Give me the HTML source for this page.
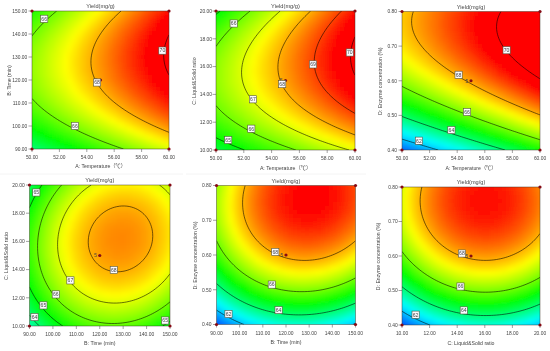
<!DOCTYPE html><html><head><meta charset="utf-8"><title>Yield contour plots</title><style>html,body{margin:0;padding:0;background:#fff}svg{display:block}text{font-family:"Liberation Sans","Noto Sans CJK SC",sans-serif;fill:#444}</style></head><body><svg width="550" height="351" viewBox="0 0 550 351"><defs><filter id="bl" filterUnits="userSpaceOnUse" x="0" y="0" width="550" height="351"><feGaussianBlur stdDeviation="2.0"/></filter><clipPath id="c1"><rect x="32" y="11" width="137" height="138"/></clipPath><clipPath id="c2"><rect x="216" y="11" width="139" height="139"/></clipPath><clipPath id="c3"><rect x="402" y="11.5" width="138" height="138.5"/></clipPath><clipPath id="c4"><rect x="29.5" y="185" width="140.5" height="141"/></clipPath><clipPath id="c5"><rect x="216.5" y="185.5" width="139" height="139"/></clipPath><clipPath id="c6"><rect x="402" y="187" width="138" height="138"/></clipPath></defs><rect width="550" height="351" fill="#fff"/><path d="M0 174h183M186 174h180" stroke="#f1f1f1" stroke-width="0.8" fill="none"/><g clip-path="url(#c1)"><g filter="url(#bl)" shape-rendering="crispEdges"><path fill="#00ff1b" d="M24 3h4v4h-4zM28 131h4v4h-4zM36 135h4v4h-4zM76 151h4v4h-4zM88 155h4v4h-4z"/><path fill="#00ff0c" d="M28 3h4v4h-4z"/><path fill="#03ff00" d="M32 3h4v4h-4zM32 127h4v4h-4zM40 131h4v4h-4zM48 135h4v4h-4z"/><path fill="#12ff00" d="M36 3h4v4h-4zM24 119h4v4h-4zM108 155h4v4h-4z"/><path fill="#21ff00" d="M40 3h4v4h-4zM36 123h4v4h-4z"/><path fill="#2dff00" d="M44 3h4v4h-4zM24 19h4v4h-4zM28 115h4v4h-4zM40 123h4v4h-4zM48 127h4v4h-4zM64 135h4v4h-4zM84 143h4v4h-4z"/><path fill="#3cff00" d="M48 3h4v4h-4zM28 111h4v4h-4zM100 147h4v4h-4zM112 151h4v4h-4z"/><path fill="#4bff00" d="M52 3h4v4h-4zM24 103h4v4h-4zM28 107h4v4h-4zM76 135h4v4h-4zM96 143h4v4h-4zM132 155h4v4h-4z"/><path fill="#57ff00" d="M56 3h4v4h-4zM36 19h4v4h-4zM32 23h4v4h-4zM24 99h4v4h-4zM28 103h4v4h-4zM32 107h4v4h-4zM56 123h4v4h-4zM72 131h4v4h-4zM80 135h4v4h-4zM100 143h4v4h-4zM112 147h4v4h-4zM124 151h4v4h-4z"/><path fill="#66ff00" d="M60 3h4v4h-4zM24 39h4v4h-4zM48 115h4v4h-4zM96 139h4v4h-4z"/><path fill="#75ff00" d="M64 3h4v4h-4zM28 39h4v4h-4zM24 47h4v4h-4zM28 91h4v4h-4zM48 111h4v4h-4zM60 119h4v4h-4zM92 135h4v4h-4zM112 143h4v4h-4zM124 147h4v4h-4zM136 151h4v4h-4z"/><path fill="#84ff00" d="M68 3h4v4h-4zM36 35h4v4h-4zM24 63h4v4h-4zM24 67h4v4h-4zM28 83h4v4h-4zM36 95h4v4h-4zM40 99h4v4h-4zM44 103h4v4h-4zM48 107h4v4h-4zM80 127h4v4h-4zM108 139h4v4h-4zM156 155h4v4h-4z"/><path fill="#90ff00" d="M72 3h4v4h-4zM32 47h4v4h-4zM28 63h4v4h-4zM28 67h4v4h-4zM32 83h4v4h-4zM40 95h4v4h-4zM44 99h4v4h-4zM48 103h4v4h-4zM64 115h4v4h-4zM124 143h4v4h-4zM148 151h4v4h-4z"/><path fill="#9fff00" d="M76 3h4v4h-4zM44 35h4v4h-4zM36 79h4v4h-4zM76 119h4v4h-4zM168 155h4v4h-4z"/><path fill="#aeff00" d="M80 3h4v4h-4zM48 35h4v4h-4zM40 51h4v4h-4zM136 143h4v4h-4zM148 147h4v4h-4z"/><path fill="#baff00" d="M84 3h4v4h-4zM52 35h4v4h-4zM44 51h4v4h-4zM68 107h4v4h-4zM120 135h4v4h-4z"/><path fill="#c9ff00" d="M88 3h4v4h-4zM56 35h4v4h-4zM52 43h4v4h-4zM48 51h4v4h-4zM48 75h4v4h-4zM60 95h4v4h-4zM64 99h4v4h-4zM68 103h4v4h-4zM92 119h4v4h-4zM116 131h4v4h-4zM136 139h4v4h-4zM172 151h4v4h-4z"/><path fill="#d8ff00" d="M92 3h4v4h-4zM64 31h4v4h-4zM56 43h4v4h-4zM52 55h4v4h-4zM52 71h4v4h-4zM56 83h4v4h-4zM84 111h4v4h-4zM132 135h4v4h-4z"/><path fill="#e4ff00" d="M96 3h4v4h-4zM60 43h4v4h-4zM56 55h4v4h-4zM56 71h4v4h-4zM60 83h4v4h-4zM88 111h4v4h-4zM136 135h4v4h-4z"/><path fill="#f3ff00" d="M100 3h4v4h-4zM72 31h4v4h-4zM60 59h4v4h-4zM60 63h4v4h-4zM60 67h4v4h-4zM64 79h4v4h-4zM68 87h4v4h-4zM88 107h4v4h-4zM100 115h4v4h-4zM124 127h4v4h-4zM132 131h4v4h-4z"/><path fill="#ffff00" d="M104 3h4v4h-4zM68 43h4v4h-4zM64 55h4v4h-4zM64 59h4v4h-4zM64 63h4v4h-4zM64 67h4v4h-4zM68 79h4v4h-4zM72 87h4v4h-4zM88 103h4v4h-4zM112 119h4v4h-4zM120 123h4v4h-4zM128 127h4v4h-4z"/><path fill="#fff000" d="M108 3h4v4h-4zM80 31h4v4h-4zM80 91h4v4h-4zM84 95h4v4h-4zM88 99h4v4h-4zM104 111h4v4h-4zM164 139h4v4h-4zM176 143h4v4h-4z"/><path fill="#ffe100" d="M112 3h4v4h-4zM84 31h4v4h-4zM76 47h4v4h-4zM76 75h4v4h-4zM80 83h4v4h-4zM116 115h4v4h-4zM140 127h4v4h-4z"/><path fill="#ffd200" d="M116 3h4v4h-4zM92 27h4v4h-4zM84 39h4v4h-4zM80 47h4v4h-4zM176 139h4v4h-4z"/><path fill="#ffc600" d="M120 3h4v4h-4zM92 31h4v4h-4zM88 39h4v4h-4zM84 47h4v4h-4zM108 103h4v4h-4zM160 131h4v4h-4z"/><path fill="#ffb700" d="M124 3h4v4h-4zM100 27h4v4h-4zM92 39h4v4h-4zM88 51h4v4h-4zM88 71h4v4h-4zM100 91h4v4h-4zM104 95h4v4h-4zM108 99h4v4h-4zM132 115h4v4h-4zM156 127h4v4h-4zM176 135h4v4h-4z"/><path fill="#ffa800" d="M128 3h4v4h-4zM124 7h4v4h-4zM104 27h4v4h-4zM92 51h4v4h-4zM92 55h4v4h-4zM92 67h4v4h-4zM96 79h4v4h-4zM124 107h4v4h-4zM172 131h4v4h-4z"/><path fill="#ff9c00" d="M132 3h4v4h-4zM108 27h4v4h-4zM100 39h4v4h-4zM96 51h4v4h-4zM96 67h4v4h-4zM100 79h4v4h-4zM128 107h4v4h-4zM176 131h4v4h-4z"/><path fill="#ff8d00" d="M136 3h4v4h-4zM112 27h4v4h-4zM100 55h4v4h-4zM100 59h4v4h-4zM100 63h4v4h-4zM108 83h4v4h-4zM128 103h4v4h-4zM140 111h4v4h-4zM172 127h4v4h-4z"/><path fill="#ff7e00" d="M140 3h4v4h-4zM136 7h4v4h-4zM120 23h4v4h-4zM112 35h4v4h-4zM108 43h4v4h-4zM108 75h4v4h-4zM116 87h4v4h-4zM120 91h4v4h-4zM124 95h4v4h-4zM128 99h4v4h-4z"/><path fill="#ff7200" d="M144 3h4v4h-4zM120 27h4v4h-4zM112 75h4v4h-4zM120 87h4v4h-4zM124 91h4v4h-4zM128 95h4v4h-4zM144 107h4v4h-4z"/><path fill="#ff6300" d="M148 3h4v4h-4zM128 23h4v4h-4zM120 35h4v4h-4zM116 43h4v4h-4zM116 71h4v4h-4zM120 79h4v4h-4zM156 111h4v4h-4z"/><path fill="#ff5700" d="M152 3h4v4h-4zM120 43h4v4h-4zM120 71h4v4h-4zM124 79h4v4h-4zM148 103h4v4h-4zM160 111h4v4h-4zM168 115h4v4h-4zM176 119h4v4h-4z"/><path fill="#ff4800" d="M156 3h4v4h-4zM136 23h4v4h-4zM128 35h4v4h-4zM148 99h4v4h-4z"/><path fill="#ff3900" d="M160 3h4v4h-4zM156 7h4v4h-4zM144 19h4v4h-4zM128 47h4v4h-4zM128 67h4v4h-4zM140 87h4v4h-4zM144 91h4v4h-4zM148 95h4v4h-4zM172 111h4v4h-4z"/><path fill="#ff2d00" d="M164 3h4v4h-4zM144 23h4v4h-4zM136 35h4v4h-4zM132 47h4v4h-4zM132 67h4v4h-4zM136 75h4v4h-4zM144 87h4v4h-4zM148 91h4v4h-4zM152 95h4v4h-4zM176 111h4v4h-4z"/><path fill="#ff1e00" d="M168 3h4v4h-4zM164 7h4v4h-4zM152 19h4v4h-4zM136 51h4v4h-4zM136 59h4v4h-4zM136 63h4v4h-4z"/><path fill="#ff1200" d="M172 3h4v4h-4zM152 23h4v4h-4zM140 47h4v4h-4zM140 51h4v4h-4zM140 59h4v4h-4zM140 63h4v4h-4z"/><path fill="#ff0300" d="M176 3h4v4h-4zM160 19h4v4h-4zM144 51h4v4h-4zM144 55h4v4h-4zM144 59h4v4h-4zM148 71h4v4h-4zM152 79h4v4h-4zM168 95h4v4h-4z"/><path fill="#00ff06" d="M24 7h4v4h-4zM28 127h4v4h-4zM36 131h4v4h-4zM44 135h4v4h-4z"/><path fill="#09ff00" d="M28 7h4v4h-4zM80 147h4v4h-4zM104 155h4v4h-4z"/><path fill="#15ff00" d="M32 7h4v4h-4zM64 139h4v4h-4zM84 147h4v4h-4zM96 151h4v4h-4z"/><path fill="#24ff00" d="M36 7h4v4h-4zM24 115h4v4h-4zM44 127h4v4h-4zM52 131h4v4h-4zM60 135h4v4h-4zM80 143h4v4h-4z"/><path fill="#33ff00" d="M40 7h4v4h-4zM24 111h4v4h-4zM36 119h4v4h-4zM76 139h4v4h-4z"/><path fill="#42ff00" d="M44 7h4v4h-4zM48 123h4v4h-4zM64 131h4v4h-4zM72 135h4v4h-4zM92 143h4v4h-4zM128 155h4v4h-4z"/><path fill="#4eff00" d="M48 7h4v4h-4zM40 115h4v4h-4zM52 123h4v4h-4zM60 127h4v4h-4zM68 131h4v4h-4zM108 147h4v4h-4zM120 151h4v4h-4z"/><path fill="#5dff00" d="M52 7h4v4h-4zM24 35h4v4h-4zM40 111h4v4h-4zM92 139h4v4h-4z"/><path fill="#6cff00" d="M56 7h4v4h-4zM28 35h4v4h-4zM28 95h4v4h-4zM40 107h4v4h-4zM64 123h4v4h-4zM80 131h4v4h-4zM88 135h4v4h-4zM120 147h4v4h-4zM132 151h4v4h-4z"/><path fill="#78ff00" d="M60 7h4v4h-4zM32 35h4v4h-4zM24 83h4v4h-4zM32 95h4v4h-4zM44 107h4v4h-4zM68 123h4v4h-4zM76 127h4v4h-4zM84 131h4v4h-4z"/><path fill="#87ff00" d="M64 7h4v4h-4zM28 51h4v4h-4zM28 79h4v4h-4zM60 115h4v4h-4zM120 143h4v4h-4zM132 147h4v4h-4zM144 151h4v4h-4z"/><path fill="#96ff00" d="M68 7h4v4h-4zM44 31h4v4h-4zM36 43h4v4h-4zM36 87h4v4h-4zM60 111h4v4h-4zM72 119h4v4h-4zM80 123h4v4h-4zM96 131h4v4h-4zM164 155h4v4h-4z"/><path fill="#a2ff00" d="M72 7h4v4h-4zM40 43h4v4h-4zM36 51h4v4h-4zM40 87h4v4h-4zM64 111h4v4h-4zM84 123h4v4h-4zM92 127h4v4h-4zM100 131h4v4h-4zM120 139h4v4h-4zM156 151h4v4h-4z"/><path fill="#b1ff00" d="M76 7h4v4h-4zM52 31h4v4h-4zM44 43h4v4h-4zM40 55h4v4h-4zM40 75h4v4h-4zM48 91h4v4h-4zM52 95h4v4h-4zM60 103h4v4h-4zM64 107h4v4h-4zM76 115h4v4h-4zM116 135h4v4h-4zM176 155h4v4h-4z"/><path fill="#bdff00" d="M80 7h4v4h-4zM56 31h4v4h-4zM48 43h4v4h-4zM44 55h4v4h-4zM44 75h4v4h-4zM52 91h4v4h-4zM56 95h4v4h-4zM60 99h4v4h-4zM64 103h4v4h-4zM80 115h4v4h-4z"/><path fill="#ccff00" d="M84 7h4v4h-4zM60 31h4v4h-4zM48 55h4v4h-4zM48 59h4v4h-4zM48 67h4v4h-4zM48 71h4v4h-4zM52 83h4v4h-4zM80 111h4v4h-4zM100 123h4v4h-4zM108 127h4v4h-4zM148 143h4v4h-4zM160 147h4v4h-4z"/><path fill="#dbff00" d="M88 7h4v4h-4zM68 27h4v4h-4zM52 59h4v4h-4zM52 63h4v4h-4zM52 67h4v4h-4zM56 79h4v4h-4zM60 87h4v4h-4zM80 107h4v4h-4z"/><path fill="#e7ff00" d="M92 7h4v4h-4zM68 31h4v4h-4zM56 59h4v4h-4zM56 63h4v4h-4zM56 67h4v4h-4zM60 79h4v4h-4zM64 87h4v4h-4zM84 107h4v4h-4zM96 115h4v4h-4zM128 131h4v4h-4zM148 139h4v4h-4zM160 143h4v4h-4zM172 147h4v4h-4z"/><path fill="#f6ff00" d="M96 7h4v4h-4zM76 27h4v4h-4zM68 39h4v4h-4zM64 47h4v4h-4zM72 91h4v4h-4zM76 95h4v4h-4zM80 99h4v4h-4zM84 103h4v4h-4zM108 119h4v4h-4zM116 123h4v4h-4zM144 135h4v4h-4z"/><path fill="#fff900" d="M100 7h4v4h-4zM96 11h4v4h-4zM84 23h4v4h-4zM80 27h4v4h-4zM72 39h4v4h-4zM68 75h4v4h-4zM72 83h4v4h-4zM140 131h4v4h-4zM160 139h4v4h-4zM172 143h4v4h-4z"/><path fill="#ffed00" d="M104 7h4v4h-4zM84 27h4v4h-4zM76 39h4v4h-4zM72 47h4v4h-4zM72 75h4v4h-4zM76 83h4v4h-4zM112 115h4v4h-4zM144 131h4v4h-4z"/><path fill="#ffde00" d="M108 7h4v4h-4zM92 23h4v4h-4zM88 27h4v4h-4zM80 39h4v4h-4zM76 51h4v4h-4zM104 107h4v4h-4zM124 119h4v4h-4zM132 123h4v4h-4zM160 135h4v4h-4zM172 139h4v4h-4z"/><path fill="#ffcf00" d="M112 7h4v4h-4zM108 11h4v4h-4zM100 19h4v4h-4zM96 23h4v4h-4zM80 51h4v4h-4zM80 71h4v4h-4zM88 87h4v4h-4zM92 91h4v4h-4zM100 99h4v4h-4zM104 103h4v4h-4zM116 111h4v4h-4zM156 131h4v4h-4z"/><path fill="#ffc300" d="M116 7h4v4h-4zM96 27h4v4h-4zM84 51h4v4h-4zM84 71h4v4h-4zM92 87h4v4h-4zM96 91h4v4h-4zM100 95h4v4h-4zM104 99h4v4h-4zM120 111h4v4h-4z"/><path fill="#ffb400" d="M120 7h4v4h-4zM116 11h4v4h-4zM104 23h4v4h-4zM88 55h4v4h-4zM88 59h4v4h-4zM88 63h4v4h-4zM88 67h4v4h-4zM92 79h4v4h-4zM120 107h4v4h-4zM140 119h4v4h-4zM148 123h4v4h-4z"/><path fill="#ff9900" d="M128 7h4v4h-4zM112 23h4v4h-4zM96 55h4v4h-4zM96 59h4v4h-4zM96 63h4v4h-4zM104 83h4v4h-4zM124 103h4v4h-4zM136 111h4v4h-4zM168 127h4v4h-4z"/><path fill="#ff8a00" d="M132 7h4v4h-4zM128 11h4v4h-4zM124 15h4v4h-4zM120 19h4v4h-4zM116 23h4v4h-4zM108 35h4v4h-4zM104 43h4v4h-4zM104 75h4v4h-4zM112 87h4v4h-4zM124 99h4v4h-4zM148 115h4v4h-4zM156 119h4v4h-4zM164 123h4v4h-4z"/><path fill="#ff6f00" d="M140 7h4v4h-4zM136 11h4v4h-4zM128 19h4v4h-4zM124 23h4v4h-4zM116 35h4v4h-4zM112 43h4v4h-4zM112 71h4v4h-4z"/><path fill="#ff6000" d="M144 7h4v4h-4zM140 11h4v4h-4zM136 15h4v4h-4zM132 19h4v4h-4zM116 47h4v4h-4zM144 103h4v4h-4zM164 115h4v4h-4zM172 119h4v4h-4z"/><path fill="#ff5400" d="M148 7h4v4h-4zM136 19h4v4h-4zM132 23h4v4h-4zM124 35h4v4h-4z"/><path fill="#ff4500" d="M152 7h4v4h-4zM148 11h4v4h-4zM144 15h4v4h-4zM140 19h4v4h-4zM124 47h4v4h-4zM124 67h4v4h-4zM132 83h4v4h-4zM136 87h4v4h-4zM140 91h4v4h-4zM144 95h4v4h-4zM160 107h4v4h-4z"/><path fill="#ff2a00" d="M160 7h4v4h-4zM156 11h4v4h-4zM152 15h4v4h-4zM148 19h4v4h-4zM132 51h4v4h-4zM132 55h4v4h-4zM132 59h4v4h-4zM132 63h4v4h-4zM164 103h4v4h-4z"/><path fill="#ff0f00" d="M168 7h4v4h-4zM164 11h4v4h-4zM160 15h4v4h-4zM156 19h4v4h-4zM148 31h4v4h-4zM144 39h4v4h-4zM140 55h4v4h-4zM144 71h4v4h-4zM148 79h4v4h-4zM168 99h4v4h-4z"/><path fill="#ff0000" d="M172 7h8v4h-8zM168 11h12v4h-12zM164 15h16v4h-16zM164 19h16v4h-16zM160 23h20v4h-20zM156 27h24v4h-24zM152 31h28v4h-28zM152 35h28v4h-28zM148 39h32v4h-32zM148 43h32v4h-32zM148 47h32v4h-32zM148 51h32v4h-32zM148 55h32v4h-32zM148 59h32v4h-32zM148 63h32v4h-32zM148 67h32v4h-32zM152 71h28v4h-28zM152 75h28v4h-28zM156 79h24v4h-24zM156 83h24v4h-24zM160 87h20v4h-20zM164 91h16v4h-16zM172 95h8v4h-8zM176 99h4v4h-4z"/><path fill="#0cff00" d="M24 11h4v4h-4zM28 123h4v4h-4zM60 139h4v4h-4zM92 151h4v4h-4z"/><path fill="#1bff00" d="M28 11h4v4h-4zM48 131h4v4h-4zM76 143h4v4h-4z"/><path fill="#27ff00" d="M32 11h4v4h-4zM32 119h4v4h-4zM92 147h4v4h-4zM104 151h4v4h-4zM116 155h4v4h-4z"/><path fill="#36ff00" d="M36 11h4v4h-4zM44 123h4v4h-4zM68 135h4v4h-4z"/><path fill="#45ff00" d="M40 11h4v4h-4zM36 15h4v4h-4zM36 115h4v4h-4zM56 127h4v4h-4zM104 147h4v4h-4zM116 151h4v4h-4z"/><path fill="#51ff00" d="M44 11h4v4h-4zM88 139h4v4h-4z"/><path fill="#60ff00" d="M48 11h4v4h-4zM28 31h4v4h-4zM24 95h4v4h-4zM36 107h4v4h-4zM52 119h4v4h-4zM84 135h4v4h-4zM104 143h4v4h-4zM128 151h4v4h-4zM140 155h4v4h-4z"/><path fill="#6fff00" d="M52 11h4v4h-4zM48 15h4v4h-4zM36 27h4v4h-4zM32 31h4v4h-4zM24 43h4v4h-4zM32 99h4v4h-4zM36 103h4v4h-4zM52 115h4v4h-4zM72 127h4v4h-4zM100 139h4v4h-4z"/><path fill="#7bff00" d="M56 11h4v4h-4zM36 31h4v4h-4zM28 43h4v4h-4zM24 51h4v4h-4zM24 79h4v4h-4zM36 99h4v4h-4zM40 103h4v4h-4zM56 115h4v4h-4zM104 139h4v4h-4zM152 155h4v4h-4z"/><path fill="#8aff00" d="M60 11h4v4h-4zM44 27h4v4h-4zM40 31h4v4h-4zM32 43h4v4h-4zM28 55h4v4h-4zM32 87h4v4h-4zM56 111h4v4h-4zM68 119h4v4h-4zM100 135h4v4h-4z"/><path fill="#99ff00" d="M64 11h4v4h-4zM60 15h4v4h-4zM56 19h4v4h-4zM52 23h4v4h-4zM48 27h4v4h-4zM32 55h4v4h-4zM32 59h4v4h-4zM32 75h4v4h-4zM40 91h4v4h-4zM56 107h4v4h-4zM88 127h4v4h-4zM116 139h4v4h-4zM152 151h4v4h-4z"/><path fill="#a5ff00" d="M68 11h4v4h-4zM52 27h4v4h-4zM48 31h4v4h-4zM36 55h4v4h-4zM36 75h4v4h-4zM44 91h4v4h-4zM60 107h4v4h-4zM132 143h4v4h-4zM144 147h4v4h-4z"/><path fill="#b4ff00" d="M72 11h4v4h-4zM68 15h4v4h-4zM60 23h4v4h-4zM56 27h4v4h-4zM40 59h4v4h-4zM40 63h4v4h-4zM40 67h4v4h-4zM40 71h4v4h-4zM44 83h4v4h-4zM56 99h4v4h-4zM84 119h4v4h-4zM108 131h4v4h-4z"/><path fill="#c0ff00" d="M76 11h4v4h-4zM60 27h4v4h-4zM44 59h4v4h-4zM44 63h4v4h-4zM44 67h4v4h-4zM44 71h4v4h-4zM48 83h4v4h-4zM88 119h4v4h-4zM96 123h4v4h-4zM104 127h4v4h-4zM112 131h4v4h-4zM132 139h4v4h-4zM144 143h4v4h-4zM156 147h4v4h-4zM168 151h4v4h-4z"/><path fill="#cfff00" d="M80 11h4v4h-4zM76 15h4v4h-4zM68 23h4v4h-4zM64 27h4v4h-4zM56 39h4v4h-4zM52 47h4v4h-4zM48 63h4v4h-4zM52 79h4v4h-4zM56 87h4v4h-4zM128 135h4v4h-4z"/><path fill="#deff00" d="M84 11h4v4h-4zM80 15h4v4h-4zM76 19h4v4h-4zM72 23h4v4h-4zM60 39h4v4h-4zM56 47h4v4h-4zM64 91h4v4h-4zM76 103h4v4h-4zM92 115h4v4h-4zM100 119h4v4h-4zM124 131h4v4h-4zM144 139h4v4h-4zM156 143h4v4h-4zM168 147h4v4h-4z"/><path fill="#eaff00" d="M88 11h4v4h-4zM76 23h4v4h-4zM72 27h4v4h-4zM64 39h4v4h-4zM60 47h4v4h-4zM68 91h4v4h-4zM80 103h4v4h-4zM104 119h4v4h-4zM112 123h4v4h-4zM120 127h4v4h-4z"/><path fill="#f9ff00" d="M92 11h4v4h-4zM88 15h4v4h-4zM84 19h4v4h-4zM80 23h4v4h-4zM64 75h4v4h-4zM68 83h4v4h-4zM96 111h4v4h-4zM156 139h4v4h-4z"/><path fill="#ffea00" d="M100 11h4v4h-4zM96 15h4v4h-4zM92 19h4v4h-4zM88 23h4v4h-4zM72 51h4v4h-4zM72 71h4v4h-4zM100 107h4v4h-4zM120 119h4v4h-4zM128 123h4v4h-4zM136 127h4v4h-4zM156 135h4v4h-4z"/><path fill="#ffdb00" d="M104 11h4v4h-4zM100 15h4v4h-4zM96 19h4v4h-4zM76 55h4v4h-4zM76 67h4v4h-4zM76 71h4v4h-4zM84 87h4v4h-4zM88 91h4v4h-4zM100 103h4v4h-4zM112 111h4v4h-4zM152 131h4v4h-4z"/><path fill="#ffc000" d="M112 11h4v4h-4zM108 15h4v4h-4zM104 19h4v4h-4zM100 23h4v4h-4zM92 35h4v4h-4zM84 55h4v4h-4zM84 59h4v4h-4zM84 63h4v4h-4zM84 67h4v4h-4zM88 79h4v4h-4zM128 115h4v4h-4zM136 119h4v4h-4zM144 123h4v4h-4zM152 127h4v4h-4zM172 135h4v4h-4z"/><path fill="#ffa500" d="M120 11h4v4h-4zM116 15h4v4h-4zM112 19h4v4h-4zM108 23h4v4h-4zM100 35h4v4h-4zM96 43h4v4h-4zM92 59h4v4h-4zM92 63h4v4h-4zM100 83h4v4h-4zM120 103h4v4h-4z"/><path fill="#ff9600" d="M124 11h4v4h-4zM120 15h4v4h-4zM116 19h4v4h-4zM104 35h4v4h-4zM100 43h4v4h-4zM100 75h4v4h-4zM108 87h4v4h-4zM120 99h4v4h-4zM144 115h4v4h-4zM152 119h4v4h-4zM160 123h4v4h-4z"/><path fill="#ff7b00" d="M132 11h4v4h-4zM128 15h4v4h-4zM124 19h4v4h-4zM108 71h4v4h-4zM140 107h4v4h-4z"/><path fill="#ff5100" d="M144 11h4v4h-4zM140 15h4v4h-4zM128 31h4v4h-4zM120 47h4v4h-4zM120 51h4v4h-4zM120 63h4v4h-4zM120 67h4v4h-4zM128 83h4v4h-4zM132 87h4v4h-4zM140 95h4v4h-4zM144 99h4v4h-4zM156 107h4v4h-4z"/><path fill="#ff3600" d="M152 11h4v4h-4zM148 15h4v4h-4zM136 31h4v4h-4zM132 39h4v4h-4zM128 51h4v4h-4zM128 55h4v4h-4zM128 59h4v4h-4zM128 63h4v4h-4zM132 75h4v4h-4zM160 103h4v4h-4z"/><path fill="#ff1b00" d="M160 11h4v4h-4zM156 15h4v4h-4zM144 31h4v4h-4zM140 39h4v4h-4zM136 55h4v4h-4zM140 71h4v4h-4zM144 79h4v4h-4zM164 99h4v4h-4zM176 107h4v4h-4z"/><path fill="#1eff00" d="M24 15h4v4h-4zM28 119h4v4h-4zM68 139h4v4h-4zM88 147h4v4h-4zM100 151h4v4h-4zM112 155h4v4h-4z"/><path fill="#2aff00" d="M28 15h4v4h-4zM72 139h4v4h-4z"/><path fill="#39ff00" d="M32 15h4v4h-4zM28 19h4v4h-4zM24 23h4v4h-4zM32 115h4v4h-4zM52 127h4v4h-4zM60 131h4v4h-4zM88 143h4v4h-4zM124 155h4v4h-4z"/><path fill="#54ff00" d="M40 15h4v4h-4zM28 27h4v4h-4zM24 31h4v4h-4zM36 111h4v4h-4zM48 119h4v4h-4zM136 155h4v4h-4z"/><path fill="#63ff00" d="M44 15h4v4h-4zM40 19h4v4h-4zM36 23h4v4h-4zM32 27h4v4h-4zM28 99h4v4h-4zM32 103h4v4h-4zM60 123h4v4h-4zM68 127h4v4h-4zM76 131h4v4h-4zM116 147h4v4h-4z"/><path fill="#7eff00" d="M52 15h4v4h-4zM48 19h4v4h-4zM44 23h4v4h-4zM40 27h4v4h-4zM24 55h4v4h-4zM24 75h4v4h-4zM28 87h4v4h-4zM64 119h4v4h-4zM96 135h4v4h-4zM116 143h4v4h-4zM128 147h4v4h-4zM140 151h4v4h-4z"/><path fill="#8dff00" d="M56 15h4v4h-4zM52 19h4v4h-4zM48 23h4v4h-4zM36 39h4v4h-4zM28 59h4v4h-4zM28 71h4v4h-4zM28 75h4v4h-4zM36 91h4v4h-4zM52 107h4v4h-4zM76 123h4v4h-4zM84 127h4v4h-4zM92 131h4v4h-4zM112 139h4v4h-4zM160 155h4v4h-4z"/><path fill="#a8ff00" d="M64 15h4v4h-4zM60 19h4v4h-4zM56 23h4v4h-4zM44 39h4v4h-4zM40 47h4v4h-4zM36 59h4v4h-4zM36 63h4v4h-4zM36 67h4v4h-4zM36 71h4v4h-4zM40 83h4v4h-4zM48 95h4v4h-4zM52 99h4v4h-4zM56 103h4v4h-4zM72 115h4v4h-4zM112 135h4v4h-4zM172 155h4v4h-4z"/><path fill="#c3ff00" d="M72 15h4v4h-4zM68 19h4v4h-4zM64 23h4v4h-4zM52 39h4v4h-4zM48 47h4v4h-4zM48 79h4v4h-4zM52 87h4v4h-4zM76 111h4v4h-4z"/><path fill="#edff00" d="M84 15h4v4h-4zM80 19h4v4h-4zM60 51h4v4h-4zM60 75h4v4h-4zM64 83h4v4h-4zM72 95h4v4h-4zM76 99h4v4h-4zM92 111h4v4h-4zM140 135h4v4h-4z"/><path fill="#fff600" d="M92 15h4v4h-4zM88 19h4v4h-4zM68 51h4v4h-4zM68 71h4v4h-4zM96 107h4v4h-4zM108 115h4v4h-4zM132 127h4v4h-4z"/><path fill="#ffcc00" d="M104 15h4v4h-4zM88 35h4v4h-4zM84 43h4v4h-4zM80 55h4v4h-4zM80 59h4v4h-4zM80 63h4v4h-4zM80 67h4v4h-4zM84 79h4v4h-4zM96 95h4v4h-4zM124 115h4v4h-4zM148 127h4v4h-4zM168 135h4v4h-4z"/><path fill="#ffb100" d="M112 15h4v4h-4zM108 19h4v4h-4zM96 35h4v4h-4zM92 43h4v4h-4zM92 75h4v4h-4zM96 83h4v4h-4zM168 131h4v4h-4z"/><path fill="#ff6c00" d="M132 15h4v4h-4zM112 47h4v4h-4zM112 67h4v4h-4zM116 79h4v4h-4zM140 103h4v4h-4zM152 111h4v4h-4zM160 115h4v4h-4zM168 119h4v4h-4zM176 123h4v4h-4z"/><path fill="#48ff00" d="M32 19h4v4h-4zM28 23h4v4h-4zM24 27h4v4h-4zM32 111h4v4h-4zM44 119h4v4h-4zM84 139h4v4h-4z"/><path fill="#72ff00" d="M44 19h4v4h-4zM40 23h4v4h-4zM24 87h4v4h-4zM148 155h4v4h-4z"/><path fill="#b7ff00" d="M64 19h4v4h-4zM48 39h4v4h-4zM44 47h4v4h-4zM44 79h4v4h-4zM48 87h4v4h-4zM72 111h4v4h-4zM92 123h4v4h-4zM100 127h4v4h-4zM128 139h4v4h-4zM140 143h4v4h-4zM152 147h4v4h-4zM164 151h4v4h-4z"/><path fill="#d2ff00" d="M72 19h4v4h-4zM60 91h4v4h-4zM76 107h4v4h-4zM88 115h4v4h-4zM120 131h4v4h-4zM140 139h4v4h-4zM176 151h4v4h-4z"/><path fill="#ff3c00" d="M140 23h4v4h-4zM132 35h4v4h-4zM128 43h4v4h-4zM136 83h4v4h-4zM152 99h4v4h-4zM164 107h4v4h-4z"/><path fill="#ff2100" d="M148 23h4v4h-4zM140 35h4v4h-4zM136 47h4v4h-4zM136 67h4v4h-4zM140 75h4v4h-4zM148 87h4v4h-4zM152 91h4v4h-4zM168 103h4v4h-4z"/><path fill="#ff0600" d="M156 23h4v4h-4zM148 35h4v4h-4zM144 47h4v4h-4zM144 63h4v4h-4zM172 99h4v4h-4z"/><path fill="#ff8100" d="M116 27h4v4h-4zM104 55h4v4h-4zM104 59h4v4h-4zM104 63h4v4h-4zM112 83h4v4h-4zM132 103h4v4h-4zM152 115h4v4h-4zM160 119h4v4h-4zM168 123h4v4h-4z"/><path fill="#ff6600" d="M124 27h4v4h-4zM112 59h4v4h-4zM116 75h4v4h-4zM124 87h4v4h-4zM128 91h4v4h-4zM132 95h4v4h-4zM148 107h4v4h-4z"/><path fill="#ff5a00" d="M128 27h4v4h-4zM116 55h4v4h-4zM116 59h4v4h-4zM120 75h4v4h-4zM128 87h4v4h-4zM132 91h4v4h-4zM136 95h4v4h-4z"/><path fill="#ff4b00" d="M132 27h4v4h-4zM124 43h4v4h-4zM124 71h4v4h-4zM128 79h4v4h-4zM152 103h4v4h-4zM172 115h4v4h-4z"/><path fill="#ff3f00" d="M136 27h4v4h-4zM128 71h4v4h-4zM132 79h4v4h-4zM156 103h4v4h-4z"/><path fill="#ff3000" d="M140 27h4v4h-4zM132 43h4v4h-4zM140 83h4v4h-4zM156 99h4v4h-4zM168 107h4v4h-4z"/><path fill="#ff2400" d="M144 27h4v4h-4zM136 43h4v4h-4zM144 83h4v4h-4zM156 95h4v4h-4z"/><path fill="#ff1500" d="M148 27h4v4h-4zM144 35h4v4h-4zM140 43h4v4h-4zM140 67h4v4h-4zM144 75h4v4h-4zM152 87h4v4h-4zM156 91h4v4h-4zM172 103h4v4h-4z"/><path fill="#ff0900" d="M152 27h4v4h-4zM144 43h4v4h-4zM144 67h4v4h-4zM148 75h4v4h-4zM176 103h4v4h-4z"/><path fill="#fffc00" d="M76 31h4v4h-4zM68 47h4v4h-4zM76 91h4v4h-4zM80 95h4v4h-4zM84 99h4v4h-4zM100 111h4v4h-4zM148 135h4v4h-4z"/><path fill="#ffd500" d="M88 31h4v4h-4zM80 75h4v4h-4zM84 83h4v4h-4zM108 107h4v4h-4zM120 115h4v4h-4zM128 119h4v4h-4zM136 123h4v4h-4zM144 127h4v4h-4zM164 135h4v4h-4z"/><path fill="#ffba00" d="M96 31h4v4h-4zM88 47h4v4h-4zM96 87h4v4h-4zM112 103h4v4h-4zM124 111h4v4h-4zM164 131h4v4h-4z"/><path fill="#ffae00" d="M100 31h4v4h-4zM92 47h4v4h-4zM100 87h4v4h-4zM116 103h4v4h-4zM128 111h4v4h-4zM160 127h4v4h-4z"/><path fill="#ff9f00" d="M104 31h4v4h-4zM96 47h4v4h-4zM96 71h4v4h-4zM108 91h4v4h-4zM112 95h4v4h-4zM140 115h4v4h-4zM148 119h4v4h-4zM156 123h4v4h-4z"/><path fill="#ff9300" d="M108 31h4v4h-4zM100 47h4v4h-4zM100 71h4v4h-4zM112 91h4v4h-4zM116 95h4v4h-4zM132 107h4v4h-4z"/><path fill="#ff8400" d="M112 31h4v4h-4zM108 39h4v4h-4zM104 51h4v4h-4zM104 67h4v4h-4zM108 79h4v4h-4zM144 111h4v4h-4zM176 127h4v4h-4z"/><path fill="#ff7800" d="M116 31h4v4h-4zM108 47h4v4h-4zM108 67h4v4h-4zM112 79h4v4h-4zM136 103h4v4h-4zM148 111h4v4h-4zM172 123h4v4h-4z"/><path fill="#ff6900" d="M120 31h4v4h-4zM116 39h4v4h-4zM112 51h4v4h-4zM112 55h4v4h-4zM112 63h4v4h-4zM120 83h4v4h-4zM136 99h4v4h-4z"/><path fill="#ff5d00" d="M124 31h4v4h-4zM120 39h4v4h-4zM116 51h4v4h-4zM116 63h4v4h-4zM116 67h4v4h-4zM124 83h4v4h-4zM140 99h4v4h-4zM152 107h4v4h-4z"/><path fill="#ff4200" d="M132 31h4v4h-4zM128 39h4v4h-4zM124 51h4v4h-4zM124 55h4v4h-4zM124 59h4v4h-4zM124 63h4v4h-4zM128 75h4v4h-4zM168 111h4v4h-4zM176 115h4v4h-4z"/><path fill="#ff2700" d="M140 31h4v4h-4zM136 39h4v4h-4zM136 71h4v4h-4zM140 79h4v4h-4zM160 99h4v4h-4zM172 107h4v4h-4z"/><path fill="#93ff00" d="M40 35h4v4h-4zM32 51h4v4h-4zM32 79h4v4h-4zM104 135h4v4h-4zM136 147h4v4h-4z"/><path fill="#d5ff00" d="M60 35h4v4h-4zM52 51h4v4h-4zM52 75h4v4h-4zM64 95h4v4h-4zM68 99h4v4h-4zM72 103h4v4h-4zM96 119h4v4h-4zM104 123h4v4h-4zM112 127h4v4h-4zM152 143h4v4h-4zM164 147h4v4h-4z"/><path fill="#e1ff00" d="M64 35h4v4h-4zM56 51h4v4h-4zM56 75h4v4h-4zM68 95h4v4h-4zM72 99h4v4h-4zM108 123h4v4h-4zM116 127h4v4h-4z"/><path fill="#f0ff00" d="M68 35h4v4h-4zM64 43h4v4h-4zM60 55h4v4h-4zM60 71h4v4h-4zM152 139h4v4h-4zM164 143h4v4h-4zM176 147h4v4h-4z"/><path fill="#fcff00" d="M72 35h4v4h-4zM64 51h4v4h-4zM64 71h4v4h-4zM92 107h4v4h-4zM104 115h4v4h-4zM136 131h4v4h-4zM168 143h4v4h-4z"/><path fill="#fff300" d="M76 35h4v4h-4zM72 43h4v4h-4zM68 55h4v4h-4zM68 59h4v4h-4zM68 63h4v4h-4zM68 67h4v4h-4zM72 79h4v4h-4zM76 87h4v4h-4zM92 103h4v4h-4zM116 119h4v4h-4zM124 123h4v4h-4zM152 135h4v4h-4z"/><path fill="#ffe700" d="M80 35h4v4h-4zM76 43h4v4h-4zM72 55h4v4h-4zM72 67h4v4h-4zM80 87h4v4h-4zM96 103h4v4h-4zM168 139h4v4h-4z"/><path fill="#ffd800" d="M84 35h4v4h-4zM80 43h4v4h-4zM76 59h4v4h-4zM76 63h4v4h-4zM80 79h4v4h-4zM92 95h4v4h-4zM96 99h4v4h-4z"/><path fill="#81ff00" d="M32 39h4v4h-4zM28 47h4v4h-4zM24 59h4v4h-4zM24 71h4v4h-4zM32 91h4v4h-4zM52 111h4v4h-4zM72 123h4v4h-4zM88 131h4v4h-4z"/><path fill="#9cff00" d="M40 39h4v4h-4zM36 47h4v4h-4zM32 63h4v4h-4zM32 67h4v4h-4zM32 71h4v4h-4zM36 83h4v4h-4zM44 95h4v4h-4zM48 99h4v4h-4zM52 103h4v4h-4zM68 115h4v4h-4zM108 135h4v4h-4zM128 143h4v4h-4zM140 147h4v4h-4z"/><path fill="#ffab00" d="M96 39h4v4h-4zM92 71h4v4h-4zM104 91h4v4h-4zM108 95h4v4h-4zM112 99h4v4h-4zM136 115h4v4h-4zM144 119h4v4h-4zM152 123h4v4h-4z"/><path fill="#ff9000" d="M104 39h4v4h-4zM100 51h4v4h-4zM100 67h4v4h-4zM104 79h4v4h-4z"/><path fill="#ff7500" d="M112 39h4v4h-4zM108 51h4v4h-4zM108 55h4v4h-4zM108 59h4v4h-4zM108 63h4v4h-4zM116 83h4v4h-4zM132 99h4v4h-4zM156 115h4v4h-4zM164 119h4v4h-4z"/><path fill="#ff4e00" d="M124 39h4v4h-4zM120 55h4v4h-4zM120 59h4v4h-4zM124 75h4v4h-4zM136 91h4v4h-4zM164 111h4v4h-4z"/><path fill="#ffbd00" d="M88 43h4v4h-4zM88 75h4v4h-4zM92 83h4v4h-4zM116 107h4v4h-4z"/><path fill="#ff8700" d="M104 47h4v4h-4zM104 71h4v4h-4zM116 91h4v4h-4zM120 95h4v4h-4zM136 107h4v4h-4z"/><path fill="#ffe400" d="M72 59h4v4h-4zM72 63h4v4h-4zM76 79h4v4h-4zM84 91h4v4h-4zM88 95h4v4h-4zM92 99h4v4h-4zM108 111h4v4h-4zM148 131h4v4h-4z"/><path fill="#ff3300" d="M132 71h4v4h-4zM136 79h4v4h-4z"/><path fill="#ffc900" d="M84 75h4v4h-4zM88 83h4v4h-4zM112 107h4v4h-4zM132 119h4v4h-4zM140 123h4v4h-4z"/><path fill="#ffa200" d="M96 75h4v4h-4zM104 87h4v4h-4zM116 99h4v4h-4zM132 111h4v4h-4zM164 127h4v4h-4z"/><path fill="#abff00" d="M40 79h4v4h-4zM44 87h4v4h-4zM68 111h4v4h-4zM80 119h4v4h-4zM88 123h4v4h-4zM96 127h4v4h-4zM104 131h4v4h-4zM124 139h4v4h-4zM160 151h4v4h-4z"/><path fill="#ff1800" d="M148 83h4v4h-4zM160 95h4v4h-4z"/><path fill="#ff0c00" d="M152 83h4v4h-4zM156 87h4v4h-4zM160 91h4v4h-4zM164 95h4v4h-4z"/><path fill="#69ff00" d="M24 91h4v4h-4zM44 111h4v4h-4zM56 119h4v4h-4zM108 143h4v4h-4zM144 155h4v4h-4z"/><path fill="#c6ff00" d="M56 91h4v4h-4zM72 107h4v4h-4zM84 115h4v4h-4zM124 135h4v4h-4z"/><path fill="#3fff00" d="M24 107h4v4h-4zM40 119h4v4h-4zM80 139h4v4h-4z"/><path fill="#5aff00" d="M44 115h4v4h-4zM64 127h4v4h-4z"/><path fill="#00ff00" d="M24 123h4v4h-4zM56 139h4v4h-4zM76 147h4v4h-4zM88 151h4v4h-4zM100 155h4v4h-4z"/><path fill="#18ff00" d="M32 123h4v4h-4zM40 127h4v4h-4zM56 135h4v4h-4z"/><path fill="#00ff12" d="M24 127h4v4h-4zM32 131h4v4h-4zM40 135h4v4h-4zM80 151h4v4h-4zM92 155h4v4h-4z"/><path fill="#0fff00" d="M36 127h4v4h-4zM44 131h4v4h-4zM52 135h4v4h-4zM72 143h4v4h-4z"/><path fill="#00ff27" d="M24 131h4v4h-4zM32 135h4v4h-4zM60 147h4v4h-4zM72 151h4v4h-4zM84 155h4v4h-4z"/><path fill="#30ff00" d="M56 131h4v4h-4zM96 147h4v4h-4zM108 151h4v4h-4zM120 155h4v4h-4z"/><path fill="#00ff3c" d="M24 135h4v4h-4zM32 139h4v4h-4zM52 147h4v4h-4z"/><path fill="#00ff30" d="M28 135h4v4h-4zM68 151h4v4h-4zM80 155h4v4h-4z"/><path fill="#00ff51" d="M24 139h4v4h-4zM44 147h4v4h-4z"/><path fill="#00ff48" d="M28 139h4v4h-4z"/><path fill="#00ff33" d="M36 139h4v4h-4zM56 147h4v4h-4z"/><path fill="#00ff2a" d="M40 139h4v4h-4z"/><path fill="#00ff1e" d="M44 139h4v4h-4zM64 147h4v4h-4z"/><path fill="#00ff15" d="M48 139h4v4h-4zM68 147h4v4h-4z"/><path fill="#00ff09" d="M52 139h4v4h-4zM72 147h4v4h-4zM84 151h4v4h-4zM96 155h4v4h-4z"/><path fill="#00ff69" d="M24 143h4v4h-4zM56 155h4v4h-4z"/><path fill="#00ff60" d="M28 143h4v4h-4zM48 151h4v4h-4zM60 155h4v4h-4z"/><path fill="#00ff54" d="M32 143h4v4h-4z"/><path fill="#00ff4b" d="M36 143h4v4h-4z"/><path fill="#00ff42" d="M40 143h4v4h-4zM72 155h4v4h-4z"/><path fill="#00ff36" d="M44 143h4v4h-4z"/><path fill="#00ff2d" d="M48 143h4v4h-4z"/><path fill="#00ff21" d="M52 143h4v4h-4z"/><path fill="#00ff18" d="M56 143h4v4h-4z"/><path fill="#00ff0f" d="M60 143h4v4h-4z"/><path fill="#00ff03" d="M64 143h4v4h-4z"/><path fill="#06ff00" d="M68 143h4v4h-4z"/><path fill="#00ff84" d="M24 147h4v4h-4z"/><path fill="#00ff78" d="M28 147h4v4h-4z"/><path fill="#00ff6f" d="M32 147h4v4h-4z"/><path fill="#00ff66" d="M36 147h4v4h-4z"/><path fill="#00ff5a" d="M40 147h4v4h-4z"/><path fill="#00ff45" d="M48 147h4v4h-4zM60 151h4v4h-4z"/><path fill="#00ff9f" d="M24 151h4v4h-4z"/><path fill="#00ff93" d="M28 151h4v4h-4zM40 155h4v4h-4z"/><path fill="#00ff8a" d="M32 151h4v4h-4z"/><path fill="#00ff7e" d="M36 151h4v4h-4zM48 155h4v4h-4z"/><path fill="#00ff75" d="M40 151h4v4h-4zM52 155h4v4h-4z"/><path fill="#00ff6c" d="M44 151h4v4h-4z"/><path fill="#00ff57" d="M52 151h4v4h-4zM64 155h4v4h-4z"/><path fill="#00ff4e" d="M56 151h4v4h-4zM68 155h4v4h-4z"/><path fill="#00ff39" d="M64 151h4v4h-4zM76 155h4v4h-4z"/><path fill="#00ffba" d="M24 155h4v4h-4z"/><path fill="#00ffae" d="M28 155h4v4h-4z"/><path fill="#00ffa5" d="M32 155h4v4h-4z"/><path fill="#00ff9c" d="M36 155h4v4h-4z"/><path fill="#00ff87" d="M44 155h4v4h-4z"/></g></g>
<path d="M32 98.48 33.35 100.01 34.62 101.39 35.96 102.77 37.36 104.15 38.83 105.53 40.22 106.79 41.59 107.98 42.96 109.13 44.47 110.36 46.24 111.74 47.75 112.89 49.12 113.89 50.95 115.19 52.55 116.29 53.99 117.26 55.98 118.56 57.35 119.43 59.4 120.7 60.77 121.53 62.82 122.74 64.19 123.53 66.25 124.68 67.81 125.54 69.68 126.55 71.7 127.61 73.1 128.33 75.16 129.37 77.17 130.37 78.59 131.06 80.63 132.04 82.69 133 84.48 133.82 86.12 134.56 88.17 135.47 90.22 136.37 92.28 137.25 93.97 137.96 95.71 138.68 97.76 139.52 99.81 140.35 101.87 141.16 103.92 141.96 105.98 142.75 107.92 143.48 109.77 144.17 111.65 144.86 113.55 145.55 115.57 146.27 117.62 147 119.68 147.71 121.73 148.42 123.45 149M56.7 11 55.29 12.16 53.92 13.3 52.55 14.47 50.98 15.83 49.43 17.21 47.91 18.59 46.43 19.97 45.02 21.32 43.65 22.67 42.28 24.04 40.91 25.46 39.58 26.87 38.32 28.25 37.1 29.63 35.92 31.01 34.74 32.44 33.37 34.16 32.09 35.84 32 35.96M121.07 11 119.68 12.25 118.31 13.5 116.94 14.79 115.57 16.1 114.2 17.45 112.83 18.84 111.46 20.26 110.09 21.73 108.72 23.25 107.37 24.8 106.22 26.18 105.1 27.56 103.92 29.06 102.56 30.9 101.5 32.39 100.5 33.86 99.23 35.84 98.4 37.22 97.22 39.29 96.39 40.88 95.48 42.74 94.57 44.81 93.75 46.88 93.04 48.95 92.43 51.02 91.91 53.09 91.51 55.16 91.13 57.92 90.94 60.68 90.95 63.44 91.16 66.2 91.57 68.96 92.01 71.03 92.57 73.1 93.25 75.17 94.05 77.24 94.98 79.31 95.71 80.77 96.8 82.76 97.76 84.35 98.98 86.21 99.96 87.59 101.19 89.21 102.56 90.91 103.85 92.42 105.1 93.8 106.42 95.18 107.79 96.56 109.24 97.94 110.74 99.32 112.14 100.55 113.52 101.71 114.88 102.83 116.55 104.15 118.31 105.49 119.68 106.5 121.22 107.6 123.11 108.9 124.48 109.83 126.34 111.05 127.9 112.04 129.64 113.12 131.32 114.14 133.1 115.19 134.75 116.14 136.75 117.26 138.18 118.04 140.23 119.15 141.89 120.02 143.66 120.93 145.71 121.97 147.36 122.78 149.13 123.64 151.19 124.62 153.17 125.54 154.67 126.23 156.67 127.13 158.73 128.04 160.78 128.93 162.55 129.68 164.2 130.38 166.26 131.22 168.31 132.06 169 132.33M169 34.86 168.19 36.53 167.27 38.6 166.45 40.67 165.74 42.74 165.13 44.81 164.62 46.88 164.2 49.07 163.86 51.71 163.69 54.47 163.72 57.23 163.95 59.99 164.27 62.06 164.87 64.82 165.46 66.89 166.17 68.96 166.94 70.89 167.64 72.41 168.69 74.48 169 75.05" fill="none" stroke="#000" stroke-opacity="0.62" stroke-width="0.9" stroke-linejoin="round" clip-path="url(#c1)"/>
<rect x="32" y="11" width="137" height="138" fill="none" stroke="#3a3020" stroke-opacity="0.75" stroke-width="0.6"/>
<text x="32" y="158.8" font-size="4.86" text-anchor="middle">50.00</text>
<text x="59.4" y="158.8" font-size="4.86" text-anchor="middle">52.00</text>
<text x="86.8" y="158.8" font-size="4.86" text-anchor="middle">54.00</text>
<text x="114.2" y="158.8" font-size="4.86" text-anchor="middle">56.00</text>
<text x="141.6" y="158.8" font-size="4.86" text-anchor="middle">58.00</text>
<text x="169" y="158.8" font-size="4.86" text-anchor="middle">60.00</text>
<text x="100.5" y="168.3" font-size="5.16" text-anchor="middle">A: Temperature（℃）</text>
<text x="27.2" y="150.75" font-size="4.86" text-anchor="end">90.00</text>
<text x="27.2" y="127.75" font-size="4.86" text-anchor="end">100.00</text>
<text x="27.2" y="104.75" font-size="4.86" text-anchor="end">110.00</text>
<text x="27.2" y="81.75" font-size="4.86" text-anchor="end">120.00</text>
<text x="27.2" y="58.75" font-size="4.86" text-anchor="end">130.00</text>
<text x="27.2" y="35.75" font-size="4.86" text-anchor="end">140.00</text>
<text x="27.2" y="12.75" font-size="4.86" text-anchor="end">150.00</text>
<path d="M32 149v3M59.4 149v3M86.8 149v3M114.2 149v3M141.6 149v3M169 149v3M32 149h-3.5M32 126h-3.5M32 103h-3.5M32 80h-3.5M32 57h-3.5M32 34h-3.5M32 11h-3.5" stroke="#444" stroke-width="0.5" fill="none"/>
<text transform="translate(11 80.5) rotate(-90)" font-size="5.16" text-anchor="middle">B: Time (min)</text>
<text x="100.5" y="8" font-size="5.59" text-anchor="middle">Yield(mg/g)</text>
<circle cx="32" cy="11" r="1.6" fill="#860a14"/>
<circle cx="169" cy="11" r="1.6" fill="#860a14"/>
<circle cx="32" cy="149" r="1.6" fill="#860a14"/>
<circle cx="169" cy="149" r="1.6" fill="#860a14"/>
<circle cx="100.5" cy="80" r="1.6" fill="#860a14"/>
<text x="97.7" y="81.8" font-size="5" text-anchor="end" fill="#4a2c2c">5</text>
<rect x="40.6" y="15.2" width="7.2" height="7.2" fill="#fbfbff" stroke="#55553c" stroke-width="0.6"/><text x="44.2" y="20.65" font-size="5.1" text-anchor="middle" fill="#3c3c6a">66</text>
<rect x="71.3" y="122.3" width="7.2" height="7.2" fill="#fbfbff" stroke="#55553c" stroke-width="0.6"/><text x="74.9" y="127.75" font-size="5.1" text-anchor="middle" fill="#3c3c6a">66</text>
<rect x="93.5" y="78.9" width="7.2" height="7.2" fill="#fbfbff" stroke="#55553c" stroke-width="0.6"/><text x="97.1" y="84.35" font-size="5.1" text-anchor="middle" fill="#3c3c6a">68</text>
<rect x="158.8" y="47" width="7.2" height="7.2" fill="#fbfbff" stroke="#55553c" stroke-width="0.6"/><text x="162.4" y="52.45" font-size="5.1" text-anchor="middle" fill="#3c3c6a">70</text>
<g clip-path="url(#c2)"><g filter="url(#bl)" shape-rendering="crispEdges"><path fill="#00ff45" d="M208 3h4v4h-4z"/><path fill="#00ff36" d="M212 3h4v4h-4zM216 147h4v4h-4z"/><path fill="#00ff27" d="M216 3h4v4h-4zM244 155h4v4h-4z"/><path fill="#00ff18" d="M220 3h4v4h-4zM240 151h4v4h-4zM252 155h4v4h-4z"/><path fill="#00ff09" d="M224 3h4v4h-4zM208 15h4v4h-4zM236 147h4v4h-4z"/><path fill="#06ff00" d="M228 3h4v4h-4zM212 15h4v4h-4zM208 19h4v4h-4zM208 131h4v4h-4zM232 143h4v4h-4z"/><path fill="#15ff00" d="M232 3h4v4h-4zM212 19h4v4h-4zM260 151h4v4h-4z"/><path fill="#24ff00" d="M236 3h4v4h-4zM216 19h4v4h-4zM220 131h4v4h-4zM228 135h4v4h-4zM236 139h4v4h-4zM256 147h4v4h-4zM268 151h4v4h-4zM280 155h4v4h-4z"/><path fill="#33ff00" d="M240 3h4v4h-4zM220 19h4v4h-4zM208 119h4v4h-4zM252 143h4v4h-4zM288 155h4v4h-4z"/><path fill="#42ff00" d="M244 3h4v4h-4zM224 19h4v4h-4zM220 23h4v4h-4zM216 27h4v4h-4zM212 31h4v4h-4zM208 35h4v4h-4zM208 115h4v4h-4zM232 131h4v4h-4zM240 135h4v4h-4z"/><path fill="#51ff00" d="M248 3h4v4h-4zM228 19h4v4h-4zM224 23h4v4h-4zM220 27h4v4h-4zM216 31h4v4h-4zM232 127h4v4h-4zM256 139h4v4h-4z"/><path fill="#60ff00" d="M252 3h4v4h-4zM232 19h4v4h-4zM228 23h4v4h-4zM224 27h4v4h-4zM220 31h4v4h-4zM208 47h4v4h-4zM208 103h4v4h-4zM212 107h4v4h-4zM220 115h4v4h-4zM284 147h4v4h-4zM296 151h4v4h-4z"/><path fill="#6fff00" d="M256 3h4v4h-4zM232 23h4v4h-4zM228 27h4v4h-4zM212 47h4v4h-4zM208 55h4v4h-4zM208 95h4v4h-4zM244 127h4v4h-4zM252 131h4v4h-4zM260 135h4v4h-4zM280 143h4v4h-4zM304 151h4v4h-4z"/><path fill="#7eff00" d="M260 3h4v4h-4zM208 71h4v4h-4zM208 75h4v4h-4zM208 79h4v4h-4zM212 91h4v4h-4zM216 99h4v4h-4zM232 115h4v4h-4zM276 139h4v4h-4zM324 155h4v4h-4z"/><path fill="#8dff00" d="M264 3h4v4h-4zM224 43h4v4h-4zM216 59h4v4h-4zM228 107h4v4h-4zM232 111h4v4h-4zM256 127h4v4h-4zM264 131h4v4h-4zM332 155h4v4h-4z"/><path fill="#9cff00" d="M268 3h4v4h-4zM228 43h4v4h-4zM224 51h4v4h-4zM220 59h4v4h-4zM220 87h4v4h-4zM224 95h4v4h-4zM256 123h4v4h-4zM280 135h4v4h-4zM300 143h4v4h-4zM312 147h4v4h-4zM340 155h4v4h-4z"/><path fill="#abff00" d="M272 3h4v4h-4zM228 51h4v4h-4zM224 63h4v4h-4zM224 83h4v4h-4zM232 99h4v4h-4zM236 103h4v4h-4zM240 107h4v4h-4zM244 111h4v4h-4zM296 139h4v4h-4zM332 151h4v4h-4zM348 155h4v4h-4z"/><path fill="#baff00" d="M276 3h4v4h-4zM240 39h4v4h-4zM228 67h4v4h-4zM228 71h4v4h-4zM228 75h4v4h-4zM228 79h4v4h-4zM268 123h4v4h-4zM284 131h4v4h-4zM340 151h4v4h-4z"/><path fill="#c9ff00" d="M280 3h4v4h-4zM244 39h4v4h-4zM236 55h4v4h-4zM236 87h4v4h-4zM240 95h4v4h-4zM256 111h4v4h-4zM348 151h4v4h-4z"/><path fill="#d8ff00" d="M284 3h4v4h-4zM252 35h4v4h-4zM244 47h4v4h-4zM240 83h4v4h-4zM252 103h4v4h-4zM280 123h4v4h-4zM288 127h4v4h-4zM296 131h4v4h-4zM316 139h4v4h-4zM328 143h4v4h-4z"/><path fill="#e7ff00" d="M288 3h4v4h-4zM256 35h4v4h-4zM244 59h4v4h-4zM244 79h4v4h-4zM324 139h4v4h-4zM348 147h4v4h-4z"/><path fill="#f6ff00" d="M292 3h4v4h-4zM248 63h4v4h-4zM248 67h4v4h-4zM248 71h4v4h-4zM248 75h4v4h-4zM252 87h4v4h-4zM260 99h4v4h-4zM264 103h4v4h-4zM268 107h4v4h-4zM292 123h4v4h-4zM300 127h4v4h-4zM320 135h4v4h-4zM356 147h4v4h-4z"/><path fill="#fff900" d="M296 3h4v4h-4zM268 31h4v4h-4zM260 43h4v4h-4zM256 51h4v4h-4zM252 67h4v4h-4zM252 71h4v4h-4zM292 119h4v4h-4zM316 131h4v4h-4z"/><path fill="#ffea00" d="M300 3h4v4h-4zM272 31h4v4h-4zM264 43h4v4h-4zM260 83h4v4h-4zM264 91h4v4h-4zM280 107h4v4h-4zM344 139h4v4h-4zM356 143h4v4h-4z"/><path fill="#ffdb00" d="M304 3h4v4h-4zM276 31h4v4h-4zM264 55h4v4h-4zM264 79h4v4h-4zM276 99h4v4h-4zM280 103h4v4h-4zM304 119h4v4h-4zM320 127h4v4h-4zM340 135h4v4h-4z"/><path fill="#ffcc00" d="M308 3h4v4h-4zM284 27h4v4h-4zM268 55h4v4h-4zM268 75h4v4h-4zM272 87h4v4h-4zM296 111h4v4h-4zM336 131h4v4h-4z"/><path fill="#ffbd00" d="M312 3h4v4h-4zM288 27h4v4h-4zM280 39h4v4h-4zM276 47h4v4h-4zM272 59h4v4h-4zM272 63h4v4h-4zM272 67h4v4h-4zM272 71h4v4h-4zM276 83h4v4h-4zM280 91h4v4h-4zM284 95h4v4h-4zM292 103h4v4h-4zM308 115h4v4h-4zM316 119h4v4h-4zM324 123h4v4h-4zM332 127h4v4h-4z"/><path fill="#ffae00" d="M316 3h4v4h-4zM292 27h4v4h-4zM284 39h4v4h-4zM280 47h4v4h-4zM308 111h4v4h-4zM360 135h4v4h-4z"/><path fill="#ff9f00" d="M320 3h4v4h-4zM300 23h4v4h-4zM284 79h4v4h-4zM288 87h4v4h-4zM308 107h4v4h-4zM320 115h4v4h-4zM328 119h4v4h-4zM336 123h4v4h-4z"/><path fill="#ff9000" d="M324 3h4v4h-4zM304 23h4v4h-4zM288 51h4v4h-4zM288 75h4v4h-4zM296 91h4v4h-4zM300 95h4v4h-4zM304 99h4v4h-4zM308 103h4v4h-4zM320 111h4v4h-4zM352 127h4v4h-4z"/><path fill="#ff8100" d="M328 3h4v4h-4zM312 19h4v4h-4zM308 23h4v4h-4zM300 35h4v4h-4zM292 55h4v4h-4zM292 71h4v4h-4zM296 83h4v4h-4zM320 107h4v4h-4zM340 119h4v4h-4z"/><path fill="#ff7200" d="M332 3h4v4h-4zM316 19h4v4h-4zM304 35h4v4h-4zM300 43h4v4h-4zM296 55h4v4h-4zM296 59h4v4h-4zM296 63h4v4h-4zM296 67h4v4h-4zM304 87h4v4h-4zM320 103h4v4h-4zM332 111h4v4h-4z"/><path fill="#ff6300" d="M336 3h4v4h-4zM324 15h4v4h-4zM320 19h4v4h-4zM304 79h4v4h-4zM312 91h4v4h-4zM316 95h4v4h-4z"/><path fill="#ff5400" d="M340 3h4v4h-4zM336 7h4v4h-4zM328 15h4v4h-4zM324 19h4v4h-4zM308 47h4v4h-4zM308 75h4v4h-4zM312 83h4v4h-4zM344 111h4v4h-4z"/><path fill="#ff4500" d="M344 3h4v4h-4zM340 7h4v4h-4zM336 11h4v4h-4zM332 15h4v4h-4zM320 31h4v4h-4zM312 47h4v4h-4zM312 71h4v4h-4zM320 87h4v4h-4zM332 99h4v4h-4z"/><path fill="#ff3600" d="M348 3h4v4h-4zM344 7h4v4h-4zM340 11h4v4h-4zM336 15h4v4h-4zM324 31h4v4h-4zM320 39h4v4h-4zM316 51h4v4h-4zM316 67h4v4h-4zM320 79h4v4h-4zM356 111h4v4h-4z"/><path fill="#ff2700" d="M352 3h4v4h-4zM348 7h4v4h-4zM344 11h4v4h-4zM340 15h4v4h-4zM328 31h4v4h-4zM324 39h4v4h-4zM320 51h4v4h-4zM320 55h4v4h-4zM320 59h4v4h-4zM320 63h4v4h-4zM328 83h4v4h-4z"/><path fill="#ff1800" d="M356 3h4v4h-4zM352 7h4v4h-4zM348 11h4v4h-4zM328 75h4v4h-4zM336 87h4v4h-4zM340 91h4v4h-4zM344 95h4v4h-4z"/><path fill="#ff0900" d="M360 3h4v4h-4zM356 7h4v4h-4zM352 11h4v4h-4zM340 27h4v4h-4zM332 43h4v4h-4zM332 71h4v4h-4zM336 79h4v4h-4zM360 103h4v4h-4z"/><path fill="#00ff30" d="M208 7h4v4h-4zM228 151h4v4h-4zM240 155h4v4h-4z"/><path fill="#00ff21" d="M212 7h4v4h-4zM236 151h4v4h-4z"/><path fill="#00ff12" d="M216 7h4v4h-4zM232 147h4v4h-4z"/><path fill="#00ff03" d="M220 7h4v4h-4zM220 139h4v4h-4zM228 143h4v4h-4z"/><path fill="#0cff00" d="M224 7h4v4h-4zM256 151h4v4h-4z"/><path fill="#1bff00" d="M228 7h4v4h-4zM216 131h4v4h-4zM224 135h4v4h-4zM232 139h4v4h-4zM252 147h4v4h-4zM264 151h4v4h-4zM276 155h4v4h-4z"/><path fill="#2aff00" d="M232 7h4v4h-4zM216 127h4v4h-4zM248 143h4v4h-4z"/><path fill="#39ff00" d="M236 7h4v4h-4zM216 123h4v4h-4z"/><path fill="#48ff00" d="M240 7h4v4h-4zM216 119h4v4h-4zM228 127h4v4h-4zM252 139h4v4h-4zM284 151h4v4h-4z"/><path fill="#57ff00" d="M244 7h4v4h-4zM208 43h4v4h-4zM208 107h4v4h-4zM212 111h4v4h-4zM216 115h4v4h-4zM228 123h4v4h-4zM268 143h4v4h-4zM280 147h4v4h-4zM292 151h4v4h-4z"/><path fill="#66ff00" d="M248 7h4v4h-4zM212 43h4v4h-4zM228 119h4v4h-4zM240 127h4v4h-4zM248 131h4v4h-4zM256 135h4v4h-4zM276 143h4v4h-4zM312 155h4v4h-4z"/><path fill="#75ff00" d="M252 7h4v4h-4zM220 39h4v4h-4zM212 51h4v4h-4zM208 59h4v4h-4zM208 91h4v4h-4zM216 103h4v4h-4zM228 115h4v4h-4zM240 123h4v4h-4zM272 139h4v4h-4zM320 155h4v4h-4z"/><path fill="#84ff00" d="M256 7h4v4h-4zM224 39h4v4h-4zM212 63h4v4h-4zM212 87h4v4h-4zM216 95h4v4h-4zM240 119h4v4h-4zM260 131h4v4h-4zM328 155h4v4h-4z"/><path fill="#93ff00" d="M260 7h4v4h-4zM232 35h4v4h-4zM216 63h4v4h-4zM216 67h4v4h-4zM216 83h4v4h-4zM224 99h4v4h-4zM240 115h4v4h-4zM252 123h4v4h-4zM276 135h4v4h-4zM296 143h4v4h-4zM308 147h4v4h-4z"/><path fill="#a2ff00" d="M264 7h4v4h-4zM236 35h4v4h-4zM228 47h4v4h-4zM224 55h4v4h-4zM220 67h4v4h-4zM220 71h4v4h-4zM220 75h4v4h-4zM220 79h4v4h-4zM224 91h4v4h-4zM232 103h4v4h-4zM236 107h4v4h-4zM252 119h4v4h-4zM292 139h4v4h-4zM328 151h4v4h-4z"/><path fill="#b1ff00" d="M268 7h4v4h-4zM264 11h4v4h-4zM240 35h4v4h-4zM232 47h4v4h-4zM228 55h4v4h-4zM228 87h4v4h-4zM232 95h4v4h-4zM252 115h4v4h-4zM264 123h4v4h-4zM272 127h4v4h-4zM280 131h4v4h-4zM336 151h4v4h-4z"/><path fill="#bdff00" d="M272 7h4v4h-4zM244 35h4v4h-4zM236 47h4v4h-4zM232 55h4v4h-4zM232 87h4v4h-4zM236 95h4v4h-4zM256 115h4v4h-4zM276 127h4v4h-4zM304 139h4v4h-4zM316 143h4v4h-4zM328 147h4v4h-4zM356 155h4v4h-4z"/><path fill="#ccff00" d="M276 7h4v4h-4zM248 35h4v4h-4zM240 47h4v4h-4zM236 83h4v4h-4zM244 99h4v4h-4zM248 103h4v4h-4zM252 107h4v4h-4zM268 119h4v4h-4zM300 135h4v4h-4z"/><path fill="#dbff00" d="M280 7h4v4h-4zM256 31h4v4h-4zM240 59h4v4h-4zM240 79h4v4h-4zM244 91h4v4h-4zM268 115h4v4h-4zM356 151h4v4h-4z"/><path fill="#eaff00" d="M284 7h4v4h-4zM260 31h4v4h-4zM252 43h4v4h-4zM248 51h4v4h-4zM244 63h4v4h-4zM244 67h4v4h-4zM244 71h4v4h-4zM244 75h4v4h-4zM248 87h4v4h-4zM252 95h4v4h-4zM256 99h4v4h-4zM264 107h4v4h-4zM268 111h4v4h-4zM280 119h4v4h-4zM288 123h4v4h-4zM296 127h4v4h-4zM304 131h4v4h-4zM336 143h4v4h-4z"/><path fill="#f9ff00" d="M288 7h4v4h-4zM268 27h4v4h-4zM264 31h4v4h-4zM256 43h4v4h-4zM252 51h4v4h-4zM280 115h4v4h-4zM332 139h4v4h-4zM344 143h4v4h-4z"/><path fill="#fff600" d="M292 7h4v4h-4zM272 27h4v4h-4zM256 83h4v4h-4zM260 91h4v4h-4zM280 111h4v4h-4zM300 123h4v4h-4zM308 127h4v4h-4zM328 135h4v4h-4z"/><path fill="#ffe700" d="M296 7h4v4h-4zM280 23h4v4h-4zM276 27h4v4h-4zM260 55h4v4h-4zM260 79h4v4h-4zM268 95h4v4h-4zM272 99h4v4h-4zM276 103h4v4h-4zM292 115h4v4h-4zM324 131h4v4h-4z"/><path fill="#ffd800" d="M300 7h4v4h-4zM284 23h4v4h-4zM280 27h4v4h-4zM272 39h4v4h-4zM268 47h4v4h-4zM264 59h4v4h-4zM264 75h4v4h-4zM268 87h4v4h-4zM292 111h4v4h-4zM312 123h4v4h-4zM352 139h4v4h-4z"/><path fill="#ffc900" d="M304 7h4v4h-4zM300 11h4v4h-4zM292 19h4v4h-4zM288 23h4v4h-4zM276 39h4v4h-4zM272 47h4v4h-4zM268 59h4v4h-4zM268 63h4v4h-4zM268 67h4v4h-4zM268 71h4v4h-4zM276 91h4v4h-4zM292 107h4v4h-4zM304 115h4v4h-4zM348 135h4v4h-4z"/><path fill="#ffba00" d="M308 7h4v4h-4zM304 11h4v4h-4zM300 15h4v4h-4zM296 19h4v4h-4zM292 23h4v4h-4zM288 99h4v4h-4zM344 131h4v4h-4z"/><path fill="#ffab00" d="M312 7h4v4h-4zM308 11h4v4h-4zM304 15h4v4h-4zM300 19h4v4h-4zM296 23h4v4h-4zM280 51h4v4h-4zM280 79h4v4h-4zM284 87h4v4h-4zM304 107h4v4h-4zM316 115h4v4h-4zM340 127h4v4h-4z"/><path fill="#ff9c00" d="M316 7h4v4h-4zM312 11h4v4h-4zM308 15h4v4h-4zM304 19h4v4h-4zM292 35h4v4h-4zM284 51h4v4h-4zM284 75h4v4h-4zM292 91h4v4h-4zM296 95h4v4h-4zM304 103h4v4h-4zM356 131h4v4h-4z"/><path fill="#ff8d00" d="M320 7h4v4h-4zM316 11h4v4h-4zM312 15h4v4h-4zM308 19h4v4h-4zM296 35h4v4h-4zM292 43h4v4h-4zM288 55h4v4h-4zM288 71h4v4h-4zM292 83h4v4h-4zM328 115h4v4h-4zM344 123h4v4h-4z"/><path fill="#ff7e00" d="M324 7h4v4h-4zM320 11h4v4h-4zM316 15h4v4h-4zM296 43h4v4h-4zM292 59h4v4h-4zM292 63h4v4h-4zM292 67h4v4h-4zM300 87h4v4h-4zM360 127h4v4h-4z"/><path fill="#ff6f00" d="M328 7h4v4h-4zM324 11h4v4h-4zM320 15h4v4h-4zM300 79h4v4h-4zM308 91h4v4h-4zM312 95h4v4h-4zM316 99h4v4h-4zM340 115h4v4h-4zM348 119h4v4h-4zM356 123h4v4h-4z"/><path fill="#ff6000" d="M332 7h4v4h-4zM328 11h4v4h-4zM312 31h4v4h-4zM304 47h4v4h-4zM304 75h4v4h-4zM308 83h4v4h-4zM332 107h4v4h-4z"/><path fill="#ff0000" d="M360 7h4v4h-4zM356 11h8v4h-8zM352 15h12v4h-12zM348 19h16v4h-16zM348 23h16v4h-16zM344 27h20v4h-20zM340 31h24v4h-24zM340 35h24v4h-24zM336 39h28v4h-28zM336 43h28v4h-28zM336 47h28v4h-28zM336 51h28v4h-28zM332 55h32v4h-32zM332 59h32v4h-32zM336 63h28v4h-28zM336 67h28v4h-28zM336 71h28v4h-28zM336 75h28v4h-28zM340 79h24v4h-24zM344 83h20v4h-20zM348 87h16v4h-16zM348 91h16v4h-16zM356 95h8v4h-8zM360 99h4v4h-4z"/><path fill="#00ff1e" d="M208 11h4v4h-4zM208 139h4v4h-4zM216 143h4v4h-4zM248 155h4v4h-4z"/><path fill="#00ff0f" d="M212 11h4v4h-4zM244 151h4v4h-4zM256 155h4v4h-4z"/><path fill="#00ff00" d="M216 11h4v4h-4zM212 135h4v4h-4zM240 147h4v4h-4z"/><path fill="#0fff00" d="M220 11h4v4h-4zM212 131h4v4h-4zM236 143h4v4h-4z"/><path fill="#1eff00" d="M224 11h4v4h-4z"/><path fill="#2dff00" d="M228 11h4v4h-4zM224 131h4v4h-4zM232 135h4v4h-4zM240 139h4v4h-4zM260 147h4v4h-4zM272 151h4v4h-4zM284 155h4v4h-4z"/><path fill="#3cff00" d="M232 11h4v4h-4zM256 143h4v4h-4zM292 155h4v4h-4z"/><path fill="#4bff00" d="M236 11h4v4h-4zM208 111h4v4h-4zM212 115h4v4h-4zM236 131h4v4h-4zM244 135h4v4h-4zM300 155h4v4h-4z"/><path fill="#5aff00" d="M240 11h4v4h-4zM212 39h4v4h-4zM260 139h4v4h-4z"/><path fill="#69ff00" d="M244 11h4v4h-4zM216 39h4v4h-4zM208 51h4v4h-4zM208 99h4v4h-4zM224 115h4v4h-4zM288 147h4v4h-4zM300 151h4v4h-4z"/><path fill="#78ff00" d="M248 11h4v4h-4zM224 35h4v4h-4zM208 63h4v4h-4zM208 87h4v4h-4zM220 107h4v4h-4zM224 111h4v4h-4zM248 127h4v4h-4zM264 135h4v4h-4zM284 143h4v4h-4zM308 151h4v4h-4z"/><path fill="#87ff00" d="M252 11h4v4h-4zM228 35h4v4h-4zM220 47h4v4h-4zM212 67h4v4h-4zM212 83h4v4h-4zM280 139h4v4h-4z"/><path fill="#96ff00" d="M256 11h4v4h-4zM252 15h4v4h-4zM236 31h4v4h-4zM224 47h4v4h-4zM220 55h4v4h-4zM216 71h4v4h-4zM216 75h4v4h-4zM216 79h4v4h-4zM220 91h4v4h-4zM228 103h4v4h-4zM232 107h4v4h-4zM236 111h4v4h-4zM260 127h4v4h-4zM268 131h4v4h-4zM336 155h4v4h-4z"/><path fill="#a5ff00" d="M260 11h4v4h-4zM256 15h4v4h-4zM244 27h4v4h-4zM240 31h4v4h-4zM284 135h4v4h-4zM304 143h4v4h-4zM316 147h4v4h-4zM344 155h4v4h-4z"/><path fill="#c0ff00" d="M268 11h4v4h-4zM248 31h4v4h-4zM232 59h4v4h-4zM240 99h4v4h-4zM244 103h4v4h-4zM248 107h4v4h-4zM252 111h4v4h-4zM264 119h4v4h-4zM296 135h4v4h-4z"/><path fill="#cfff00" d="M272 11h4v4h-4zM256 27h4v4h-4zM252 31h4v4h-4zM244 43h4v4h-4zM236 59h4v4h-4zM236 79h4v4h-4zM240 91h4v4h-4zM264 115h4v4h-4zM276 123h4v4h-4zM284 127h4v4h-4zM292 131h4v4h-4zM312 139h4v4h-4zM324 143h4v4h-4zM336 147h4v4h-4z"/><path fill="#deff00" d="M276 11h4v4h-4zM260 27h4v4h-4zM248 43h4v4h-4zM244 51h4v4h-4zM240 63h4v4h-4zM240 67h4v4h-4zM240 71h4v4h-4zM240 75h4v4h-4zM248 95h4v4h-4zM264 111h4v4h-4zM276 119h4v4h-4zM308 135h4v4h-4zM344 147h4v4h-4z"/><path fill="#edff00" d="M280 11h4v4h-4zM276 15h4v4h-4zM272 19h4v4h-4zM268 23h4v4h-4zM264 27h4v4h-4zM260 103h4v4h-4zM316 135h4v4h-4z"/><path fill="#fcff00" d="M284 11h4v4h-4zM280 15h4v4h-4zM276 19h4v4h-4zM272 23h4v4h-4zM252 55h4v4h-4zM252 83h4v4h-4zM256 91h4v4h-4zM276 111h4v4h-4zM288 119h4v4h-4zM312 131h4v4h-4z"/><path fill="#fff300" d="M288 11h4v4h-4zM284 15h4v4h-4zM280 19h4v4h-4zM276 23h4v4h-4zM264 39h4v4h-4zM256 55h4v4h-4zM256 79h4v4h-4zM264 95h4v4h-4zM268 99h4v4h-4zM272 103h4v4h-4zM276 107h4v4h-4zM340 139h4v4h-4zM352 143h4v4h-4z"/><path fill="#ffe400" d="M292 11h4v4h-4zM288 15h4v4h-4zM284 19h4v4h-4zM268 39h4v4h-4zM264 47h4v4h-4zM260 59h4v4h-4zM260 75h4v4h-4zM264 87h4v4h-4zM300 119h4v4h-4zM308 123h4v4h-4zM316 127h4v4h-4zM336 135h4v4h-4z"/><path fill="#ffd500" d="M296 11h4v4h-4zM292 15h4v4h-4zM288 19h4v4h-4zM264 63h4v4h-4zM264 67h4v4h-4zM264 71h4v4h-4zM272 91h4v4h-4zM288 107h4v4h-4zM332 131h4v4h-4z"/><path fill="#ff5100" d="M332 11h4v4h-4zM316 31h4v4h-4zM312 39h4v4h-4zM308 71h4v4h-4zM316 87h4v4h-4zM332 103h4v4h-4zM352 115h4v4h-4zM360 119h4v4h-4z"/><path fill="#12ff00" d="M216 15h4v4h-4zM220 135h4v4h-4zM228 139h4v4h-4zM248 147h4v4h-4zM272 155h4v4h-4z"/><path fill="#21ff00" d="M220 15h4v4h-4zM212 127h4v4h-4zM244 143h4v4h-4z"/><path fill="#30ff00" d="M224 15h4v4h-4zM212 123h4v4h-4z"/><path fill="#3fff00" d="M228 15h4v4h-4zM212 119h4v4h-4zM224 127h4v4h-4zM248 139h4v4h-4zM268 147h4v4h-4zM280 151h4v4h-4z"/><path fill="#4eff00" d="M232 15h4v4h-4zM212 35h4v4h-4zM208 39h4v4h-4zM224 123h4v4h-4zM264 143h4v4h-4zM276 147h4v4h-4zM288 151h4v4h-4z"/><path fill="#5dff00" d="M236 15h4v4h-4zM216 35h4v4h-4zM224 119h4v4h-4zM236 127h4v4h-4zM244 131h4v4h-4zM252 135h4v4h-4zM272 143h4v4h-4zM308 155h4v4h-4z"/><path fill="#6cff00" d="M240 15h4v4h-4zM236 19h4v4h-4zM224 31h4v4h-4zM220 35h4v4h-4zM212 103h4v4h-4zM216 107h4v4h-4zM220 111h4v4h-4zM236 123h4v4h-4zM268 139h4v4h-4zM316 155h4v4h-4z"/><path fill="#7bff00" d="M244 15h4v4h-4zM240 19h4v4h-4zM236 23h4v4h-4zM232 27h4v4h-4zM228 31h4v4h-4zM216 47h4v4h-4zM212 55h4v4h-4zM208 67h4v4h-4zM208 83h4v4h-4zM212 95h4v4h-4zM236 119h4v4h-4zM256 131h4v4h-4zM296 147h4v4h-4z"/><path fill="#8aff00" d="M248 15h4v4h-4zM244 19h4v4h-4zM240 23h4v4h-4zM236 27h4v4h-4zM232 31h4v4h-4zM216 55h4v4h-4zM212 71h4v4h-4zM212 75h4v4h-4zM212 79h4v4h-4zM216 91h4v4h-4zM220 99h4v4h-4zM224 103h4v4h-4zM236 115h4v4h-4zM248 123h4v4h-4zM272 135h4v4h-4zM292 143h4v4h-4zM304 147h4v4h-4zM316 151h4v4h-4z"/><path fill="#b4ff00" d="M260 15h4v4h-4zM256 19h4v4h-4zM252 23h4v4h-4zM248 27h4v4h-4zM244 31h4v4h-4zM228 59h4v4h-4zM236 99h4v4h-4zM248 111h4v4h-4zM300 139h4v4h-4zM324 147h4v4h-4zM352 155h4v4h-4z"/><path fill="#c3ff00" d="M264 15h4v4h-4zM260 19h4v4h-4zM256 23h4v4h-4zM252 27h4v4h-4zM240 43h4v4h-4zM236 51h4v4h-4zM232 63h4v4h-4zM232 83h4v4h-4zM236 91h4v4h-4zM272 123h4v4h-4zM288 131h4v4h-4zM344 151h4v4h-4zM360 155h4v4h-4z"/><path fill="#d2ff00" d="M268 15h4v4h-4zM264 19h4v4h-4zM260 23h4v4h-4zM240 51h4v4h-4zM236 63h4v4h-4zM236 67h4v4h-4zM236 71h4v4h-4zM236 75h4v4h-4zM244 95h4v4h-4zM352 151h4v4h-4z"/><path fill="#e1ff00" d="M272 15h4v4h-4zM268 19h4v4h-4zM264 23h4v4h-4zM244 87h4v4h-4zM252 99h4v4h-4zM256 103h4v4h-4zM260 107h4v4h-4zM284 123h4v4h-4zM292 127h4v4h-4zM300 131h4v4h-4zM320 139h4v4h-4zM332 143h4v4h-4zM360 151h4v4h-4z"/><path fill="#ffc600" d="M296 15h4v4h-4zM280 35h4v4h-4zM272 83h4v4h-4zM280 95h4v4h-4zM284 99h4v4h-4zM288 103h4v4h-4zM312 119h4v4h-4zM320 123h4v4h-4zM328 127h4v4h-4zM360 139h4v4h-4z"/><path fill="#ff1b00" d="M344 15h4v4h-4zM340 19h4v4h-4zM332 31h4v4h-4zM328 39h4v4h-4zM324 51h4v4h-4zM324 55h4v4h-4zM324 59h4v4h-4zM324 63h4v4h-4zM332 83h4v4h-4zM348 99h4v4h-4zM360 107h4v4h-4z"/><path fill="#ff0c00" d="M348 15h4v4h-4zM336 31h4v4h-4zM332 39h4v4h-4zM328 55h4v4h-4zM328 59h4v4h-4zM332 75h4v4h-4zM340 87h4v4h-4zM344 91h4v4h-4zM348 95h4v4h-4z"/><path fill="#99ff00" d="M248 19h4v4h-4zM244 23h4v4h-4zM240 27h4v4h-4zM248 119h4v4h-4zM288 139h4v4h-4zM324 151h4v4h-4z"/><path fill="#a8ff00" d="M252 19h4v4h-4zM248 23h4v4h-4zM232 43h4v4h-4zM224 59h4v4h-4zM224 87h4v4h-4zM228 95h4v4h-4zM248 115h4v4h-4zM260 123h4v4h-4zM268 127h4v4h-4zM276 131h4v4h-4z"/><path fill="#ff4800" d="M328 19h4v4h-4zM324 23h4v4h-4zM316 35h4v4h-4zM312 75h4v4h-4zM316 83h4v4h-4zM336 103h4v4h-4zM348 111h4v4h-4zM356 115h4v4h-4z"/><path fill="#ff3900" d="M332 19h4v4h-4zM316 47h4v4h-4zM316 71h4v4h-4zM324 87h4v4h-4zM328 91h4v4h-4zM332 95h4v4h-4zM336 99h4v4h-4zM348 107h4v4h-4z"/><path fill="#ff2a00" d="M336 19h4v4h-4zM320 47h4v4h-4zM320 67h4v4h-4zM324 79h4v4h-4zM348 103h4v4h-4zM360 111h4v4h-4z"/><path fill="#ff0f00" d="M344 19h4v4h-4zM328 51h4v4h-4zM328 63h4v4h-4zM328 67h4v4h-4zM336 83h4v4h-4zM352 99h4v4h-4z"/><path fill="#18ff00" d="M208 23h4v4h-4zM208 127h4v4h-4zM240 143h4v4h-4z"/><path fill="#27ff00" d="M212 23h4v4h-4zM208 27h4v4h-4zM208 123h4v4h-4z"/><path fill="#36ff00" d="M216 23h4v4h-4zM212 27h4v4h-4zM208 31h4v4h-4zM220 127h4v4h-4zM228 131h4v4h-4zM236 135h4v4h-4zM244 139h4v4h-4zM264 147h4v4h-4zM276 151h4v4h-4z"/><path fill="#ff7500" d="M312 23h4v4h-4zM296 51h4v4h-4zM296 71h4v4h-4zM300 83h4v4h-4zM324 107h4v4h-4z"/><path fill="#ff6600" d="M316 23h4v4h-4zM308 35h4v4h-4zM304 43h4v4h-4zM300 55h4v4h-4zM300 59h4v4h-4zM300 63h4v4h-4zM300 67h4v4h-4zM308 87h4v4h-4zM320 99h4v4h-4zM324 103h4v4h-4zM336 111h4v4h-4zM344 115h4v4h-4zM352 119h4v4h-4zM360 123h4v4h-4z"/><path fill="#ff5700" d="M320 23h4v4h-4zM312 35h4v4h-4zM308 43h4v4h-4zM304 59h4v4h-4zM304 63h4v4h-4zM336 107h4v4h-4z"/><path fill="#ff3c00" d="M328 23h4v4h-4zM320 35h4v4h-4zM316 43h4v4h-4zM316 75h4v4h-4zM320 83h4v4h-4zM340 103h4v4h-4z"/><path fill="#ff2d00" d="M332 23h4v4h-4zM324 35h4v4h-4zM320 71h4v4h-4zM328 87h4v4h-4zM332 91h4v4h-4zM336 95h4v4h-4zM352 107h4v4h-4z"/><path fill="#ff1e00" d="M336 23h4v4h-4zM324 47h4v4h-4zM324 67h4v4h-4zM328 79h4v4h-4zM352 103h4v4h-4z"/><path fill="#ff1200" d="M340 23h4v4h-4zM332 35h4v4h-4zM328 47h4v4h-4zM332 79h4v4h-4z"/><path fill="#ff0300" d="M344 23h4v4h-4zM332 47h4v4h-4zM332 51h4v4h-4zM332 63h4v4h-4zM332 67h4v4h-4zM340 83h4v4h-4zM344 87h4v4h-4zM352 95h4v4h-4z"/><path fill="#ffa200" d="M296 27h4v4h-4zM288 39h4v4h-4zM284 47h4v4h-4zM280 63h4v4h-4zM280 67h4v4h-4zM344 127h4v4h-4z"/><path fill="#ff9300" d="M300 27h4v4h-4zM292 39h4v4h-4zM288 47h4v4h-4zM288 79h4v4h-4zM292 87h4v4h-4zM360 131h4v4h-4z"/><path fill="#ff8400" d="M304 27h4v4h-4zM292 51h4v4h-4zM292 75h4v4h-4zM304 95h4v4h-4zM308 99h4v4h-4zM324 111h4v4h-4zM332 115h4v4h-4zM348 123h4v4h-4z"/><path fill="#ff7800" d="M308 27h4v4h-4zM300 39h4v4h-4zM296 75h4v4h-4zM336 115h4v4h-4zM344 119h4v4h-4zM352 123h4v4h-4z"/><path fill="#ff6900" d="M312 27h4v4h-4zM300 51h4v4h-4zM300 71h4v4h-4z"/><path fill="#ff5a00" d="M316 27h4v4h-4zM304 55h4v4h-4zM304 67h4v4h-4zM308 79h4v4h-4zM312 87h4v4h-4zM316 91h4v4h-4zM320 95h4v4h-4zM324 99h4v4h-4zM348 115h4v4h-4zM356 119h4v4h-4z"/><path fill="#ff4e00" d="M320 27h4v4h-4zM308 51h4v4h-4zM308 55h4v4h-4zM308 67h4v4h-4zM312 79h4v4h-4zM320 91h4v4h-4zM324 95h4v4h-4zM328 99h4v4h-4zM340 107h4v4h-4z"/><path fill="#ff3f00" d="M324 27h4v4h-4zM312 55h4v4h-4zM312 59h4v4h-4zM312 63h4v4h-4zM352 111h4v4h-4zM360 115h4v4h-4z"/><path fill="#ff3000" d="M328 27h4v4h-4zM320 43h4v4h-4zM320 75h4v4h-4zM324 83h4v4h-4zM340 99h4v4h-4z"/><path fill="#ff2400" d="M332 27h4v4h-4zM324 75h4v4h-4zM332 87h4v4h-4zM340 95h4v4h-4zM344 99h4v4h-4zM356 107h4v4h-4z"/><path fill="#ff1500" d="M336 27h4v4h-4zM328 43h4v4h-4zM328 71h4v4h-4zM356 103h4v4h-4z"/><path fill="#ffcf00" d="M280 31h4v4h-4zM272 43h4v4h-4zM268 79h4v4h-4zM308 119h4v4h-4zM316 123h4v4h-4zM356 139h4v4h-4z"/><path fill="#ffc000" d="M284 31h4v4h-4zM272 55h4v4h-4zM272 75h4v4h-4zM296 107h4v4h-4zM352 135h4v4h-4z"/><path fill="#ffb100" d="M288 31h4v4h-4zM276 59h4v4h-4zM276 63h4v4h-4zM276 67h4v4h-4zM276 71h4v4h-4zM280 83h4v4h-4zM288 95h4v4h-4zM292 99h4v4h-4zM296 103h4v4h-4zM320 119h4v4h-4zM328 123h4v4h-4zM348 131h4v4h-4z"/><path fill="#ffa500" d="M292 31h4v4h-4zM280 55h4v4h-4zM280 59h4v4h-4zM280 71h4v4h-4zM284 83h4v4h-4zM292 95h4v4h-4zM296 99h4v4h-4zM312 111h4v4h-4zM352 131h4v4h-4z"/><path fill="#ff9600" d="M296 31h4v4h-4zM284 59h4v4h-4zM284 63h4v4h-4zM284 67h4v4h-4zM312 107h4v4h-4zM324 115h4v4h-4zM332 119h4v4h-4zM340 123h4v4h-4z"/><path fill="#ff8a00" d="M300 31h4v4h-4zM288 59h4v4h-4zM288 63h4v4h-4zM288 67h4v4h-4zM296 87h4v4h-4zM316 107h4v4h-4zM336 119h4v4h-4z"/><path fill="#ff7b00" d="M304 31h4v4h-4zM296 47h4v4h-4zM296 79h4v4h-4zM304 91h4v4h-4zM308 95h4v4h-4zM312 99h4v4h-4zM316 103h4v4h-4zM328 111h4v4h-4z"/><path fill="#ff6c00" d="M308 31h4v4h-4zM304 39h4v4h-4zM300 47h4v4h-4zM300 75h4v4h-4zM304 83h4v4h-4zM328 107h4v4h-4z"/><path fill="#f3ff00" d="M260 35h4v4h-4zM252 47h4v4h-4zM248 59h4v4h-4zM248 79h4v4h-4zM256 95h4v4h-4zM272 111h4v4h-4zM284 119h4v4h-4zM308 131h4v4h-4z"/><path fill="#fffc00" d="M264 35h4v4h-4zM252 63h4v4h-4zM252 75h4v4h-4zM256 87h4v4h-4zM264 99h4v4h-4zM268 103h4v4h-4zM284 115h4v4h-4zM336 139h4v4h-4zM348 143h4v4h-4z"/><path fill="#ffed00" d="M268 35h4v4h-4zM260 51h4v4h-4zM256 67h4v4h-4zM256 71h4v4h-4zM284 111h4v4h-4zM296 119h4v4h-4zM304 123h4v4h-4zM312 127h4v4h-4zM332 135h4v4h-4z"/><path fill="#ffe100" d="M272 35h4v4h-4zM260 63h4v4h-4zM260 67h4v4h-4zM260 71h4v4h-4zM268 91h4v4h-4zM288 111h4v4h-4zM348 139h4v4h-4zM360 143h4v4h-4z"/><path fill="#ffd200" d="M276 35h4v4h-4zM268 51h4v4h-4zM268 83h4v4h-4zM276 95h4v4h-4zM280 99h4v4h-4zM284 103h4v4h-4zM300 115h4v4h-4zM324 127h4v4h-4zM344 135h4v4h-4z"/><path fill="#ffb700" d="M284 35h4v4h-4zM276 51h4v4h-4zM276 79h4v4h-4zM280 87h4v4h-4zM304 111h4v4h-4zM356 135h4v4h-4z"/><path fill="#ffa800" d="M288 35h4v4h-4zM284 43h4v4h-4zM280 75h4v4h-4zM288 91h4v4h-4zM300 103h4v4h-4zM324 119h4v4h-4zM332 123h4v4h-4z"/><path fill="#ff2100" d="M328 35h4v4h-4zM324 43h4v4h-4zM324 71h4v4h-4zM336 91h4v4h-4z"/><path fill="#ff0600" d="M336 35h4v4h-4zM356 99h4v4h-4z"/><path fill="#90ff00" d="M228 39h4v4h-4zM220 51h4v4h-4zM216 87h4v4h-4zM220 95h4v4h-4zM244 119h4v4h-4zM284 139h4v4h-4zM320 151h4v4h-4z"/><path fill="#9fff00" d="M232 39h4v4h-4zM220 63h4v4h-4zM220 83h4v4h-4zM228 99h4v4h-4zM240 111h4v4h-4zM244 115h4v4h-4zM264 127h4v4h-4zM272 131h4v4h-4z"/><path fill="#aeff00" d="M236 39h4v4h-4zM224 67h4v4h-4zM224 71h4v4h-4zM224 75h4v4h-4zM224 79h4v4h-4zM228 91h4v4h-4zM256 119h4v4h-4zM288 135h4v4h-4zM308 143h4v4h-4zM320 147h4v4h-4z"/><path fill="#d5ff00" d="M248 39h4v4h-4zM240 55h4v4h-4zM240 87h4v4h-4zM248 99h4v4h-4zM256 107h4v4h-4zM260 111h4v4h-4zM272 119h4v4h-4zM304 135h4v4h-4zM340 147h4v4h-4z"/><path fill="#e4ff00" d="M252 39h4v4h-4zM248 47h4v4h-4zM244 55h4v4h-4zM244 83h4v4h-4zM248 91h4v4h-4zM272 115h4v4h-4zM312 135h4v4h-4z"/><path fill="#f0ff00" d="M256 39h4v4h-4zM248 55h4v4h-4zM248 83h4v4h-4zM252 91h4v4h-4zM276 115h4v4h-4zM328 139h4v4h-4zM340 143h4v4h-4zM352 147h4v4h-4z"/><path fill="#ffff00" d="M260 39h4v4h-4zM256 47h4v4h-4zM252 59h4v4h-4zM252 79h4v4h-4zM260 95h4v4h-4zM272 107h4v4h-4zM296 123h4v4h-4zM304 127h4v4h-4zM324 135h4v4h-4zM360 147h4v4h-4z"/><path fill="#ff8700" d="M296 39h4v4h-4zM292 47h4v4h-4zM292 79h4v4h-4zM300 91h4v4h-4zM312 103h4v4h-4zM356 127h4v4h-4z"/><path fill="#ff5d00" d="M308 39h4v4h-4zM304 51h4v4h-4zM304 71h4v4h-4zM328 103h4v4h-4zM340 111h4v4h-4z"/><path fill="#ff4200" d="M316 39h4v4h-4zM312 51h4v4h-4zM312 67h4v4h-4zM316 79h4v4h-4zM324 91h4v4h-4zM328 95h4v4h-4zM344 107h4v4h-4z"/><path fill="#72ff00" d="M216 43h4v4h-4zM212 99h4v4h-4zM232 119h4v4h-4zM292 147h4v4h-4z"/><path fill="#81ff00" d="M220 43h4v4h-4zM216 51h4v4h-4zM212 59h4v4h-4zM220 103h4v4h-4zM224 107h4v4h-4zM228 111h4v4h-4zM244 123h4v4h-4zM252 127h4v4h-4zM268 135h4v4h-4zM288 143h4v4h-4zM300 147h4v4h-4zM312 151h4v4h-4z"/><path fill="#b7ff00" d="M236 43h4v4h-4zM232 51h4v4h-4zM228 63h4v4h-4zM228 83h4v4h-4zM232 91h4v4h-4zM240 103h4v4h-4zM244 107h4v4h-4zM260 119h4v4h-4zM292 135h4v4h-4zM312 143h4v4h-4z"/><path fill="#ffde00" d="M268 43h4v4h-4zM264 51h4v4h-4zM264 83h4v4h-4zM272 95h4v4h-4zM284 107h4v4h-4zM296 115h4v4h-4zM328 131h4v4h-4z"/><path fill="#ffc300" d="M276 43h4v4h-4zM272 51h4v4h-4zM272 79h4v4h-4zM276 87h4v4h-4zM300 111h4v4h-4zM340 131h4v4h-4z"/><path fill="#ffb400" d="M280 43h4v4h-4zM276 55h4v4h-4zM276 75h4v4h-4zM284 91h4v4h-4zM300 107h4v4h-4zM312 115h4v4h-4zM336 127h4v4h-4z"/><path fill="#ff9900" d="M288 43h4v4h-4zM284 55h4v4h-4zM284 71h4v4h-4zM288 83h4v4h-4zM300 99h4v4h-4zM316 111h4v4h-4zM348 127h4v4h-4z"/><path fill="#ff4b00" d="M312 43h4v4h-4zM308 59h4v4h-4zM308 63h4v4h-4z"/><path fill="#fff000" d="M260 47h4v4h-4zM256 59h4v4h-4zM256 63h4v4h-4zM256 75h4v4h-4zM260 87h4v4h-4zM288 115h4v4h-4zM320 131h4v4h-4z"/><path fill="#ff3300" d="M316 55h4v4h-4zM316 59h4v4h-4zM316 63h4v4h-4zM344 103h4v4h-4z"/><path fill="#c6ff00" d="M232 67h4v4h-4zM232 71h4v4h-4zM232 75h4v4h-4zM232 79h4v4h-4zM260 115h4v4h-4zM280 127h4v4h-4zM308 139h4v4h-4zM320 143h4v4h-4zM332 147h4v4h-4z"/><path fill="#63ff00" d="M216 111h4v4h-4zM232 123h4v4h-4zM264 139h4v4h-4z"/><path fill="#54ff00" d="M220 119h4v4h-4zM240 131h4v4h-4zM248 135h4v4h-4zM304 155h4v4h-4z"/><path fill="#45ff00" d="M220 123h4v4h-4zM260 143h4v4h-4zM272 147h4v4h-4zM296 155h4v4h-4z"/><path fill="#00ff0c" d="M208 135h4v4h-4zM216 139h4v4h-4zM224 143h4v4h-4z"/><path fill="#09ff00" d="M216 135h4v4h-4zM224 139h4v4h-4zM244 147h4v4h-4zM268 155h4v4h-4z"/><path fill="#00ff15" d="M212 139h4v4h-4zM220 143h4v4h-4z"/><path fill="#00ff33" d="M208 143h4v4h-4z"/><path fill="#00ff2a" d="M212 143h4v4h-4zM232 151h4v4h-4z"/><path fill="#00ff48" d="M208 147h4v4h-4z"/><path fill="#00ff3f" d="M212 147h4v4h-4z"/><path fill="#00ff2d" d="M220 147h4v4h-4z"/><path fill="#00ff24" d="M224 147h4v4h-4z"/><path fill="#00ff1b" d="M228 147h4v4h-4z"/><path fill="#00ff5d" d="M208 151h4v4h-4z"/><path fill="#00ff54" d="M212 151h4v4h-4zM224 155h4v4h-4z"/><path fill="#00ff4b" d="M216 151h4v4h-4zM228 155h4v4h-4z"/><path fill="#00ff42" d="M220 151h4v4h-4zM232 155h4v4h-4z"/><path fill="#00ff39" d="M224 151h4v4h-4zM236 155h4v4h-4z"/><path fill="#00ff06" d="M248 151h4v4h-4zM260 155h4v4h-4z"/><path fill="#03ff00" d="M252 151h4v4h-4zM264 155h4v4h-4z"/><path fill="#00ff75" d="M208 155h4v4h-4z"/><path fill="#00ff6c" d="M212 155h4v4h-4z"/><path fill="#00ff63" d="M216 155h4v4h-4z"/><path fill="#00ff5a" d="M220 155h4v4h-4z"/></g></g>
<path d="M216 137.71 218.09 138.76 219.76 139.58 221.56 140.44 223.65 141.41 225.72 142.36 227.27 143.05 229.2 143.89 231.29 144.79 233.38 145.66 235.46 146.51 237.22 147.22 238.98 147.91 241.02 148.7 243.1 149.5 244.45 150M220.3 11 218.78 12.18 217.39 13.26 216 14.36M216 105.6 217.39 107.23 218.78 108.77 220.17 110.21 221.56 111.58 222.95 112.89 224.34 114.14 225.73 115.34 227.3 116.64 229.06 118.03 230.59 119.19 231.99 120.21 233.81 121.5 235.46 122.63 236.91 123.59 238.94 124.88 240.33 125.75 242.41 127 243.8 127.81 245.88 129 247.42 129.84 249.36 130.89 251.35 131.93 252.84 132.69 254.92 133.73 256.94 134.71 258.4 135.41 260.48 136.37 262.56 137.32 264.51 138.19 266.11 138.88 268.12 139.74 270.21 140.61 272.3 141.46 274.38 142.29 276.31 143.05 278.12 143.75 279.95 144.44 282.02 145.21 284.11 145.97 286.19 146.72 288.28 147.45 290.37 148.17 292.45 148.88 294.54 149.58 295.82 150M250.06 11 248.66 12.14 247.28 13.3 245.87 14.48 244.25 15.87 242.65 17.25 241.08 18.64 239.63 19.95 238.24 21.22 236.85 22.52 235.46 23.84 234.07 25.18 232.68 26.56 231.29 27.96 229.9 29.4 228.51 30.87 227.12 32.38 225.73 33.93 224.52 35.32 223.34 36.71 222.19 38.1 220.87 39.77 219.47 41.58 218.44 42.97 217.39 44.44 216.02 46.45 216 46.48M280.17 11 278.58 12.39 277.16 13.65 275.77 14.91 274.38 16.19 272.99 17.49 271.6 18.81 270.21 20.17 268.82 21.55 267.43 22.96 266.04 24.4 264.65 25.88 263.26 27.4 261.87 28.96 260.57 30.46 259.41 31.85 258.27 33.24 257 34.84 255.62 36.66 254.56 38.1 253.53 39.56 252.16 41.58 251.27 42.97 250.06 44.95 249.19 46.45 248.05 48.53 247.28 50.05 246.34 52.01 245.44 54.09 244.62 56.17 243.89 58.26 243.26 60.34 242.73 62.43 242.29 64.52 241.86 67.3 241.65 69.38 241.54 72.16 241.63 74.94 241.82 77.02 242.25 79.8 242.71 81.89 243.29 83.97 244 86.06 244.83 88.14 245.79 90.23 246.58 91.77 247.68 93.7 248.66 95.28 249.96 97.18 250.99 98.57 252.14 100.04 253.53 101.7 254.92 103.25 256.31 104.71 257.7 106.1 259.09 107.42 260.48 108.68 261.87 109.89 263.3 111.08 265.03 112.47 266.74 113.77 268.12 114.8 269.73 115.95 271.6 117.23 272.99 118.16 274.95 119.42 276.46 120.37 278.34 121.5 279.94 122.44 281.94 123.59 283.41 124.41 285.5 125.54 287.08 126.37 288.98 127.35 291.06 128.39 292.61 129.15 294.54 130.07 296.62 131.05 298.56 131.93 300.11 132.62 302.18 133.53 304.26 134.42 306.35 135.3 308.31 136.1 310.04 136.8 311.91 137.54 314 138.34 316.08 139.14 318.16 139.91 320.25 140.68 322.34 141.43 324.42 142.16 326.5 142.89 328.59 143.6 330.68 144.3 332.76 144.98 334.85 145.66 336.93 146.32 339.01 146.98 341.1 147.62 343.19 148.26 345.27 148.88 347.36 149.5 349.07 150M310.64 11 309.16 12.39 307.74 13.75 306.35 15.11 304.96 16.49 303.57 17.91 302.2 19.34 300.9 20.73 299.63 22.12 298.39 23.51 297.18 24.9 295.93 26.39 294.54 28.09 293.21 29.77 292.16 31.16 291.06 32.64 289.67 34.61 288.72 36.02 287.59 37.78 286.53 39.49 285.5 41.27 284.57 42.97 283.5 45.05 282.72 46.71 281.92 48.53 281.09 50.62 280.36 52.7 279.71 54.78 279.16 56.87 278.58 59.65 278.26 61.73 277.99 64.52 277.9 67.3 278.01 70.07 278.32 72.85 278.69 74.94 279.25 77.32 279.94 79.63 280.63 81.56 281.35 83.28 282.33 85.36 283.41 87.4 284.26 88.84 285.5 90.77 286.58 92.31 287.62 93.7 288.98 95.4 290.37 97.02 291.75 98.54 293.13 99.96 294.54 101.34 295.93 102.64 297.31 103.88 298.7 105.08 300.1 106.23 301.84 107.61 303.57 108.92 304.96 109.93 306.58 111.08 308.44 112.34 309.82 113.26 311.85 114.55 313.3 115.45 315.27 116.64 316.77 117.52 318.86 118.7 320.25 119.47 322.34 120.59 324.08 121.5 325.81 122.39 327.89 123.43 329.66 124.28 331.37 125.1 333.45 126.07 335.54 127.01 337.22 127.76 339.01 128.54 341.1 129.43 343.19 130.3 345.27 131.15 347.22 131.93 348.99 132.62 350.83 133.34 352.91 134.13 355 134.9M341.49 11 340.13 12.39 338.79 13.78 337.48 15.17 336.21 16.56 334.85 18.08 333.45 19.68 332.06 21.33 330.86 22.81 329.76 24.2 328.59 25.73 327.2 27.62 326.18 29.07 325.12 30.64 323.88 32.55 323.02 33.94 321.81 36.02 320.94 37.6 319.97 39.49 318.98 41.58 318.16 43.45 317.47 45.2 316.77 47.14 316.08 49.34 315.38 51.99 314.94 54.09 314.61 56.17 314.32 58.95 314.21 61.73 314.3 64.52 314.58 67.3 314.93 69.38 315.39 71.46 316.08 73.88 316.77 75.89 317.51 77.72 318.47 79.8 319.56 81.88 320.36 83.28 321.64 85.3 322.64 86.75 323.73 88.22 325.12 89.98 326.5 91.61 327.77 93.01 329.09 94.4 330.49 95.79 331.96 97.18 333.45 98.53 334.85 99.73 336.24 100.88 337.69 102.05 339.51 103.44 341.1 104.61 342.49 105.6 344.4 106.91 345.97 107.95 347.59 109 349.44 110.15 350.97 111.08 352.91 112.22 354.57 113.16 355 113.41M355 36.87 354.18 38.8 353.39 40.88 352.68 42.97 352.07 45.05 351.52 47.29 351.02 49.92 350.74 52.01 350.52 54.78 350.48 57.56 350.65 60.34 350.9 62.43 351.41 65.21 351.93 67.3 352.57 69.38 353.34 71.46 354.24 73.55 355 75.13" fill="none" stroke="#000" stroke-opacity="0.62" stroke-width="0.9" stroke-linejoin="round" clip-path="url(#c2)"/>
<rect x="216" y="11" width="139" height="139" fill="none" stroke="#3a3020" stroke-opacity="0.75" stroke-width="0.6"/>
<text x="216" y="160" font-size="4.94" text-anchor="middle">50.00</text>
<text x="243.8" y="160" font-size="4.94" text-anchor="middle">52.00</text>
<text x="271.6" y="160" font-size="4.94" text-anchor="middle">54.00</text>
<text x="299.4" y="160" font-size="4.94" text-anchor="middle">56.00</text>
<text x="327.2" y="160" font-size="4.94" text-anchor="middle">58.00</text>
<text x="355" y="160" font-size="4.94" text-anchor="middle">60.00</text>
<text x="285.5" y="169.5" font-size="5.23" text-anchor="middle">A: Temperature（℃）</text>
<text x="212" y="151.78" font-size="4.94" text-anchor="end">10.00</text>
<text x="212" y="123.98" font-size="4.94" text-anchor="end">12.00</text>
<text x="212" y="96.18" font-size="4.94" text-anchor="end">14.00</text>
<text x="212" y="68.38" font-size="4.94" text-anchor="end">16.00</text>
<text x="212" y="40.58" font-size="4.94" text-anchor="end">18.00</text>
<text x="212" y="12.78" font-size="4.94" text-anchor="end">20.00</text>
<path d="M216 150v3M243.8 150v3M271.6 150v3M299.4 150v3M327.2 150v3M355 150v3M216 150h-3.5M216 122.2h-3.5M216 94.4h-3.5M216 66.6h-3.5M216 38.8h-3.5M216 11h-3.5" stroke="#444" stroke-width="0.5" fill="none"/>
<text transform="translate(195.8 81) rotate(-90)" font-size="5.23" text-anchor="middle">C: Liquid&amp;Solid ratio</text>
<text x="285.5" y="8.3" font-size="5.68" text-anchor="middle">Yield(mg/g)</text>
<circle cx="216" cy="11" r="1.6" fill="#860a14"/>
<circle cx="355" cy="11" r="1.6" fill="#860a14"/>
<circle cx="216" cy="150" r="1.6" fill="#860a14"/>
<circle cx="355" cy="150" r="1.6" fill="#860a14"/>
<circle cx="285.5" cy="80.5" r="1.6" fill="#860a14"/>
<text x="282.7" y="82.3" font-size="5" text-anchor="end" fill="#4a2c2c">5</text>
<rect x="230.1" y="19.9" width="7.2" height="7.2" fill="#fbfbff" stroke="#55553c" stroke-width="0.6"/><text x="233.7" y="25.35" font-size="5.1" text-anchor="middle" fill="#3c3c6a">66</text>
<rect x="249.3" y="95.7" width="7.2" height="7.2" fill="#fbfbff" stroke="#55553c" stroke-width="0.6"/><text x="252.9" y="101.15" font-size="5.1" text-anchor="middle" fill="#3c3c6a">67</text>
<rect x="278.6" y="80.5" width="7.2" height="7.2" fill="#fbfbff" stroke="#55553c" stroke-width="0.6"/><text x="282.2" y="85.95" font-size="5.1" text-anchor="middle" fill="#3c3c6a">68</text>
<rect x="309.4" y="60.8" width="7.2" height="7.2" fill="#fbfbff" stroke="#55553c" stroke-width="0.6"/><text x="313" y="66.25" font-size="5.1" text-anchor="middle" fill="#3c3c6a">69</text>
<rect x="346.2" y="48.9" width="7.2" height="7.2" fill="#fbfbff" stroke="#55553c" stroke-width="0.6"/><text x="349.8" y="54.35" font-size="5.1" text-anchor="middle" fill="#3c3c6a">70</text>
<rect x="247.7" y="125.1" width="7.2" height="7.2" fill="#fbfbff" stroke="#55553c" stroke-width="0.6"/><text x="251.3" y="130.55" font-size="5.1" text-anchor="middle" fill="#3c3c6a">66</text>
<rect x="224.6" y="136.4" width="7.2" height="7.2" fill="#fbfbff" stroke="#55553c" stroke-width="0.6"/><text x="228.2" y="141.85" font-size="5.1" text-anchor="middle" fill="#3c3c6a">65</text>
<g clip-path="url(#c3)"><g filter="url(#bl)" shape-rendering="crispEdges"><path fill="#ffe400" d="M394 3.5h4v4h-4zM398 39.5h4v4h-4zM422 63.5h4v4h-4zM434 71.5h4v4h-4zM498 103.5h4v4h-4z"/><path fill="#ffdb00" d="M398 3.5h4v4h-4zM394 11.5h4v4h-4zM394 15.5h4v4h-4zM394 19.5h4v4h-4zM394 23.5h4v4h-4zM398 35.5h4v4h-4zM458 83.5h4v4h-4zM466 87.5h4v4h-4zM474 91.5h4v4h-4zM482 95.5h4v4h-4zM510 107.5h4v4h-4zM542 119.5h4v4h-4z"/><path fill="#ffcf00" d="M402 3.5h4v4h-4zM398 15.5h4v4h-4zM398 19.5h4v4h-4zM398 23.5h4v4h-4zM430 63.5h4v4h-4zM462 83.5h4v4h-4zM470 87.5h4v4h-4zM478 91.5h4v4h-4zM486 95.5h4v4h-4zM514 107.5h4v4h-4z"/><path fill="#ffc600" d="M406 3.5h4v4h-4zM402 11.5h4v4h-4zM402 15.5h4v4h-4zM402 23.5h4v4h-4zM406 35.5h4v4h-4zM418 51.5h4v4h-4zM438 67.5h4v4h-4zM458 79.5h4v4h-4zM498 99.5h4v4h-4zM538 115.5h4v4h-4z"/><path fill="#ffba00" d="M410 3.5h4v4h-4zM406 15.5h4v4h-4zM406 19.5h4v4h-4zM406 23.5h4v4h-4zM410 35.5h4v4h-4zM442 67.5h4v4h-4zM462 79.5h4v4h-4zM502 99.5h4v4h-4z"/><path fill="#ffb100" d="M414 3.5h4v4h-4zM410 11.5h4v4h-4zM410 27.5h4v4h-4zM422 47.5h4v4h-4zM426 51.5h4v4h-4zM430 55.5h4v4h-4zM458 75.5h4v4h-4zM514 103.5h4v4h-4zM534 111.5h4v4h-4z"/><path fill="#ffa500" d="M418 3.5h4v4h-4zM414 15.5h4v4h-4zM414 19.5h4v4h-4zM414 23.5h4v4h-4zM414 27.5h4v4h-4zM418 35.5h4v4h-4zM426 47.5h4v4h-4zM430 51.5h4v4h-4zM434 55.5h4v4h-4zM462 75.5h4v4h-4zM518 103.5h4v4h-4zM538 111.5h4v4h-4z"/><path fill="#ff9c00" d="M422 3.5h4v4h-4zM418 11.5h4v4h-4zM418 27.5h4v4h-4zM426 43.5h4v4h-4zM442 59.5h4v4h-4zM458 71.5h4v4h-4z"/><path fill="#ff9000" d="M426 3.5h4v4h-4zM422 15.5h4v4h-4zM422 23.5h4v4h-4zM422 27.5h4v4h-4zM430 43.5h4v4h-4zM446 59.5h4v4h-4z"/><path fill="#ff8700" d="M430 3.5h4v4h-4zM426 11.5h4v4h-4zM454 63.5h4v4h-4zM466 71.5h4v4h-4zM486 83.5h4v4h-4zM494 87.5h4v4h-4zM502 91.5h4v4h-4zM510 95.5h4v4h-4zM538 107.5h4v4h-4z"/><path fill="#ff7b00" d="M434 3.5h4v4h-4zM430 11.5h4v4h-4zM430 15.5h4v4h-4zM430 27.5h4v4h-4zM438 43.5h4v4h-4zM458 63.5h4v4h-4zM470 71.5h4v4h-4zM490 83.5h4v4h-4zM498 87.5h4v4h-4zM506 91.5h4v4h-4zM514 95.5h4v4h-4zM542 107.5h4v4h-4z"/><path fill="#ff7200" d="M438 3.5h4v4h-4zM434 11.5h4v4h-4zM434 31.5h4v4h-4zM438 39.5h4v4h-4zM486 79.5h4v4h-4zM526 99.5h4v4h-4z"/><path fill="#ff6600" d="M442 3.5h4v4h-4zM438 11.5h4v4h-4zM438 15.5h4v4h-4zM438 27.5h4v4h-4zM442 39.5h4v4h-4zM466 63.5h4v4h-4zM490 79.5h4v4h-4zM530 99.5h4v4h-4z"/><path fill="#ff5d00" d="M446 3.5h4v4h-4zM442 11.5h4v4h-4zM442 31.5h4v4h-4zM446 39.5h4v4h-4zM474 67.5h4v4h-4zM486 75.5h4v4h-4zM542 103.5h4v4h-4z"/><path fill="#ff5400" d="M450 3.5h4v4h-4zM458 51.5h4v4h-4zM462 55.5h4v4h-4z"/><path fill="#ff4800" d="M454 3.5h4v4h-4zM450 11.5h4v4h-4zM450 31.5h4v4h-4zM462 51.5h4v4h-4zM466 55.5h4v4h-4z"/><path fill="#ff3f00" d="M458 3.5h4v4h-4zM454 11.5h4v4h-4zM454 35.5h4v4h-4zM462 47.5h4v4h-4zM466 51.5h4v4h-4zM470 55.5h4v4h-4zM474 59.5h4v4h-4zM490 71.5h4v4h-4zM510 83.5h4v4h-4zM518 87.5h4v4h-4zM526 91.5h4v4h-4zM534 95.5h4v4h-4z"/><path fill="#ff3300" d="M462 3.5h4v4h-4zM458 11.5h4v4h-4zM466 47.5h4v4h-4zM470 51.5h4v4h-4zM474 55.5h4v4h-4zM478 59.5h4v4h-4zM494 71.5h4v4h-4zM514 83.5h4v4h-4zM522 87.5h4v4h-4zM530 91.5h4v4h-4zM538 95.5h4v4h-4z"/><path fill="#ff2a00" d="M466 3.5h4v4h-4zM462 11.5h4v4h-4zM462 35.5h4v4h-4zM470 47.5h4v4h-4zM486 63.5h4v4h-4zM510 79.5h4v4h-4z"/><path fill="#ff2100" d="M470 3.5h4v4h-4zM470 43.5h4v4h-4zM490 63.5h4v4h-4z"/><path fill="#ff1500" d="M474 3.5h4v4h-4zM470 11.5h4v4h-4zM470 35.5h4v4h-4zM474 43.5h4v4h-4zM494 63.5h4v4h-4zM518 79.5h4v4h-4z"/><path fill="#ff0c00" d="M478 3.5h4v4h-4zM502 67.5h4v4h-4zM514 75.5h4v4h-4z"/><path fill="#ff0300" d="M482 3.5h4v4h-4zM474 19.5h4v4h-4zM474 23.5h4v4h-4zM474 27.5h4v4h-4zM478 39.5h4v4h-4zM538 87.5h4v4h-4zM546 91.5h4v4h-4z"/><path fill="#ff0000" d="M486 3.5h64v4h-64zM482 7.5h68v4h-68zM478 11.5h72v4h-72zM478 15.5h72v4h-72zM478 19.5h72v4h-72zM478 23.5h72v4h-72zM478 27.5h72v4h-72zM478 31.5h72v4h-72zM478 35.5h72v4h-72zM482 39.5h68v4h-68zM482 43.5h68v4h-68zM486 47.5h64v4h-64zM490 51.5h60v4h-60zM494 55.5h56v4h-56zM498 59.5h52v4h-52zM502 63.5h48v4h-48zM506 67.5h44v4h-44zM514 71.5h36v4h-36zM518 75.5h32v4h-32zM526 79.5h24v4h-24zM534 83.5h16v4h-16zM542 87.5h8v4h-8z"/><path fill="#ffe100" d="M394 7.5h4v4h-4zM394 31.5h4v4h-4zM402 43.5h4v4h-4zM418 59.5h4v4h-4zM442 75.5h4v4h-4zM518 111.5h4v4h-4z"/><path fill="#ffd500" d="M398 7.5h4v4h-4zM406 43.5h4v4h-4zM418 55.5h4v4h-4zM422 59.5h4v4h-4zM446 75.5h4v4h-4zM522 111.5h4v4h-4z"/><path fill="#ffcc00" d="M402 7.5h4v4h-4zM402 31.5h4v4h-4zM406 39.5h4v4h-4zM442 71.5h4v4h-4zM546 119.5h4v4h-4z"/><path fill="#ffc000" d="M406 7.5h4v4h-4zM406 31.5h4v4h-4zM410 39.5h4v4h-4zM446 71.5h4v4h-4z"/><path fill="#ffb400" d="M410 7.5h4v4h-4zM410 31.5h4v4h-4zM418 43.5h4v4h-4zM434 59.5h4v4h-4zM450 71.5h4v4h-4z"/><path fill="#ffab00" d="M414 7.5h4v4h-4zM414 31.5h4v4h-4zM418 39.5h4v4h-4zM442 63.5h4v4h-4zM474 83.5h4v4h-4zM482 87.5h4v4h-4zM490 91.5h4v4h-4zM498 95.5h4v4h-4zM526 107.5h4v4h-4zM546 115.5h4v4h-4z"/><path fill="#ff9f00" d="M418 7.5h4v4h-4zM418 31.5h4v4h-4zM422 39.5h4v4h-4zM446 63.5h4v4h-4zM478 83.5h4v4h-4zM486 87.5h4v4h-4zM494 91.5h4v4h-4zM502 95.5h4v4h-4zM530 107.5h4v4h-4z"/><path fill="#ff9600" d="M422 7.5h4v4h-4zM474 79.5h4v4h-4zM514 99.5h4v4h-4z"/><path fill="#ff8a00" d="M426 7.5h4v4h-4zM426 31.5h4v4h-4zM430 39.5h4v4h-4zM478 79.5h4v4h-4zM518 99.5h4v4h-4z"/><path fill="#ff8100" d="M430 7.5h4v4h-4zM442 51.5h4v4h-4zM462 67.5h4v4h-4zM474 75.5h4v4h-4zM530 103.5h4v4h-4z"/><path fill="#ff7500" d="M434 7.5h4v4h-4zM466 67.5h4v4h-4zM478 75.5h4v4h-4zM534 103.5h4v4h-4z"/><path fill="#ff6c00" d="M438 7.5h4v4h-4zM438 35.5h4v4h-4zM446 47.5h4v4h-4zM450 51.5h4v4h-4zM454 55.5h4v4h-4zM458 59.5h4v4h-4z"/><path fill="#ff6000" d="M442 7.5h4v4h-4zM442 35.5h4v4h-4zM450 47.5h4v4h-4zM454 51.5h4v4h-4zM458 55.5h4v4h-4z"/><path fill="#ff5700" d="M446 7.5h4v4h-4zM442 19.5h4v4h-4zM442 23.5h4v4h-4zM446 35.5h4v4h-4zM450 43.5h4v4h-4zM454 47.5h4v4h-4zM466 59.5h4v4h-4zM482 71.5h4v4h-4zM502 83.5h4v4h-4zM510 87.5h4v4h-4zM518 91.5h4v4h-4zM526 95.5h4v4h-4z"/><path fill="#ff4e00" d="M450 7.5h4v4h-4zM446 15.5h4v4h-4zM446 19.5h4v4h-4zM446 23.5h4v4h-4zM446 27.5h4v4h-4zM454 43.5h4v4h-4zM474 63.5h4v4h-4zM498 79.5h4v4h-4zM538 99.5h4v4h-4z"/><path fill="#ff4200" d="M454 7.5h4v4h-4zM450 19.5h4v4h-4zM450 23.5h4v4h-4zM458 43.5h4v4h-4zM478 63.5h4v4h-4zM502 79.5h4v4h-4zM542 99.5h4v4h-4z"/><path fill="#ff3900" d="M458 7.5h4v4h-4zM454 15.5h4v4h-4zM454 19.5h4v4h-4zM454 23.5h4v4h-4zM454 27.5h4v4h-4zM486 67.5h4v4h-4zM498 75.5h4v4h-4z"/><path fill="#ff2d00" d="M462 7.5h4v4h-4zM458 19.5h4v4h-4zM458 23.5h4v4h-4zM466 43.5h4v4h-4z"/><path fill="#ff2400" d="M466 7.5h4v4h-4zM462 15.5h4v4h-4zM462 19.5h4v4h-4zM462 23.5h4v4h-4zM462 27.5h4v4h-4zM466 39.5h4v4h-4zM494 67.5h4v4h-4zM506 75.5h4v4h-4z"/><path fill="#ff1800" d="M470 7.5h4v4h-4zM466 19.5h4v4h-4zM466 23.5h4v4h-4zM466 27.5h4v4h-4zM498 67.5h4v4h-4zM510 75.5h4v4h-4z"/><path fill="#ff0f00" d="M474 7.5h4v4h-4zM470 19.5h4v4h-4zM470 23.5h4v4h-4zM470 27.5h4v4h-4zM474 39.5h4v4h-4zM534 87.5h4v4h-4zM542 91.5h4v4h-4z"/><path fill="#ff0600" d="M478 7.5h4v4h-4zM474 15.5h4v4h-4zM474 31.5h4v4h-4zM482 47.5h4v4h-4zM486 51.5h4v4h-4zM490 55.5h4v4h-4zM494 59.5h4v4h-4zM510 71.5h4v4h-4zM530 83.5h4v4h-4z"/><path fill="#ffd200" d="M398 11.5h4v4h-4zM398 27.5h4v4h-4zM402 35.5h4v4h-4zM410 47.5h4v4h-4zM414 51.5h4v4h-4zM434 67.5h4v4h-4zM454 79.5h4v4h-4zM494 99.5h4v4h-4zM534 115.5h4v4h-4z"/><path fill="#ffbd00" d="M406 11.5h4v4h-4zM406 27.5h4v4h-4zM414 43.5h4v4h-4zM418 47.5h4v4h-4zM422 51.5h4v4h-4zM426 55.5h4v4h-4zM430 59.5h4v4h-4zM454 75.5h4v4h-4zM510 103.5h4v4h-4zM530 111.5h4v4h-4z"/><path fill="#ffa800" d="M414 11.5h4v4h-4zM422 43.5h4v4h-4zM438 59.5h4v4h-4zM454 71.5h4v4h-4z"/><path fill="#ff9300" d="M422 11.5h4v4h-4zM422 31.5h4v4h-4zM426 39.5h4v4h-4zM450 63.5h4v4h-4zM462 71.5h4v4h-4zM482 83.5h4v4h-4zM490 87.5h4v4h-4zM498 91.5h4v4h-4zM506 95.5h4v4h-4zM534 107.5h4v4h-4z"/><path fill="#ff5100" d="M446 11.5h4v4h-4zM446 31.5h4v4h-4zM450 39.5h4v4h-4zM478 67.5h4v4h-4zM490 75.5h4v4h-4zM546 103.5h4v4h-4z"/><path fill="#ff1e00" d="M466 11.5h4v4h-4zM466 35.5h4v4h-4zM474 47.5h4v4h-4zM486 59.5h4v4h-4zM502 71.5h4v4h-4zM514 79.5h4v4h-4z"/><path fill="#ff0900" d="M474 11.5h4v4h-4zM474 35.5h4v4h-4zM478 43.5h4v4h-4zM498 63.5h4v4h-4zM522 79.5h4v4h-4z"/><path fill="#ffae00" d="M410 15.5h4v4h-4zM410 19.5h4v4h-4zM410 23.5h4v4h-4zM414 35.5h4v4h-4zM446 67.5h4v4h-4zM466 79.5h4v4h-4zM506 99.5h4v4h-4z"/><path fill="#ff9900" d="M418 15.5h4v4h-4zM418 19.5h4v4h-4zM418 23.5h4v4h-4zM422 35.5h4v4h-4zM430 47.5h4v4h-4zM434 51.5h4v4h-4zM438 55.5h4v4h-4zM454 67.5h4v4h-4zM466 75.5h4v4h-4zM522 103.5h4v4h-4zM542 111.5h4v4h-4z"/><path fill="#ff8400" d="M426 15.5h4v4h-4zM426 19.5h4v4h-4zM426 23.5h4v4h-4zM426 27.5h4v4h-4zM430 35.5h4v4h-4zM434 43.5h4v4h-4zM438 47.5h4v4h-4zM446 55.5h4v4h-4zM450 59.5h4v4h-4z"/><path fill="#ff6f00" d="M434 15.5h4v4h-4zM434 19.5h4v4h-4zM434 23.5h4v4h-4zM434 27.5h4v4h-4zM442 43.5h4v4h-4zM462 63.5h4v4h-4zM474 71.5h4v4h-4zM494 83.5h4v4h-4zM502 87.5h4v4h-4zM510 91.5h4v4h-4zM518 95.5h4v4h-4zM546 107.5h4v4h-4z"/><path fill="#ff5a00" d="M442 15.5h4v4h-4zM442 27.5h4v4h-4zM470 63.5h4v4h-4zM494 79.5h4v4h-4zM534 99.5h4v4h-4z"/><path fill="#ff4500" d="M450 15.5h4v4h-4zM450 27.5h4v4h-4zM454 39.5h4v4h-4zM482 67.5h4v4h-4zM494 75.5h4v4h-4z"/><path fill="#ff3000" d="M458 15.5h4v4h-4zM458 27.5h4v4h-4zM458 31.5h4v4h-4zM462 39.5h4v4h-4zM490 67.5h4v4h-4zM502 75.5h4v4h-4z"/><path fill="#ff1b00" d="M466 15.5h4v4h-4zM466 31.5h4v4h-4zM470 39.5h4v4h-4zM478 51.5h4v4h-4zM482 55.5h4v4h-4zM522 83.5h4v4h-4zM530 87.5h4v4h-4zM538 91.5h4v4h-4zM546 95.5h4v4h-4z"/><path fill="#ff1200" d="M470 15.5h4v4h-4zM470 31.5h4v4h-4zM478 47.5h4v4h-4zM482 51.5h4v4h-4zM486 55.5h4v4h-4zM490 59.5h4v4h-4zM506 71.5h4v4h-4zM526 83.5h4v4h-4z"/><path fill="#ffc300" d="M402 19.5h4v4h-4zM434 63.5h4v4h-4zM466 83.5h4v4h-4zM474 87.5h4v4h-4zM482 91.5h4v4h-4zM490 95.5h4v4h-4zM518 107.5h4v4h-4z"/><path fill="#ff8d00" d="M422 19.5h4v4h-4zM426 35.5h4v4h-4zM434 47.5h4v4h-4zM438 51.5h4v4h-4zM442 55.5h4v4h-4zM458 67.5h4v4h-4zM470 75.5h4v4h-4zM526 103.5h4v4h-4zM546 111.5h4v4h-4z"/><path fill="#ff7800" d="M430 19.5h4v4h-4zM430 23.5h4v4h-4zM434 35.5h4v4h-4zM442 47.5h4v4h-4zM446 51.5h4v4h-4zM450 55.5h4v4h-4zM454 59.5h4v4h-4z"/><path fill="#ff6300" d="M438 19.5h4v4h-4zM438 23.5h4v4h-4zM446 43.5h4v4h-4zM462 59.5h4v4h-4zM478 71.5h4v4h-4zM498 83.5h4v4h-4zM506 87.5h4v4h-4zM514 91.5h4v4h-4zM522 95.5h4v4h-4z"/><path fill="#ffde00" d="M394 27.5h4v4h-4zM406 47.5h4v4h-4zM410 51.5h4v4h-4zM414 55.5h4v4h-4zM430 67.5h4v4h-4zM450 79.5h4v4h-4zM490 99.5h4v4h-4zM530 115.5h4v4h-4z"/><path fill="#ffc900" d="M402 27.5h4v4h-4zM410 43.5h4v4h-4zM414 47.5h4v4h-4zM422 55.5h4v4h-4zM426 59.5h4v4h-4zM450 75.5h4v4h-4zM506 103.5h4v4h-4zM526 111.5h4v4h-4z"/><path fill="#ffd800" d="M398 31.5h4v4h-4zM402 39.5h4v4h-4zM426 63.5h4v4h-4zM438 71.5h4v4h-4zM502 103.5h4v4h-4z"/><path fill="#ff7e00" d="M430 31.5h4v4h-4zM434 39.5h4v4h-4zM482 79.5h4v4h-4zM522 99.5h4v4h-4z"/><path fill="#ff6900" d="M438 31.5h4v4h-4zM470 67.5h4v4h-4zM482 75.5h4v4h-4zM538 103.5h4v4h-4z"/><path fill="#ff3c00" d="M454 31.5h4v4h-4zM458 39.5h4v4h-4z"/><path fill="#ff2700" d="M462 31.5h4v4h-4zM474 51.5h4v4h-4zM478 55.5h4v4h-4zM482 59.5h4v4h-4zM498 71.5h4v4h-4zM518 83.5h4v4h-4zM526 87.5h4v4h-4zM534 91.5h4v4h-4zM542 95.5h4v4h-4z"/><path fill="#ffe700" d="M394 35.5h4v4h-4zM454 83.5h4v4h-4zM462 87.5h4v4h-4zM470 91.5h4v4h-4zM478 95.5h4v4h-4zM506 107.5h4v4h-4zM538 119.5h4v4h-4z"/><path fill="#ff4b00" d="M450 35.5h4v4h-4zM458 47.5h4v4h-4zM470 59.5h4v4h-4zM486 71.5h4v4h-4zM506 83.5h4v4h-4zM514 87.5h4v4h-4zM522 91.5h4v4h-4zM530 95.5h4v4h-4z"/><path fill="#ff3600" d="M458 35.5h4v4h-4zM462 43.5h4v4h-4zM482 63.5h4v4h-4zM506 79.5h4v4h-4zM546 99.5h4v4h-4z"/><path fill="#fff000" d="M394 39.5h4v4h-4zM418 63.5h4v4h-4zM430 71.5h4v4h-4zM494 103.5h4v4h-4zM514 111.5h4v4h-4zM546 123.5h4v4h-4z"/><path fill="#ffb700" d="M414 39.5h4v4h-4zM438 63.5h4v4h-4zM470 83.5h4v4h-4zM478 87.5h4v4h-4zM486 91.5h4v4h-4zM494 95.5h4v4h-4zM522 107.5h4v4h-4zM542 115.5h4v4h-4z"/><path fill="#fff600" d="M394 43.5h4v4h-4zM398 47.5h4v4h-4zM402 51.5h4v4h-4zM406 55.5h4v4h-4zM422 67.5h4v4h-4zM442 79.5h4v4h-4zM474 95.5h4v4h-4zM502 107.5h4v4h-4zM522 115.5h4v4h-4z"/><path fill="#ffed00" d="M398 43.5h4v4h-4zM414 59.5h4v4h-4zM438 75.5h4v4h-4z"/><path fill="#fcff00" d="M394 47.5h4v4h-4zM398 51.5h4v4h-4zM402 55.5h4v4h-4zM418 67.5h4v4h-4zM438 79.5h4v4h-4zM470 95.5h4v4h-4zM498 107.5h4v4h-4zM518 115.5h4v4h-4z"/><path fill="#ffea00" d="M402 47.5h4v4h-4zM406 51.5h4v4h-4zM410 55.5h4v4h-4zM426 67.5h4v4h-4zM446 79.5h4v4h-4zM486 99.5h4v4h-4zM526 115.5h4v4h-4z"/><path fill="#f0ff00" d="M394 51.5h4v4h-4zM398 55.5h4v4h-4zM414 67.5h4v4h-4zM434 79.5h4v4h-4zM466 95.5h4v4h-4zM494 107.5h4v4h-4zM514 115.5h4v4h-4z"/><path fill="#e4ff00" d="M394 55.5h4v4h-4zM410 67.5h4v4h-4zM430 79.5h4v4h-4zM462 95.5h4v4h-4zM490 107.5h4v4h-4zM510 115.5h4v4h-4z"/><path fill="#d5ff00" d="M394 59.5h4v4h-4zM418 75.5h4v4h-4zM466 99.5h4v4h-4zM506 115.5h4v4h-4z"/><path fill="#e1ff00" d="M398 59.5h4v4h-4zM422 75.5h4v4h-4zM470 99.5h4v4h-4z"/><path fill="#edff00" d="M402 59.5h4v4h-4zM426 75.5h4v4h-4zM474 99.5h4v4h-4z"/><path fill="#f9ff00" d="M406 59.5h4v4h-4zM430 75.5h4v4h-4zM478 99.5h4v4h-4z"/><path fill="#fff900" d="M410 59.5h4v4h-4zM434 75.5h4v4h-4zM482 99.5h4v4h-4z"/><path fill="#c6ff00" d="M394 63.5h4v4h-4zM406 71.5h4v4h-4zM470 103.5h4v4h-4zM490 111.5h4v4h-4zM534 127.5h4v4h-4zM546 131.5h4v4h-4z"/><path fill="#d2ff00" d="M398 63.5h4v4h-4zM410 71.5h4v4h-4zM474 103.5h4v4h-4zM494 111.5h4v4h-4zM538 127.5h4v4h-4z"/><path fill="#deff00" d="M402 63.5h4v4h-4zM414 71.5h4v4h-4zM478 103.5h4v4h-4zM498 111.5h4v4h-4zM542 127.5h4v4h-4z"/><path fill="#eaff00" d="M406 63.5h4v4h-4zM418 71.5h4v4h-4zM482 103.5h4v4h-4zM502 111.5h4v4h-4zM534 123.5h4v4h-4zM546 127.5h4v4h-4z"/><path fill="#f6ff00" d="M410 63.5h4v4h-4zM422 71.5h4v4h-4zM486 103.5h4v4h-4zM506 111.5h4v4h-4zM538 123.5h4v4h-4z"/><path fill="#fffc00" d="M414 63.5h4v4h-4zM426 71.5h4v4h-4zM490 103.5h4v4h-4zM510 111.5h4v4h-4zM542 123.5h4v4h-4z"/><path fill="#b4ff00" d="M394 67.5h4v4h-4zM414 79.5h4v4h-4zM446 95.5h4v4h-4zM474 107.5h4v4h-4zM506 119.5h4v4h-4z"/><path fill="#c0ff00" d="M398 67.5h4v4h-4zM418 79.5h4v4h-4zM450 95.5h4v4h-4zM478 107.5h4v4h-4zM510 119.5h4v4h-4z"/><path fill="#ccff00" d="M402 67.5h4v4h-4zM422 79.5h4v4h-4zM454 95.5h4v4h-4zM482 107.5h4v4h-4z"/><path fill="#d8ff00" d="M406 67.5h4v4h-4zM426 79.5h4v4h-4zM458 95.5h4v4h-4zM486 107.5h4v4h-4z"/><path fill="#ffa200" d="M450 67.5h4v4h-4zM470 79.5h4v4h-4zM510 99.5h4v4h-4z"/><path fill="#a2ff00" d="M394 71.5h4v4h-4zM458 103.5h4v4h-4zM478 111.5h4v4h-4z"/><path fill="#aeff00" d="M398 71.5h4v4h-4zM462 103.5h4v4h-4zM482 111.5h4v4h-4z"/><path fill="#baff00" d="M402 71.5h4v4h-4zM466 103.5h4v4h-4zM486 111.5h4v4h-4z"/><path fill="#8dff00" d="M394 75.5h4v4h-4zM442 99.5h4v4h-4zM482 115.5h4v4h-4z"/><path fill="#9cff00" d="M398 75.5h4v4h-4zM406 79.5h4v4h-4zM438 95.5h4v4h-4zM466 107.5h4v4h-4zM498 119.5h4v4h-4z"/><path fill="#a5ff00" d="M402 75.5h4v4h-4zM450 99.5h4v4h-4zM490 115.5h4v4h-4z"/><path fill="#b1ff00" d="M406 75.5h4v4h-4zM454 99.5h4v4h-4zM494 115.5h4v4h-4z"/><path fill="#bdff00" d="M410 75.5h4v4h-4zM458 99.5h4v4h-4zM498 115.5h4v4h-4z"/><path fill="#c9ff00" d="M414 75.5h4v4h-4zM462 99.5h4v4h-4zM502 115.5h4v4h-4z"/><path fill="#78ff00" d="M394 79.5h4v4h-4zM418 91.5h4v4h-4zM426 95.5h4v4h-4zM486 119.5h4v4h-4zM498 123.5h4v4h-4zM534 135.5h4v4h-4z"/><path fill="#84ff00" d="M398 79.5h4v4h-4zM430 95.5h4v4h-4zM490 119.5h4v4h-4zM502 123.5h4v4h-4zM538 135.5h4v4h-4z"/><path fill="#90ff00" d="M402 79.5h4v4h-4zM434 95.5h4v4h-4zM462 107.5h4v4h-4zM494 119.5h4v4h-4z"/><path fill="#a8ff00" d="M410 79.5h4v4h-4zM442 95.5h4v4h-4zM470 107.5h4v4h-4zM502 119.5h4v4h-4z"/><path fill="#63ff00" d="M394 83.5h4v4h-4zM402 87.5h4v4h-4zM438 103.5h4v4h-4zM458 111.5h4v4h-4z"/><path fill="#6fff00" d="M398 83.5h4v4h-4zM406 87.5h4v4h-4zM442 103.5h4v4h-4zM462 111.5h4v4h-4z"/><path fill="#7bff00" d="M402 83.5h4v4h-4zM410 87.5h4v4h-4zM446 103.5h4v4h-4zM466 111.5h4v4h-4zM510 127.5h4v4h-4zM522 131.5h4v4h-4z"/><path fill="#87ff00" d="M406 83.5h4v4h-4zM414 87.5h4v4h-4zM422 91.5h4v4h-4zM450 103.5h4v4h-4zM470 111.5h4v4h-4zM514 127.5h4v4h-4zM526 131.5h4v4h-4z"/><path fill="#93ff00" d="M410 83.5h4v4h-4zM418 87.5h4v4h-4zM426 91.5h4v4h-4zM454 103.5h4v4h-4zM474 111.5h4v4h-4zM506 123.5h4v4h-4zM518 127.5h4v4h-4zM530 131.5h4v4h-4zM542 135.5h4v4h-4z"/><path fill="#9fff00" d="M414 83.5h4v4h-4zM422 87.5h4v4h-4zM430 91.5h4v4h-4zM510 123.5h4v4h-4zM522 127.5h4v4h-4zM534 131.5h4v4h-4zM546 135.5h4v4h-4z"/><path fill="#abff00" d="M418 83.5h4v4h-4zM426 87.5h4v4h-4zM434 91.5h4v4h-4zM514 123.5h4v4h-4zM526 127.5h4v4h-4zM538 131.5h4v4h-4z"/><path fill="#b7ff00" d="M422 83.5h4v4h-4zM430 87.5h4v4h-4zM438 91.5h4v4h-4zM518 123.5h4v4h-4zM530 127.5h4v4h-4zM542 131.5h4v4h-4z"/><path fill="#c3ff00" d="M426 83.5h4v4h-4zM434 87.5h4v4h-4zM442 91.5h4v4h-4zM522 123.5h4v4h-4z"/><path fill="#cfff00" d="M430 83.5h4v4h-4zM438 87.5h4v4h-4zM446 91.5h4v4h-4zM514 119.5h4v4h-4zM526 123.5h4v4h-4z"/><path fill="#dbff00" d="M434 83.5h4v4h-4zM442 87.5h4v4h-4zM450 91.5h4v4h-4zM518 119.5h4v4h-4zM530 123.5h4v4h-4z"/><path fill="#e7ff00" d="M438 83.5h4v4h-4zM446 87.5h4v4h-4zM454 91.5h4v4h-4zM522 119.5h4v4h-4z"/><path fill="#f3ff00" d="M442 83.5h4v4h-4zM450 87.5h4v4h-4zM458 91.5h4v4h-4zM526 119.5h4v4h-4z"/><path fill="#ffff00" d="M446 83.5h4v4h-4zM454 87.5h4v4h-4zM462 91.5h4v4h-4zM530 119.5h4v4h-4z"/><path fill="#fff300" d="M450 83.5h4v4h-4zM458 87.5h4v4h-4zM466 91.5h4v4h-4zM534 119.5h4v4h-4z"/><path fill="#48ff00" d="M394 87.5h4v4h-4zM402 91.5h4v4h-4zM450 111.5h4v4h-4zM494 127.5h4v4h-4zM506 131.5h4v4h-4z"/><path fill="#57ff00" d="M398 87.5h4v4h-4zM434 103.5h4v4h-4zM454 111.5h4v4h-4z"/><path fill="#30ff00" d="M394 91.5h4v4h-4zM422 103.5h4v4h-4zM442 111.5h4v4h-4z"/><path fill="#3cff00" d="M398 91.5h4v4h-4zM426 103.5h4v4h-4zM446 111.5h4v4h-4zM490 127.5h4v4h-4z"/><path fill="#54ff00" d="M406 91.5h4v4h-4zM486 123.5h4v4h-4zM498 127.5h4v4h-4zM510 131.5h4v4h-4zM522 135.5h4v4h-4z"/><path fill="#60ff00" d="M410 91.5h4v4h-4zM490 123.5h4v4h-4zM502 127.5h4v4h-4zM514 131.5h4v4h-4zM526 135.5h4v4h-4z"/><path fill="#6cff00" d="M414 91.5h4v4h-4zM422 95.5h4v4h-4zM494 123.5h4v4h-4zM506 127.5h4v4h-4zM518 131.5h4v4h-4zM530 135.5h4v4h-4z"/><path fill="#15ff00" d="M394 95.5h4v4h-4zM466 123.5h4v4h-4zM478 127.5h4v4h-4zM490 131.5h4v4h-4zM542 147.5h4v4h-4z"/><path fill="#21ff00" d="M398 95.5h4v4h-4zM470 123.5h4v4h-4zM482 127.5h4v4h-4zM494 131.5h4v4h-4zM506 135.5h4v4h-4zM546 147.5h4v4h-4z"/><path fill="#2dff00" d="M402 95.5h4v4h-4zM474 123.5h4v4h-4zM486 127.5h4v4h-4zM498 131.5h4v4h-4zM510 135.5h4v4h-4z"/><path fill="#39ff00" d="M406 95.5h4v4h-4zM466 119.5h4v4h-4zM478 123.5h4v4h-4zM502 131.5h4v4h-4zM514 135.5h4v4h-4z"/><path fill="#45ff00" d="M410 95.5h4v4h-4zM438 107.5h4v4h-4zM470 119.5h4v4h-4zM482 123.5h4v4h-4zM518 135.5h4v4h-4zM530 139.5h4v4h-4z"/><path fill="#51ff00" d="M414 95.5h4v4h-4zM442 107.5h4v4h-4zM474 119.5h4v4h-4zM534 139.5h4v4h-4z"/><path fill="#5dff00" d="M418 95.5h4v4h-4zM446 107.5h4v4h-4zM478 119.5h4v4h-4zM538 139.5h4v4h-4z"/><path fill="#00ff09" d="M394 99.5h4v4h-4zM414 107.5h4v4h-4zM446 119.5h4v4h-4zM506 139.5h4v4h-4z"/><path fill="#03ff00" d="M398 99.5h4v4h-4zM438 115.5h4v4h-4zM510 139.5h4v4h-4z"/><path fill="#0fff00" d="M402 99.5h4v4h-4zM442 115.5h4v4h-4zM514 139.5h4v4h-4z"/><path fill="#1eff00" d="M406 99.5h4v4h-4zM426 107.5h4v4h-4zM458 119.5h4v4h-4zM518 139.5h4v4h-4z"/><path fill="#2aff00" d="M410 99.5h4v4h-4zM430 107.5h4v4h-4zM462 119.5h4v4h-4zM522 139.5h4v4h-4z"/><path fill="#36ff00" d="M414 99.5h4v4h-4zM434 107.5h4v4h-4zM454 115.5h4v4h-4zM526 139.5h4v4h-4z"/><path fill="#42ff00" d="M418 99.5h4v4h-4zM458 115.5h4v4h-4z"/><path fill="#4eff00" d="M422 99.5h4v4h-4zM462 115.5h4v4h-4zM546 143.5h4v4h-4z"/><path fill="#5aff00" d="M426 99.5h4v4h-4zM466 115.5h4v4h-4z"/><path fill="#66ff00" d="M430 99.5h4v4h-4zM470 115.5h4v4h-4z"/><path fill="#75ff00" d="M434 99.5h4v4h-4zM454 107.5h4v4h-4zM546 139.5h4v4h-4z"/><path fill="#81ff00" d="M438 99.5h4v4h-4zM458 107.5h4v4h-4zM478 115.5h4v4h-4z"/><path fill="#99ff00" d="M446 99.5h4v4h-4zM486 115.5h4v4h-4z"/><path fill="#00ff27" d="M394 103.5h4v4h-4zM414 111.5h4v4h-4zM510 143.5h4v4h-4z"/><path fill="#00ff1b" d="M398 103.5h4v4h-4zM418 111.5h4v4h-4zM514 143.5h4v4h-4z"/><path fill="#00ff0f" d="M402 103.5h4v4h-4zM422 111.5h4v4h-4z"/><path fill="#00ff00" d="M406 103.5h4v4h-4zM522 143.5h4v4h-4z"/><path fill="#0cff00" d="M410 103.5h4v4h-4zM526 143.5h4v4h-4z"/><path fill="#18ff00" d="M414 103.5h4v4h-4zM434 111.5h4v4h-4z"/><path fill="#24ff00" d="M418 103.5h4v4h-4zM438 111.5h4v4h-4z"/><path fill="#4bff00" d="M430 103.5h4v4h-4z"/><path fill="#00ff48" d="M394 107.5h4v4h-4zM426 119.5h4v4h-4zM474 135.5h4v4h-4z"/><path fill="#00ff39" d="M398 107.5h4v4h-4zM442 123.5h4v4h-4zM454 127.5h4v4h-4zM466 131.5h4v4h-4zM478 135.5h4v4h-4zM518 147.5h4v4h-4zM546 155.5h4v4h-4z"/><path fill="#00ff2d" d="M402 107.5h4v4h-4zM434 119.5h4v4h-4zM446 123.5h4v4h-4zM470 131.5h4v4h-4zM482 135.5h4v4h-4z"/><path fill="#00ff21" d="M406 107.5h4v4h-4zM438 119.5h4v4h-4zM486 135.5h4v4h-4z"/><path fill="#00ff15" d="M410 107.5h4v4h-4zM442 119.5h4v4h-4zM490 135.5h4v4h-4zM502 139.5h4v4h-4z"/><path fill="#06ff00" d="M418 107.5h4v4h-4zM450 119.5h4v4h-4zM462 123.5h4v4h-4zM498 135.5h4v4h-4z"/><path fill="#12ff00" d="M422 107.5h4v4h-4zM454 119.5h4v4h-4zM502 135.5h4v4h-4z"/><path fill="#69ff00" d="M450 107.5h4v4h-4zM482 119.5h4v4h-4zM542 139.5h4v4h-4z"/><path fill="#00ff69" d="M394 111.5h4v4h-4zM490 143.5h4v4h-4z"/><path fill="#00ff5d" d="M398 111.5h4v4h-4z"/><path fill="#00ff4e" d="M402 111.5h4v4h-4zM498 143.5h4v4h-4z"/><path fill="#00ff42" d="M406 111.5h4v4h-4zM502 143.5h4v4h-4z"/><path fill="#00ff36" d="M410 111.5h4v4h-4z"/><path fill="#00ff03" d="M426 111.5h4v4h-4z"/><path fill="#09ff00" d="M430 111.5h4v4h-4zM474 127.5h4v4h-4zM486 131.5h4v4h-4zM538 147.5h4v4h-4z"/><path fill="#00ff8a" d="M394 115.5h4v4h-4zM466 139.5h4v4h-4z"/><path fill="#00ff7e" d="M398 115.5h4v4h-4zM470 139.5h4v4h-4z"/><path fill="#00ff72" d="M402 115.5h4v4h-4zM474 139.5h4v4h-4zM514 151.5h4v4h-4z"/><path fill="#00ff63" d="M406 115.5h4v4h-4zM418 119.5h4v4h-4zM478 139.5h4v4h-4z"/><path fill="#00ff57" d="M410 115.5h4v4h-4zM482 139.5h4v4h-4zM522 151.5h4v4h-4z"/><path fill="#00ff4b" d="M414 115.5h4v4h-4zM486 139.5h4v4h-4zM526 151.5h4v4h-4z"/><path fill="#00ff3f" d="M418 115.5h4v4h-4zM530 151.5h4v4h-4z"/><path fill="#00ff30" d="M422 115.5h4v4h-4zM494 139.5h4v4h-4zM534 151.5h4v4h-4z"/><path fill="#00ff24" d="M426 115.5h4v4h-4zM498 139.5h4v4h-4zM538 151.5h4v4h-4z"/><path fill="#00ff18" d="M430 115.5h4v4h-4zM542 151.5h4v4h-4z"/><path fill="#00ff0c" d="M434 115.5h4v4h-4zM518 143.5h4v4h-4zM546 151.5h4v4h-4z"/><path fill="#1bff00" d="M446 115.5h4v4h-4zM530 143.5h4v4h-4z"/><path fill="#27ff00" d="M450 115.5h4v4h-4zM534 143.5h4v4h-4z"/><path fill="#72ff00" d="M474 115.5h4v4h-4z"/><path fill="#00ffae" d="M394 119.5h4v4h-4zM406 123.5h4v4h-4zM418 127.5h4v4h-4zM430 131.5h4v4h-4zM482 147.5h4v4h-4zM510 155.5h4v4h-4z"/><path fill="#00ffa2" d="M398 119.5h4v4h-4zM410 123.5h4v4h-4zM434 131.5h4v4h-4zM446 135.5h4v4h-4zM486 147.5h4v4h-4zM514 155.5h4v4h-4z"/><path fill="#00ff96" d="M402 119.5h4v4h-4zM450 135.5h4v4h-4z"/><path fill="#00ff87" d="M406 119.5h4v4h-4zM418 123.5h4v4h-4zM430 127.5h4v4h-4zM442 131.5h4v4h-4zM454 135.5h4v4h-4zM494 147.5h4v4h-4zM522 155.5h4v4h-4z"/><path fill="#00ff7b" d="M410 119.5h4v4h-4zM422 123.5h4v4h-4zM446 131.5h4v4h-4zM458 135.5h4v4h-4zM498 147.5h4v4h-4zM526 155.5h4v4h-4z"/><path fill="#00ff6f" d="M414 119.5h4v4h-4zM462 135.5h4v4h-4z"/><path fill="#00ff54" d="M422 119.5h4v4h-4zM434 123.5h4v4h-4zM458 131.5h4v4h-4zM470 135.5h4v4h-4z"/><path fill="#00ff3c" d="M430 119.5h4v4h-4zM490 139.5h4v4h-4z"/><path fill="#00ffd5" d="M394 123.5h4v4h-4zM406 127.5h4v4h-4zM418 131.5h4v4h-4zM470 147.5h4v4h-4zM498 155.5h4v4h-4z"/><path fill="#00ffc9" d="M398 123.5h4v4h-4zM410 127.5h4v4h-4zM422 131.5h4v4h-4zM434 135.5h4v4h-4zM474 147.5h4v4h-4zM502 155.5h4v4h-4z"/><path fill="#00ffba" d="M402 123.5h4v4h-4zM414 127.5h4v4h-4zM426 131.5h4v4h-4zM478 147.5h4v4h-4z"/><path fill="#00ff93" d="M414 123.5h4v4h-4zM426 127.5h4v4h-4zM438 131.5h4v4h-4zM490 147.5h4v4h-4zM518 155.5h4v4h-4z"/><path fill="#00ff6c" d="M426 123.5h4v4h-4zM438 127.5h4v4h-4zM450 131.5h4v4h-4zM502 147.5h4v4h-4zM530 155.5h4v4h-4z"/><path fill="#00ff60" d="M430 123.5h4v4h-4zM442 127.5h4v4h-4zM454 131.5h4v4h-4zM466 135.5h4v4h-4zM506 147.5h4v4h-4zM534 155.5h4v4h-4z"/><path fill="#00ff45" d="M438 123.5h4v4h-4zM450 127.5h4v4h-4zM462 131.5h4v4h-4zM514 147.5h4v4h-4zM542 155.5h4v4h-4z"/><path fill="#00ff1e" d="M450 123.5h4v4h-4zM462 127.5h4v4h-4zM474 131.5h4v4h-4zM526 147.5h4v4h-4z"/><path fill="#00ff12" d="M454 123.5h4v4h-4zM466 127.5h4v4h-4zM478 131.5h4v4h-4zM530 147.5h4v4h-4z"/><path fill="#00ff06" d="M458 123.5h4v4h-4zM470 127.5h4v4h-4zM482 131.5h4v4h-4zM494 135.5h4v4h-4zM534 147.5h4v4h-4z"/><path fill="#00fffc" d="M394 127.5h4v4h-4zM406 131.5h4v4h-4z"/><path fill="#00fff0" d="M398 127.5h4v4h-4zM410 131.5h4v4h-4zM462 147.5h4v4h-4zM490 155.5h4v4h-4z"/><path fill="#00ffe1" d="M402 127.5h4v4h-4z"/><path fill="#00ff9f" d="M422 127.5h4v4h-4z"/><path fill="#00ff78" d="M434 127.5h4v4h-4z"/><path fill="#00ff51" d="M446 127.5h4v4h-4zM510 147.5h4v4h-4zM538 155.5h4v4h-4z"/><path fill="#00ff2a" d="M458 127.5h4v4h-4zM522 147.5h4v4h-4z"/><path fill="#00e1ff" d="M394 131.5h4v4h-4zM446 147.5h4v4h-4zM474 155.5h4v4h-4z"/><path fill="#00eaff" d="M398 131.5h4v4h-4zM410 135.5h4v4h-4zM450 147.5h4v4h-4zM478 155.5h4v4h-4z"/><path fill="#00f6ff" d="M402 131.5h4v4h-4zM414 135.5h4v4h-4zM454 147.5h4v4h-4zM482 155.5h4v4h-4z"/><path fill="#00ffe4" d="M414 131.5h4v4h-4zM426 135.5h4v4h-4zM466 147.5h4v4h-4zM494 155.5h4v4h-4z"/><path fill="#00c0ff" d="M394 135.5h4v4h-4zM434 147.5h4v4h-4zM462 155.5h4v4h-4z"/><path fill="#00c9ff" d="M398 135.5h4v4h-4zM410 139.5h4v4h-4z"/><path fill="#00d5ff" d="M402 135.5h4v4h-4zM442 147.5h4v4h-4zM470 155.5h4v4h-4z"/><path fill="#00deff" d="M406 135.5h4v4h-4zM418 139.5h4v4h-4z"/><path fill="#00ffff" d="M418 135.5h4v4h-4zM458 147.5h4v4h-4zM486 155.5h4v4h-4z"/><path fill="#00fff3" d="M422 135.5h4v4h-4z"/><path fill="#00ffd8" d="M430 135.5h4v4h-4z"/><path fill="#00ffbd" d="M438 135.5h4v4h-4zM506 155.5h4v4h-4z"/><path fill="#00ffb1" d="M442 135.5h4v4h-4zM454 139.5h4v4h-4z"/><path fill="#009cff" d="M394 139.5h4v4h-4zM434 151.5h4v4h-4z"/><path fill="#00a8ff" d="M398 139.5h4v4h-4z"/><path fill="#00b1ff" d="M402 139.5h4v4h-4zM442 151.5h4v4h-4z"/><path fill="#00bdff" d="M406 139.5h4v4h-4z"/><path fill="#00d2ff" d="M414 139.5h4v4h-4zM454 151.5h4v4h-4z"/><path fill="#00e7ff" d="M422 139.5h4v4h-4zM462 151.5h4v4h-4z"/><path fill="#00f3ff" d="M426 139.5h4v4h-4z"/><path fill="#00fcff" d="M430 139.5h4v4h-4zM470 151.5h4v4h-4z"/><path fill="#00fff6" d="M434 139.5h4v4h-4zM474 151.5h4v4h-4z"/><path fill="#00ffe7" d="M438 139.5h4v4h-4z"/><path fill="#00ffdb" d="M442 139.5h4v4h-4zM482 151.5h4v4h-4z"/><path fill="#00ffcc" d="M446 139.5h4v4h-4z"/><path fill="#00ffc0" d="M450 139.5h4v4h-4z"/><path fill="#00ffa5" d="M458 139.5h4v4h-4z"/><path fill="#00ff99" d="M462 139.5h4v4h-4zM502 151.5h4v4h-4z"/><path fill="#0078ff" d="M394 143.5h4v4h-4z"/><path fill="#0084ff" d="M398 143.5h4v4h-4zM426 151.5h4v4h-4z"/><path fill="#0090ff" d="M402 143.5h4v4h-4zM430 151.5h4v4h-4z"/><path fill="#0099ff" d="M406 143.5h4v4h-4z"/><path fill="#00a5ff" d="M410 143.5h4v4h-4zM438 151.5h4v4h-4z"/><path fill="#00aeff" d="M414 143.5h4v4h-4z"/><path fill="#00baff" d="M418 143.5h4v4h-4zM446 151.5h4v4h-4z"/><path fill="#00c3ff" d="M422 143.5h4v4h-4z"/><path fill="#00cfff" d="M426 143.5h4v4h-4z"/><path fill="#00dbff" d="M430 143.5h4v4h-4zM458 151.5h4v4h-4z"/><path fill="#00e4ff" d="M434 143.5h4v4h-4z"/><path fill="#00f0ff" d="M438 143.5h4v4h-4zM466 151.5h4v4h-4z"/><path fill="#00f9ff" d="M442 143.5h4v4h-4z"/><path fill="#00fff9" d="M446 143.5h4v4h-4z"/><path fill="#00ffea" d="M450 143.5h4v4h-4zM478 151.5h4v4h-4z"/><path fill="#00ffde" d="M454 143.5h4v4h-4z"/><path fill="#00ffd2" d="M458 143.5h4v4h-4z"/><path fill="#00ffc3" d="M462 143.5h4v4h-4zM490 151.5h4v4h-4z"/><path fill="#00ffb7" d="M466 143.5h4v4h-4z"/><path fill="#00ffa8" d="M470 143.5h4v4h-4zM498 151.5h4v4h-4z"/><path fill="#00ff9c" d="M474 143.5h4v4h-4z"/><path fill="#00ff90" d="M478 143.5h4v4h-4z"/><path fill="#00ff81" d="M482 143.5h4v4h-4zM510 151.5h4v4h-4z"/><path fill="#00ff75" d="M486 143.5h4v4h-4z"/><path fill="#00ff5a" d="M494 143.5h4v4h-4z"/><path fill="#00ff33" d="M506 143.5h4v4h-4z"/><path fill="#33ff00" d="M538 143.5h4v4h-4z"/><path fill="#3fff00" d="M542 143.5h4v4h-4z"/><path fill="#0054ff" d="M394 147.5h4v4h-4zM422 155.5h4v4h-4z"/><path fill="#0060ff" d="M398 147.5h4v4h-4zM426 155.5h4v4h-4z"/><path fill="#0069ff" d="M402 147.5h4v4h-4zM430 155.5h4v4h-4z"/><path fill="#0075ff" d="M406 147.5h4v4h-4zM434 155.5h4v4h-4z"/><path fill="#0081ff" d="M410 147.5h4v4h-4z"/><path fill="#008aff" d="M414 147.5h4v4h-4zM442 155.5h4v4h-4z"/><path fill="#0096ff" d="M418 147.5h4v4h-4zM446 155.5h4v4h-4z"/><path fill="#009fff" d="M422 147.5h4v4h-4zM450 155.5h4v4h-4z"/><path fill="#00abff" d="M426 147.5h4v4h-4zM454 155.5h4v4h-4z"/><path fill="#00b7ff" d="M430 147.5h4v4h-4z"/><path fill="#00ccff" d="M438 147.5h4v4h-4zM466 155.5h4v4h-4z"/><path fill="#002dff" d="M394 151.5h4v4h-4z"/><path fill="#0039ff" d="M398 151.5h4v4h-4z"/><path fill="#0045ff" d="M402 151.5h4v4h-4z"/><path fill="#004eff" d="M406 151.5h4v4h-4z"/><path fill="#005aff" d="M410 151.5h4v4h-4z"/><path fill="#0066ff" d="M414 151.5h4v4h-4z"/><path fill="#006fff" d="M418 151.5h4v4h-4z"/><path fill="#007bff" d="M422 151.5h4v4h-4z"/><path fill="#00c6ff" d="M450 151.5h4v4h-4z"/><path fill="#00ffcf" d="M486 151.5h4v4h-4z"/><path fill="#00ffb4" d="M494 151.5h4v4h-4z"/><path fill="#00ff8d" d="M506 151.5h4v4h-4z"/><path fill="#00ff66" d="M518 151.5h4v4h-4z"/><path fill="#0006ff" d="M394 155.5h4v4h-4z"/><path fill="#0012ff" d="M398 155.5h4v4h-4z"/><path fill="#001eff" d="M402 155.5h4v4h-4z"/><path fill="#0027ff" d="M406 155.5h4v4h-4z"/><path fill="#0033ff" d="M410 155.5h4v4h-4z"/><path fill="#003fff" d="M414 155.5h4v4h-4z"/><path fill="#0048ff" d="M418 155.5h4v4h-4z"/><path fill="#007eff" d="M438 155.5h4v4h-4z"/><path fill="#00b4ff" d="M458 155.5h4v4h-4z"/></g></g>
<path d="M402 139.15 404.07 139.79 406.14 140.43 408.21 141.06 410.28 141.7 412.53 142.38 414.82 143.07 417.11 143.77 419.25 144.41 421.32 145.03 423.39 145.65 425.46 146.27 427.53 146.88 429.6 147.49 431.67 148.1 433.74 148.71 435.81 149.31 438.18 150M402 116.48 404.07 117.24 406.14 118 408.21 118.75 410.28 119.5 412.3 120.22 414.24 120.92 416.19 121.61 418.15 122.3 420.12 122.99 422.1 123.69 424.09 124.38 426.15 125.09 428.22 125.8 430.29 126.51 432.36 127.21 434.43 127.92 436.5 128.61 438.57 129.31 440.64 130 442.71 130.69 444.78 131.37 446.85 132.05 448.92 132.73 450.99 133.4 453.06 134.07 455.2 134.76 457.36 135.46 459.53 136.15 461.7 136.84 463.89 137.54 466.09 138.23 468.24 138.9 470.31 139.55 472.38 140.19 474.45 140.83 476.52 141.47 478.59 142.11 480.66 142.74 482.73 143.37 484.8 144 486.87 144.63 488.94 145.25 491.01 145.87 493.25 146.54 495.58 147.23 497.91 147.92 499.98 148.53 502.05 149.14 504.12 149.74 504.99 150M402 86.39 404.07 87.43 405.94 88.37 407.52 89.15 409.59 90.16 411.61 91.14 413.05 91.83 415.11 92.8 417.18 93.78 418.95 94.6 420.63 95.37 422.7 96.32 424.77 97.25 426.58 98.06 428.22 98.79 430.29 99.7 432.36 100.6 434.43 101.5 436.11 102.22 437.88 102.97 439.95 103.84 442.02 104.71 444.09 105.57 446.04 106.37 447.73 107.06 449.61 107.83 451.68 108.66 453.75 109.49 455.82 110.31 457.89 111.12 459.9 111.91 461.69 112.61 463.48 113.3 465.48 114.06 467.55 114.85 469.62 115.64 471.69 116.42 473.76 117.19 475.83 117.96 477.9 118.72 479.97 119.48 482.01 120.22 483.93 120.92 485.85 121.61 487.78 122.3 489.73 122.99 491.7 123.69 493.77 124.42 495.84 125.14 497.91 125.86 499.98 126.58 502.05 127.29 504.12 128 506.19 128.71 508.26 129.41 510.33 130.1 512.4 130.8 514.47 131.49 516.54 132.17 518.61 132.86 520.68 133.54 522.75 134.21 524.82 134.89 526.89 135.56 528.96 136.23 531.03 136.89 533.1 137.55 535.23 138.23 537.42 138.92 539.62 139.61 540 139.73M413.35 11.5 412.68 13.58 412.18 15.66 411.75 18.42 411.6 20.5 411.64 23.27 411.84 25.35 412.33 28.12 412.86 30.2 413.54 32.28 414.35 34.35 415.11 36.03 416.01 37.81 417.18 39.88 418.05 41.28 419.25 43.07 420.45 44.74 421.51 46.12 422.7 47.59 424.08 49.21 425.46 50.74 426.84 52.2 428.22 53.6 429.6 54.94 430.98 56.24 432.36 57.49 433.74 58.71 435.22 59.97 436.89 61.36 438.57 62.71 439.95 63.78 441.33 64.84 443.16 66.21 444.78 67.38 446.16 68.36 448.04 69.67 449.61 70.74 451.12 71.75 453.06 73.02 454.44 73.91 456.5 75.21 457.89 76.07 459.89 77.29 461.34 78.16 463.38 79.36 464.79 80.18 466.86 81.37 468.24 82.15 470.31 83.3 471.98 84.21 473.76 85.18 475.83 86.28 477.21 87.01 479.28 88.09 481.17 89.06 482.73 89.85 484.8 90.89 486.69 91.83 488.25 92.59 490.32 93.6 492.39 94.59 493.86 95.29 495.84 96.22 497.91 97.18 499.82 98.06 501.36 98.77 503.43 99.7 505.5 100.63 507.52 101.52 509.09 102.22 511.02 103.06 513.09 103.95 515.16 104.84 517.15 105.68 518.79 106.37 520.68 107.16 522.75 108.02 524.82 108.87 526.89 109.71 528.91 110.53 530.63 111.22 532.41 111.93 534.48 112.75 536.55 113.56 538.62 114.37 540 114.9M500.94 11.5 499.98 13.26 499.16 14.96 498.32 17.04 497.64 19.12 497.13 21.19 496.69 23.96 496.53 26.73 496.65 29.5 497.04 32.28 497.5 34.35 498.11 36.43 498.87 38.51 499.77 40.58 500.67 42.4 501.58 44.05 502.74 45.95 503.77 47.51 504.81 48.96 506.19 50.77 507.48 52.36 508.67 53.74 509.92 55.13 511.23 56.51 512.6 57.9 514.02 59.28 515.5 60.67 517.04 62.05 518.61 63.42 519.99 64.58 521.37 65.71 522.86 66.9 524.65 68.28 526.2 69.45 527.58 70.47 529.35 71.75 531.03 72.92 532.41 73.87 534.4 75.21 535.86 76.17 537.58 77.29 539.31 78.38 540 78.81" fill="none" stroke="#000" stroke-opacity="0.62" stroke-width="0.9" stroke-linejoin="round" clip-path="url(#c3)"/>
<rect x="402" y="11.5" width="138" height="138.5" fill="none" stroke="#3a3020" stroke-opacity="0.75" stroke-width="0.6"/>
<text x="402" y="160" font-size="4.9" text-anchor="middle">50.00</text>
<text x="429.6" y="160" font-size="4.9" text-anchor="middle">52.00</text>
<text x="457.2" y="160" font-size="4.9" text-anchor="middle">54.00</text>
<text x="484.8" y="160" font-size="4.9" text-anchor="middle">56.00</text>
<text x="512.4" y="160" font-size="4.9" text-anchor="middle">58.00</text>
<text x="540" y="160" font-size="4.9" text-anchor="middle">60.00</text>
<text x="471" y="169.5" font-size="5.19" text-anchor="middle">A: Temperature（℃）</text>
<text x="397" y="151.76" font-size="4.9" text-anchor="end">0.40</text>
<text x="397" y="117.14" font-size="4.9" text-anchor="end">0.50</text>
<text x="397" y="82.51" font-size="4.9" text-anchor="end">0.60</text>
<text x="397" y="47.89" font-size="4.9" text-anchor="end">0.70</text>
<text x="397" y="13.26" font-size="4.9" text-anchor="end">0.80</text>
<path d="M402 150v3M429.6 150v3M457.2 150v3M484.8 150v3M512.4 150v3M540 150v3M402 150h-3.5M402 115.38h-3.5M402 80.75h-3.5M402 46.12h-3.5M402 11.5h-3.5" stroke="#444" stroke-width="0.5" fill="none"/>
<text transform="translate(381.5 81.25) rotate(-90)" font-size="5.19" text-anchor="middle">D: Enzyme concentration (%)</text>
<text x="471" y="8.7" font-size="5.63" text-anchor="middle">Yield(mg/g)</text>
<circle cx="402" cy="11.5" r="1.6" fill="#860a14"/>
<circle cx="540" cy="11.5" r="1.6" fill="#860a14"/>
<circle cx="402" cy="150" r="1.6" fill="#860a14"/>
<circle cx="540" cy="150" r="1.6" fill="#860a14"/>
<circle cx="471" cy="80.75" r="1.6" fill="#860a14"/>
<text x="468.2" y="82.55" font-size="5" text-anchor="end" fill="#4a2c2c">5</text>
<rect x="455" y="71.2" width="7.2" height="7.2" fill="#fbfbff" stroke="#55553c" stroke-width="0.6"/><text x="458.6" y="76.65" font-size="5.1" text-anchor="middle" fill="#3c3c6a">68</text>
<rect x="503" y="46.6" width="7.2" height="7.2" fill="#fbfbff" stroke="#55553c" stroke-width="0.6"/><text x="506.6" y="52.05" font-size="5.1" text-anchor="middle" fill="#3c3c6a">70</text>
<rect x="463.5" y="108.4" width="7.2" height="7.2" fill="#fbfbff" stroke="#55553c" stroke-width="0.6"/><text x="467.1" y="113.85" font-size="5.1" text-anchor="middle" fill="#3c3c6a">66</text>
<rect x="447.8" y="126.4" width="7.2" height="7.2" fill="#fbfbff" stroke="#55553c" stroke-width="0.6"/><text x="451.4" y="131.85" font-size="5.1" text-anchor="middle" fill="#3c3c6a">64</text>
<rect x="415.3" y="137.1" width="7.2" height="7.2" fill="#fbfbff" stroke="#55553c" stroke-width="0.6"/><text x="418.9" y="142.55" font-size="5.1" text-anchor="middle" fill="#3c3c6a">62</text>
<g clip-path="url(#c4)"><g filter="url(#bl)" shape-rendering="crispEdges"><path fill="#00ff9f" d="M21.5 177h4v4h-4z"/><path fill="#00ff81" d="M25.5 177h4v4h-4z"/><path fill="#00ff63" d="M29.5 177h4v4h-4zM29.5 313h4v4h-4zM45.5 329h4v4h-4z"/><path fill="#00ff48" d="M33.5 177h4v4h-4zM21.5 197h4v4h-4zM33.5 313h4v4h-4zM37.5 317h4v4h-4zM41.5 321h4v4h-4zM45.5 325h4v4h-4zM169.5 329h4v4h-4z"/><path fill="#00ff2d" d="M37.5 177h4v4h-4zM29.5 189h4v4h-4zM169.5 325h4v4h-4zM57.5 329h4v4h-4z"/><path fill="#00ff12" d="M41.5 177h4v4h-4zM33.5 189h4v4h-4zM25.5 205h4v4h-4zM33.5 301h4v4h-4zM169.5 321h4v4h-4zM57.5 325h4v4h-4z"/><path fill="#06ff00" d="M45.5 177h4v4h-4zM25.5 213h4v4h-4zM21.5 261h4v4h-4zM25.5 277h4v4h-4zM37.5 301h4v4h-4zM57.5 321h4v4h-4zM157.5 325h4v4h-4zM137.5 333h4v4h-4z"/><path fill="#1eff00" d="M49.5 177h4v4h-4zM25.5 265h4v4h-4zM45.5 305h4v4h-4zM53.5 313h4v4h-4zM157.5 321h4v4h-4zM149.5 325h4v4h-4zM81.5 329h4v4h-4zM97.5 333h4v4h-4zM121.5 333h4v4h-4z"/><path fill="#33ff00" d="M53.5 177h4v4h-4zM41.5 193h4v4h-4zM33.5 209h4v4h-4zM29.5 221h4v4h-4zM29.5 269h4v4h-4zM33.5 281h4v4h-4zM37.5 289h4v4h-4zM49.5 305h4v4h-4zM53.5 309h4v4h-4zM165.5 313h4v4h-4zM141.5 325h4v4h-4zM93.5 329h4v4h-4z"/><path fill="#48ff00" d="M57.5 177h4v4h-4zM53.5 181h4v4h-4zM29.5 241h4v4h-4zM29.5 245h4v4h-4zM29.5 249h4v4h-4zM41.5 289h4v4h-4zM165.5 309h4v4h-4zM69.5 317h4v4h-4zM77.5 321h4v4h-4zM89.5 325h4v4h-4z"/><path fill="#5dff00" d="M61.5 177h4v4h-4zM33.5 233h4v4h-4zM33.5 257h4v4h-4zM37.5 273h4v4h-4zM45.5 289h4v4h-4zM69.5 313h4v4h-4zM153.5 313h4v4h-4zM77.5 317h4v4h-4zM145.5 317h4v4h-4z"/><path fill="#6fff00" d="M65.5 177h4v4h-4zM61.5 181h4v4h-4zM49.5 197h4v4h-4zM41.5 213h4v4h-4zM161.5 305h4v4h-4zM85.5 317h4v4h-4zM137.5 317h4v4h-4zM101.5 321h4v4h-4zM117.5 321h8v4h-8z"/><path fill="#81ff00" d="M69.5 177h4v4h-4zM65.5 181h4v4h-4zM61.5 185h4v4h-4zM45.5 277h4v4h-4zM149.5 309h4v4h-4zM125.5 317h4v4h-4z"/><path fill="#90ff00" d="M73.5 177h4v4h-4zM61.5 189h4v4h-4zM45.5 217h4v4h-4zM41.5 237h4v4h-4zM41.5 253h4v4h-4zM157.5 301h4v4h-4zM73.5 305h4v4h-4zM133.5 313h4v4h-4z"/><path fill="#9fff00" d="M77.5 177h4v4h-4zM61.5 193h4v4h-4zM53.5 205h4v4h-4zM49.5 213h4v4h-4zM45.5 261h4v4h-4zM49.5 273h4v4h-4zM53.5 281h4v4h-4zM153.5 301h4v4h-4zM137.5 309h4v4h-4zM105.5 313h4v4h-4zM117.5 313h4v4h-4z"/><path fill="#aeff00" d="M81.5 177h4v4h-4zM165.5 177h4v4h-4zM177.5 189h4v4h-4zM61.5 197h4v4h-4zM49.5 221h4v4h-4zM49.5 265h4v4h-4zM77.5 301h4v4h-4zM85.5 305h4v4h-4zM97.5 309h4v4h-4zM125.5 309h4v4h-4z"/><path fill="#baff00" d="M85.5 177h4v4h-4zM161.5 177h4v4h-4zM177.5 193h4v4h-4zM61.5 201h4v4h-4zM53.5 217h4v4h-4zM49.5 233h4v4h-4zM53.5 269h4v4h-4zM57.5 277h4v4h-4zM169.5 281h4v4h-4zM165.5 285h4v4h-4zM161.5 289h4v4h-4zM81.5 301h4v4h-4zM133.5 305h4v4h-4z"/><path fill="#c3ff00" d="M89.5 177h4v4h-4zM77.5 185h4v4h-4zM73.5 189h4v4h-4zM69.5 193h4v4h-4zM177.5 197h4v4h-4zM53.5 221h4v4h-4zM53.5 265h4v4h-4zM173.5 273h4v4h-4zM73.5 293h4v4h-4zM153.5 293h4v4h-4zM85.5 301h4v4h-4zM97.5 305h4v4h-4zM125.5 305h4v4h-4z"/><path fill="#cfff00" d="M93.5 177h4v4h-4zM153.5 177h4v4h-4zM81.5 185h4v4h-4zM69.5 197h4v4h-4zM177.5 201h4v4h-4zM61.5 209h4v4h-4zM57.5 217h4v4h-4zM53.5 233h4v4h-4zM53.5 253h4v4h-4zM177.5 261h4v4h-4zM173.5 269h4v4h-4zM77.5 293h4v4h-4zM149.5 293h4v4h-4zM93.5 301h4v4h-4zM133.5 301h4v4h-4z"/><path fill="#d8ff00" d="M97.5 177h4v4h-4zM149.5 177h4v4h-4zM169.5 193h4v4h-4zM65.5 205h4v4h-4zM61.5 213h4v4h-4zM177.5 257h4v4h-4zM173.5 265h4v4h-4zM165.5 277h4v4h-4zM161.5 281h4v4h-4zM157.5 285h4v4h-4zM101.5 301h4v4h-4zM125.5 301h4v4h-4z"/><path fill="#deff00" d="M101.5 177h4v4h-4zM145.5 177h4v4h-4zM81.5 189h4v4h-4zM69.5 201h4v4h-4zM173.5 201h4v4h-4zM177.5 209h4v4h-4zM177.5 253h4v4h-4zM57.5 257h4v4h-4zM61.5 269h4v4h-4zM169.5 269h4v4h-4zM69.5 281h4v4h-4zM77.5 289h4v4h-4zM109.5 301h12v4h-12z"/><path fill="#e4ff00" d="M105.5 177h4v4h-4zM141.5 177h4v4h-4zM157.5 185h4v4h-4zM169.5 197h4v4h-4zM177.5 213h4v4h-4zM57.5 233h4v4h-4zM57.5 249h4v4h-4zM177.5 249h4v4h-4zM57.5 253h4v4h-4zM165.5 273h4v4h-4zM153.5 285h4v4h-4zM85.5 293h4v4h-4zM141.5 293h4v4h-4z"/><path fill="#eaff00" d="M109.5 177h4v4h-4zM137.5 177h4v4h-4zM85.5 189h4v4h-4zM65.5 213h4v4h-4zM177.5 245h4v4h-4zM173.5 257h4v4h-4zM169.5 265h4v4h-4zM69.5 277h4v4h-4zM81.5 289h4v4h-4zM145.5 289h4v4h-4zM89.5 293h4v4h-4zM137.5 293h4v4h-4zM101.5 297h4v4h-4zM125.5 297h4v4h-4z"/><path fill="#edff00" d="M113.5 177h4v4h-4zM133.5 177h4v4h-4zM81.5 193h4v4h-4zM77.5 197h4v4h-4zM73.5 201h4v4h-4zM169.5 201h4v4h-4zM173.5 209h4v4h-4zM177.5 221h4v4h-4zM61.5 225h4v4h-4zM177.5 225h4v4h-4zM177.5 241h4v4h-4zM61.5 261h4v4h-4zM65.5 269h4v4h-4zM73.5 281h4v4h-4zM77.5 285h4v4h-4zM105.5 297h4v4h-4zM121.5 297h4v4h-4z"/><path fill="#f0ff00" d="M117.5 177h16v4h-16zM101.5 181h4v4h-4zM145.5 181h4v4h-4zM93.5 185h4v4h-4zM153.5 185h4v4h-4zM177.5 229h4v4h-4zM177.5 233h4v4h-4zM177.5 237h4v4h-4zM173.5 253h4v4h-4zM61.5 257h4v4h-4zM165.5 269h4v4h-4zM149.5 285h4v4h-4zM109.5 297h12v4h-12z"/><path fill="#c6ff00" d="M157.5 177h4v4h-4zM61.5 205h4v4h-4zM57.5 213h4v4h-4zM177.5 265h4v4h-4zM57.5 273h4v4h-4zM169.5 277h4v4h-4zM65.5 285h4v4h-4zM69.5 289h4v4h-4zM137.5 301h4v4h-4zM101.5 305h4v4h-4z"/><path fill="#a2ff00" d="M169.5 177h4v4h-4zM73.5 181h4v4h-4zM173.5 181h4v4h-4zM177.5 185h4v4h-4zM65.5 189h4v4h-4zM45.5 229h4v4h-4zM45.5 257h4v4h-4zM177.5 277h4v4h-4zM73.5 301h4v4h-4zM145.5 305h4v4h-4zM89.5 309h4v4h-4zM109.5 313h8v4h-8z"/><path fill="#93ff00" d="M173.5 177h4v4h-4zM69.5 181h4v4h-4zM177.5 181h4v4h-4zM65.5 185h4v4h-4zM53.5 201h4v4h-4zM49.5 209h4v4h-4zM41.5 241h4v4h-4zM41.5 245h4v4h-4zM41.5 249h4v4h-4zM45.5 269h4v4h-4zM53.5 285h4v4h-4zM81.5 309h4v4h-4zM93.5 313h4v4h-4z"/><path fill="#84ff00" d="M177.5 177h4v4h-4zM41.5 265h4v4h-4zM161.5 301h4v4h-4zM69.5 305h4v4h-4zM97.5 317h4v4h-4z"/><path fill="#00ff8d" d="M21.5 181h4v4h-4zM29.5 321h4v4h-4zM37.5 329h4v4h-4zM177.5 333h4v4h-4z"/><path fill="#00ff6f" d="M25.5 181h4v4h-4zM177.5 329h4v4h-4z"/><path fill="#00ff51" d="M29.5 181h4v4h-4zM21.5 297h4v4h-4z"/><path fill="#00ff33" d="M33.5 181h4v4h-4zM37.5 313h4v4h-4zM45.5 321h4v4h-4zM157.5 333h4v4h-4z"/><path fill="#00ff18" d="M37.5 181h4v4h-4zM21.5 213h4v4h-4zM157.5 329h4v4h-4zM149.5 333h4v4h-4z"/><path fill="#00ff00" d="M41.5 181h4v4h-4zM33.5 193h4v4h-4zM29.5 201h4v4h-4zM21.5 225h4v4h-4zM21.5 265h4v4h-4zM29.5 289h4v4h-4zM165.5 321h4v4h-4zM69.5 329h4v4h-4z"/><path fill="#18ff00" d="M45.5 181h4v4h-4zM29.5 209h4v4h-4zM25.5 269h4v4h-4zM29.5 281h4v4h-4zM69.5 325h4v4h-4zM141.5 329h4v4h-4zM93.5 333h4v4h-4z"/><path fill="#30ff00" d="M49.5 181h4v4h-4zM45.5 301h4v4h-4zM57.5 313h4v4h-4zM69.5 321h4v4h-4zM77.5 325h4v4h-4zM129.5 329h4v4h-4z"/><path fill="#5aff00" d="M57.5 181h4v4h-4zM45.5 197h4v4h-4zM41.5 205h4v4h-4zM33.5 229h4v4h-4zM161.5 309h4v4h-4zM85.5 321h4v4h-4zM109.5 325h8v4h-8z"/><path fill="#b1ff00" d="M77.5 181h4v4h-4zM169.5 181h4v4h-4zM173.5 185h4v4h-4zM65.5 193h4v4h-4zM53.5 273h4v4h-4zM177.5 273h4v4h-4zM57.5 281h4v4h-4zM153.5 297h4v4h-4zM101.5 309h4v4h-4z"/><path fill="#c0ff00" d="M81.5 181h4v4h-4zM165.5 181h4v4h-4zM169.5 185h4v4h-4zM65.5 197h4v4h-4zM49.5 241h4v4h-4zM49.5 245h4v4h-4zM61.5 281h4v4h-4zM77.5 297h4v4h-4zM141.5 301h4v4h-4zM129.5 305h4v4h-4z"/><path fill="#ccff00" d="M85.5 181h4v4h-4zM161.5 181h4v4h-4zM165.5 185h4v4h-4zM169.5 189h4v4h-4zM65.5 201h4v4h-4zM53.5 229h4v4h-4zM53.5 257h4v4h-4zM57.5 269h4v4h-4zM61.5 277h4v4h-4zM109.5 305h8v4h-8z"/><path fill="#d5ff00" d="M89.5 181h4v4h-4zM157.5 181h4v4h-4zM173.5 197h4v4h-4zM177.5 205h4v4h-4zM57.5 221h4v4h-4zM53.5 241h4v4h-4zM53.5 245h4v4h-4zM57.5 265h4v4h-4zM61.5 273h4v4h-4zM169.5 273h4v4h-4zM153.5 289h4v4h-4zM97.5 301h4v4h-4z"/><path fill="#e1ff00" d="M93.5 181h4v4h-4zM153.5 181h4v4h-4zM77.5 193h4v4h-4zM73.5 197h4v4h-4zM65.5 209h4v4h-4zM61.5 217h4v4h-4zM57.5 229h4v4h-4zM173.5 261h4v4h-4zM73.5 285h4v4h-4zM149.5 289h4v4h-4zM93.5 297h4v4h-4zM133.5 297h4v4h-4z"/><path fill="#e7ff00" d="M97.5 181h4v4h-4zM149.5 181h4v4h-4zM89.5 185h4v4h-4zM161.5 189h4v4h-4zM165.5 193h4v4h-4zM69.5 205h4v4h-4zM173.5 205h4v4h-4zM177.5 217h4v4h-4zM61.5 221h4v4h-4zM57.5 237h4v4h-4zM57.5 241h4v4h-4zM57.5 245h4v4h-4zM61.5 265h4v4h-4zM65.5 273h4v4h-4zM161.5 277h4v4h-4zM157.5 281h4v4h-4zM97.5 297h4v4h-4zM129.5 297h4v4h-4z"/><path fill="#f6ff00" d="M105.5 181h4v4h-4zM141.5 181h4v4h-4zM149.5 185h4v4h-4zM89.5 189h4v4h-4zM73.5 205h4v4h-4zM169.5 205h4v4h-4zM61.5 233h4v4h-4zM61.5 249h4v4h-4zM173.5 249h4v4h-4zM65.5 265h4v4h-4zM81.5 285h4v4h-4zM97.5 293h4v4h-4zM129.5 293h4v4h-4z"/><path fill="#fcff00" d="M109.5 181h4v4h-4zM137.5 181h4v4h-4zM153.5 189h4v4h-4zM81.5 197h4v4h-4zM165.5 201h4v4h-4zM69.5 213h4v4h-4zM173.5 221h4v4h-4zM173.5 245h4v4h-4zM169.5 257h4v4h-4zM65.5 261h4v4h-4zM69.5 269h4v4h-4zM137.5 289h4v4h-4zM101.5 293h4v4h-4zM125.5 293h4v4h-4z"/><path fill="#ffff00" d="M113.5 181h4v4h-4zM133.5 181h4v4h-4zM101.5 185h4v4h-4zM145.5 185h4v4h-4zM93.5 189h4v4h-4zM157.5 193h4v4h-4zM161.5 197h4v4h-4zM169.5 209h4v4h-4zM65.5 225h4v4h-4zM173.5 225h4v4h-4zM173.5 237h4v4h-4zM173.5 241h4v4h-4zM161.5 269h4v4h-4zM157.5 273h4v4h-4zM153.5 277h4v4h-4zM149.5 281h4v4h-4zM85.5 285h4v4h-4zM105.5 293h4v4h-4zM121.5 293h4v4h-4z"/><path fill="#fffc00" d="M117.5 181h16v4h-16zM73.5 209h4v4h-4zM69.5 217h4v4h-4zM173.5 229h4v4h-4zM173.5 233h4v4h-4zM169.5 253h4v4h-4zM65.5 257h4v4h-4zM165.5 261h4v4h-4zM73.5 273h4v4h-4zM81.5 281h4v4h-4zM141.5 285h4v4h-4zM93.5 289h4v4h-4zM133.5 289h4v4h-4zM109.5 293h12v4h-12z"/><path fill="#00ff7b" d="M21.5 185h4v4h-4zM25.5 313h4v4h-4zM45.5 333h4v4h-4z"/><path fill="#00ff5a" d="M25.5 185h4v4h-4zM173.5 329h4v4h-4z"/><path fill="#00ff3f" d="M29.5 185h4v4h-4zM173.5 325h4v4h-4z"/><path fill="#00ff21" d="M33.5 185h4v4h-4z"/><path fill="#00ff06" d="M37.5 185h4v4h-4zM25.5 209h4v4h-4zM21.5 269h4v4h-4zM45.5 313h4v4h-4zM177.5 313h4v4h-4zM77.5 333h4v4h-4z"/><path fill="#12ff00" d="M41.5 185h4v4h-4zM177.5 309h4v4h-4zM153.5 325h4v4h-4zM89.5 333h4v4h-4z"/><path fill="#2aff00" d="M45.5 185h4v4h-4zM29.5 217h4v4h-4zM25.5 237h4v4h-4zM25.5 241h4v4h-4zM25.5 249h4v4h-4zM25.5 253h4v4h-4zM29.5 273h4v4h-4zM177.5 305h4v4h-4zM61.5 317h4v4h-4zM161.5 317h4v4h-4zM145.5 325h4v4h-4zM133.5 329h4v4h-4z"/><path fill="#42ff00" d="M49.5 185h4v4h-4zM41.5 197h4v4h-4zM37.5 205h4v4h-4zM29.5 233h4v4h-4zM29.5 257h4v4h-4zM45.5 297h4v4h-4zM161.5 313h4v4h-4zM85.5 325h4v4h-4z"/><path fill="#57ff00" d="M53.5 185h4v4h-4zM37.5 213h4v4h-4zM33.5 261h4v4h-4zM53.5 301h4v4h-4zM57.5 305h4v4h-4zM137.5 321h4v4h-4zM101.5 325h8v4h-8zM117.5 325h4v4h-4z"/><path fill="#6cff00" d="M57.5 185h4v4h-4zM37.5 225h4v4h-4zM37.5 265h4v4h-4zM41.5 277h4v4h-4zM45.5 285h4v4h-4zM97.5 321h4v4h-4z"/><path fill="#a5ff00" d="M69.5 185h4v4h-4zM49.5 217h4v4h-4zM45.5 233h4v4h-4zM57.5 285h4v4h-4zM157.5 297h4v4h-4zM81.5 305h4v4h-4zM133.5 309h4v4h-4z"/><path fill="#b4ff00" d="M73.5 185h4v4h-4zM69.5 189h4v4h-4zM57.5 205h4v4h-4zM53.5 213h4v4h-4zM49.5 225h4v4h-4zM49.5 261h4v4h-4zM61.5 285h4v4h-4zM73.5 297h4v4h-4zM145.5 301h4v4h-4zM137.5 305h4v4h-4zM105.5 309h4v4h-4zM117.5 309h8v4h-8z"/><path fill="#dbff00" d="M85.5 185h4v4h-4zM161.5 185h4v4h-4zM165.5 189h4v4h-4zM57.5 225h4v4h-4zM57.5 261h4v4h-4zM65.5 277h4v4h-4zM81.5 293h4v4h-4zM145.5 293h4v4h-4zM89.5 297h4v4h-4zM137.5 297h4v4h-4zM105.5 301h4v4h-4zM121.5 301h4v4h-4z"/><path fill="#f9ff00" d="M97.5 185h4v4h-4zM85.5 193h4v4h-4zM77.5 201h4v4h-4zM173.5 217h4v4h-4zM65.5 221h4v4h-4zM61.5 237h4v4h-4zM61.5 241h4v4h-4zM61.5 245h4v4h-4zM165.5 265h4v4h-4zM73.5 277h4v4h-4zM77.5 281h4v4h-4zM145.5 285h4v4h-4zM89.5 289h4v4h-4z"/><path fill="#fff900" d="M105.5 185h4v4h-4zM141.5 185h4v4h-4zM149.5 189h4v4h-4zM89.5 193h4v4h-4zM77.5 205h4v4h-4zM165.5 205h4v4h-4zM169.5 213h4v4h-4zM65.5 229h4v4h-4zM65.5 253h4v4h-4zM69.5 265h4v4h-4zM77.5 277h4v4h-4z"/><path fill="#fff300" d="M109.5 185h4v4h-4zM137.5 185h4v4h-4zM157.5 197h4v4h-4zM165.5 209h4v4h-4zM73.5 213h4v4h-4zM69.5 221h4v4h-4zM65.5 241h4v4h-4zM169.5 245h4v4h-4zM165.5 257h4v4h-4zM69.5 261h4v4h-4zM73.5 269h4v4h-4zM157.5 269h4v4h-4zM149.5 277h4v4h-4zM137.5 285h4v4h-4zM101.5 289h4v4h-4zM125.5 289h4v4h-4z"/><path fill="#fff000" d="M113.5 185h4v4h-4zM133.5 185h4v4h-4zM145.5 189h4v4h-4zM93.5 193h4v4h-4zM169.5 221h4v4h-4zM69.5 225h4v4h-4zM169.5 241h4v4h-4zM77.5 273h4v4h-4zM153.5 273h4v4h-4zM81.5 277h4v4h-4zM85.5 281h4v4h-4zM105.5 289h4v4h-4zM121.5 289h4v4h-4z"/><path fill="#ffed00" d="M117.5 185h16v4h-16zM101.5 189h4v4h-4zM149.5 193h4v4h-4zM89.5 197h4v4h-4zM161.5 205h4v4h-4zM77.5 209h4v4h-4zM73.5 217h4v4h-4zM169.5 225h4v4h-4zM169.5 229h4v4h-4zM169.5 233h4v4h-4zM169.5 237h4v4h-4zM165.5 253h4v4h-4zM69.5 257h4v4h-4zM161.5 261h4v4h-4zM141.5 281h4v4h-4zM93.5 285h4v4h-4zM133.5 285h4v4h-4zM109.5 289h12v4h-12z"/><path fill="#00ff69" d="M21.5 189h4v4h-4zM25.5 309h4v4h-4zM49.5 333h4v4h-4z"/><path fill="#00ff4b" d="M25.5 189h4v4h-4z"/><path fill="#09ff00" d="M37.5 189h4v4h-4zM21.5 233h4v4h-4zM21.5 257h4v4h-4zM41.5 305h4v4h-4zM53.5 317h4v4h-4zM169.5 317h4v4h-4z"/><path fill="#24ff00" d="M41.5 189h4v4h-4zM25.5 261h4v4h-4zM37.5 293h4v4h-4zM65.5 321h4v4h-4zM73.5 325h4v4h-4zM109.5 333h8v4h-8z"/><path fill="#3cff00" d="M45.5 189h4v4h-4zM33.5 213h4v4h-4zM33.5 277h4v4h-4zM41.5 293h4v4h-4zM173.5 305h4v4h-4zM73.5 321h4v4h-4zM137.5 325h4v4h-4zM101.5 329h4v4h-4zM117.5 329h4v4h-4z"/><path fill="#54ff00" d="M49.5 189h4v4h-4zM33.5 225h4v4h-4zM33.5 265h4v4h-4zM37.5 277h4v4h-4zM41.5 285h4v4h-4zM49.5 297h4v4h-4zM61.5 309h4v4h-4zM73.5 317h4v4h-4zM121.5 325h4v4h-4z"/><path fill="#69ff00" d="M53.5 189h4v4h-4zM53.5 297h4v4h-4zM57.5 301h4v4h-4zM61.5 305h4v4h-4zM73.5 313h4v4h-4zM149.5 313h4v4h-4zM81.5 317h4v4h-4zM125.5 321h4v4h-4z"/><path fill="#7eff00" d="M57.5 189h4v4h-4zM49.5 201h4v4h-4zM45.5 209h4v4h-4zM41.5 221h4v4h-4zM49.5 285h4v4h-4zM157.5 305h4v4h-4zM73.5 309h4v4h-4zM81.5 313h4v4h-4zM141.5 313h4v4h-4zM93.5 317h4v4h-4zM129.5 317h4v4h-4z"/><path fill="#d2ff00" d="M77.5 189h4v4h-4zM73.5 193h4v4h-4zM53.5 237h4v4h-4zM53.5 249h4v4h-4zM65.5 281h4v4h-4zM69.5 285h4v4h-4zM73.5 289h4v4h-4zM85.5 297h4v4h-4zM141.5 297h4v4h-4zM129.5 301h4v4h-4z"/><path fill="#fff600" d="M97.5 189h4v4h-4zM153.5 193h4v4h-4zM85.5 197h4v4h-4zM81.5 201h4v4h-4zM161.5 201h4v4h-4zM169.5 217h4v4h-4zM65.5 233h4v4h-4zM65.5 237h4v4h-4zM65.5 245h4v4h-4zM65.5 249h4v4h-4zM169.5 249h4v4h-4zM161.5 265h4v4h-4zM145.5 281h4v4h-4zM89.5 285h4v4h-4zM97.5 289h4v4h-4zM129.5 289h4v4h-4z"/><path fill="#ffe700" d="M105.5 189h4v4h-4zM97.5 193h4v4h-4zM165.5 217h4v4h-4zM69.5 233h4v4h-4zM69.5 249h4v4h-4zM165.5 249h4v4h-4zM157.5 265h4v4h-4zM77.5 269h4v4h-4zM153.5 269h4v4h-4zM149.5 273h4v4h-4zM145.5 277h4v4h-4zM89.5 281h4v4h-4zM97.5 285h4v4h-4zM129.5 285h4v4h-4z"/><path fill="#ffe400" d="M109.5 189h4v4h-4zM137.5 189h4v4h-4zM145.5 193h4v4h-4zM161.5 209h4v4h-4zM77.5 213h4v4h-4zM73.5 221h4v4h-4zM69.5 237h4v4h-4zM69.5 241h4v4h-4zM69.5 245h4v4h-4zM165.5 245h4v4h-4zM161.5 257h4v4h-4zM73.5 261h4v4h-4zM81.5 273h4v4h-4zM85.5 277h4v4h-4zM137.5 281h4v4h-4zM101.5 285h4v4h-4zM125.5 285h4v4h-4z"/><path fill="#ffe100" d="M113.5 189h4v4h-4zM133.5 189h4v4h-4zM101.5 193h4v4h-4zM93.5 197h4v4h-4zM149.5 197h4v4h-4zM89.5 201h4v4h-4zM157.5 205h4v4h-4zM81.5 209h4v4h-4zM165.5 221h4v4h-4zM73.5 225h4v4h-4zM165.5 241h4v4h-4zM93.5 281h4v4h-4zM105.5 285h4v4h-4zM121.5 285h4v4h-4z"/><path fill="#ffde00" d="M117.5 189h16v4h-16zM141.5 193h4v4h-4zM153.5 201h4v4h-4zM85.5 205h4v4h-4zM161.5 213h4v4h-4zM77.5 217h4v4h-4zM165.5 225h4v4h-4zM165.5 229h4v4h-4zM165.5 233h4v4h-4zM165.5 237h4v4h-4zM161.5 253h4v4h-4zM73.5 257h4v4h-4zM157.5 261h4v4h-4zM77.5 265h4v4h-4zM89.5 277h4v4h-4zM141.5 277h4v4h-4zM133.5 281h4v4h-4zM109.5 285h12v4h-12z"/><path fill="#ffea00" d="M141.5 189h4v4h-4zM153.5 197h4v4h-4zM85.5 201h4v4h-4zM157.5 201h4v4h-4zM81.5 205h4v4h-4zM165.5 213h4v4h-4zM69.5 229h4v4h-4zM69.5 253h4v4h-4zM73.5 265h4v4h-4z"/><path fill="#f3ff00" d="M157.5 189h4v4h-4zM161.5 193h4v4h-4zM165.5 197h4v4h-4zM69.5 209h4v4h-4zM173.5 213h4v4h-4zM65.5 217h4v4h-4zM61.5 229h4v4h-4zM61.5 253h4v4h-4zM169.5 261h4v4h-4zM69.5 273h4v4h-4zM161.5 273h4v4h-4zM157.5 277h4v4h-4zM153.5 281h4v4h-4zM85.5 289h4v4h-4zM141.5 289h4v4h-4zM93.5 293h4v4h-4zM133.5 293h4v4h-4z"/><path fill="#bdff00" d="M173.5 189h4v4h-4zM57.5 209h4v4h-4zM49.5 237h4v4h-4zM49.5 249h4v4h-4zM49.5 253h4v4h-4zM177.5 269h4v4h-4zM149.5 297h4v4h-4zM93.5 305h4v4h-4z"/><path fill="#00ff57" d="M21.5 193h4v4h-4zM25.5 305h4v4h-4zM53.5 333h4v4h-4z"/><path fill="#00ff39" d="M25.5 193h4v4h-4zM177.5 321h4v4h-4z"/><path fill="#00ff1e" d="M29.5 193h4v4h-4zM25.5 201h4v4h-4zM21.5 281h4v4h-4zM37.5 309h4v4h-4zM177.5 317h4v4h-4zM49.5 321h4v4h-4z"/><path fill="#1bff00" d="M37.5 193h4v4h-4zM33.5 201h4v4h-4zM25.5 225h4v4h-4zM33.5 289h4v4h-4zM41.5 301h4v4h-4zM57.5 317h4v4h-4zM165.5 317h4v4h-4zM125.5 333h4v4h-4z"/><path fill="#4bff00" d="M45.5 193h4v4h-4zM33.5 269h4v4h-4zM37.5 281h4v4h-4zM129.5 325h4v4h-4z"/><path fill="#63ff00" d="M49.5 193h4v4h-4zM33.5 245h4v4h-4zM49.5 293h4v4h-4zM177.5 293h4v4h-4zM169.5 301h4v4h-4zM65.5 309h4v4h-4z"/><path fill="#78ff00" d="M53.5 193h4v4h-4zM41.5 217h4v4h-4zM37.5 237h4v4h-4zM37.5 253h4v4h-4zM45.5 281h4v4h-4zM53.5 293h4v4h-4zM173.5 293h4v4h-4zM65.5 305h4v4h-4zM89.5 317h4v4h-4zM133.5 317h4v4h-4z"/><path fill="#8dff00" d="M57.5 193h4v4h-4zM41.5 233h4v4h-4zM41.5 257h4v4h-4zM145.5 309h4v4h-4zM89.5 313h4v4h-4z"/><path fill="#ffdb00" d="M105.5 193h4v4h-4zM97.5 197h4v4h-4zM73.5 229h4v4h-4zM73.5 253h4v4h-4zM153.5 265h4v4h-4zM81.5 269h4v4h-4zM149.5 269h4v4h-4zM85.5 273h4v4h-4zM145.5 273h4v4h-4zM97.5 281h4v4h-4z"/><path fill="#ffd500" d="M109.5 193h4v4h-4zM133.5 193h4v4h-4zM93.5 201h4v4h-4zM149.5 201h4v4h-4zM89.5 205h4v4h-4zM153.5 205h4v4h-4zM85.5 209h4v4h-4zM161.5 221h4v4h-4zM73.5 237h4v4h-4zM73.5 241h4v4h-4zM73.5 245h4v4h-4zM161.5 245h4v4h-4zM93.5 277h4v4h-4zM101.5 281h4v4h-4zM125.5 281h4v4h-4z"/><path fill="#ffd200" d="M113.5 193h4v4h-4zM129.5 193h4v4h-4zM101.5 197h4v4h-4zM141.5 197h4v4h-4zM157.5 213h4v4h-4zM81.5 217h4v4h-4zM77.5 225h4v4h-4zM161.5 225h4v4h-4zM161.5 241h4v4h-4zM157.5 253h4v4h-4zM77.5 257h4v4h-4zM153.5 261h4v4h-4zM81.5 265h4v4h-4zM149.5 265h4v4h-4zM85.5 269h4v4h-4zM145.5 269h4v4h-4zM89.5 273h4v4h-4zM141.5 273h4v4h-4zM133.5 277h4v4h-4zM105.5 281h8v4h-8zM121.5 281h4v4h-4z"/><path fill="#ffcf00" d="M117.5 193h12v4h-12zM97.5 201h4v4h-4zM153.5 209h4v4h-4zM77.5 229h4v4h-4zM161.5 229h4v4h-4zM161.5 233h4v4h-4zM161.5 237h4v4h-4zM77.5 253h4v4h-4zM97.5 277h4v4h-4zM113.5 281h8v4h-8z"/><path fill="#ffd800" d="M137.5 193h4v4h-4zM145.5 197h4v4h-4zM157.5 209h4v4h-4zM81.5 213h4v4h-4zM161.5 217h4v4h-4zM77.5 221h4v4h-4zM73.5 233h4v4h-4zM73.5 249h4v4h-4zM161.5 249h4v4h-4zM157.5 257h4v4h-4zM77.5 261h4v4h-4zM137.5 277h4v4h-4zM129.5 281h4v4h-4z"/><path fill="#c9ff00" d="M173.5 193h4v4h-4zM53.5 225h4v4h-4zM53.5 261h4v4h-4zM165.5 281h4v4h-4zM161.5 285h4v4h-4zM157.5 289h4v4h-4zM81.5 297h4v4h-4zM145.5 297h4v4h-4zM89.5 301h4v4h-4zM105.5 305h4v4h-4zM117.5 305h8v4h-8z"/><path fill="#00ff2a" d="M25.5 197h4v4h-4zM21.5 285h4v4h-4zM29.5 301h4v4h-4z"/><path fill="#00ff0f" d="M29.5 197h4v4h-4zM21.5 217h4v4h-4zM25.5 285h4v4h-4zM65.5 329h4v4h-4zM73.5 333h4v4h-4z"/><path fill="#0fff00" d="M33.5 197h4v4h-4zM25.5 217h4v4h-4zM21.5 241h4v4h-4zM21.5 245h4v4h-4zM21.5 249h4v4h-4zM25.5 273h4v4h-4zM173.5 313h4v4h-4zM161.5 321h4v4h-4zM145.5 329h4v4h-4zM133.5 333h4v4h-4z"/><path fill="#27ff00" d="M37.5 197h4v4h-4zM33.5 205h4v4h-4zM25.5 233h4v4h-4zM25.5 257h4v4h-4zM33.5 285h4v4h-4zM173.5 309h4v4h-4zM85.5 329h4v4h-4z"/><path fill="#87ff00" d="M53.5 197h4v4h-4zM45.5 213h4v4h-4zM41.5 225h4v4h-4zM41.5 261h4v4h-4zM177.5 285h4v4h-4zM53.5 289h4v4h-4zM165.5 297h4v4h-4zM85.5 313h4v4h-4zM137.5 313h4v4h-4zM101.5 317h4v4h-4zM121.5 317h4v4h-4z"/><path fill="#99ff00" d="M57.5 197h4v4h-4zM45.5 265h4v4h-4zM173.5 285h4v4h-4zM57.5 289h4v4h-4zM169.5 289h4v4h-4zM61.5 293h4v4h-4zM165.5 293h4v4h-4zM65.5 297h4v4h-4zM97.5 313h4v4h-4zM125.5 313h4v4h-4z"/><path fill="#ffcc00" d="M105.5 197h4v4h-4zM137.5 197h4v4h-4zM145.5 201h4v4h-4zM93.5 205h4v4h-4zM149.5 205h4v4h-4zM89.5 209h4v4h-4zM85.5 213h4v4h-4zM157.5 217h4v4h-4zM77.5 233h4v4h-4zM77.5 249h4v4h-4zM157.5 249h4v4h-4zM153.5 257h4v4h-4zM81.5 261h4v4h-4zM137.5 273h4v4h-4zM129.5 277h4v4h-4z"/><path fill="#ffc900" d="M109.5 197h4v4h-4zM133.5 197h4v4h-4zM81.5 221h4v4h-4zM157.5 221h4v4h-4zM77.5 237h4v4h-4zM77.5 241h4v4h-4zM77.5 245h4v4h-4zM157.5 245h4v4h-4zM149.5 261h4v4h-4zM85.5 265h4v4h-4zM89.5 269h4v4h-4zM141.5 269h4v4h-4zM93.5 273h4v4h-4zM101.5 277h4v4h-4zM125.5 277h4v4h-4z"/><path fill="#ffc600" d="M113.5 197h4v4h-4zM129.5 197h4v4h-4zM101.5 201h4v4h-4zM141.5 201h4v4h-4zM153.5 213h4v4h-4zM85.5 217h4v4h-4zM81.5 225h4v4h-4zM157.5 225h4v4h-4zM157.5 241h4v4h-4zM153.5 253h4v4h-4zM81.5 257h4v4h-4zM145.5 265h4v4h-4zM133.5 273h4v4h-4zM105.5 277h4v4h-4zM121.5 277h4v4h-4z"/><path fill="#ffc300" d="M117.5 197h12v4h-12zM105.5 201h4v4h-4zM97.5 205h4v4h-4zM145.5 205h4v4h-4zM93.5 209h4v4h-4zM149.5 209h4v4h-4zM89.5 213h4v4h-4zM157.5 229h4v4h-4zM157.5 233h4v4h-4zM157.5 237h4v4h-4zM81.5 253h4v4h-4zM85.5 261h4v4h-4zM97.5 273h4v4h-4zM109.5 277h12v4h-12z"/><path fill="#00ff3c" d="M21.5 201h4v4h-4zM29.5 305h4v4h-4zM53.5 329h4v4h-4z"/><path fill="#36ff00" d="M37.5 201h4v4h-4zM125.5 329h4v4h-4z"/><path fill="#4eff00" d="M41.5 201h4v4h-4zM37.5 209h4v4h-4zM33.5 221h4v4h-4zM169.5 305h4v4h-4zM65.5 313h4v4h-4zM141.5 321h4v4h-4zM93.5 325h4v4h-4z"/><path fill="#66ff00" d="M45.5 201h4v4h-4zM41.5 209h4v4h-4zM37.5 221h4v4h-4zM37.5 269h4v4h-4zM173.5 297h4v4h-4zM157.5 309h4v4h-4zM141.5 317h4v4h-4zM93.5 321h4v4h-4zM129.5 321h4v4h-4z"/><path fill="#a8ff00" d="M57.5 201h4v4h-4zM53.5 209h4v4h-4zM45.5 237h4v4h-4zM45.5 241h4v4h-4zM45.5 249h4v4h-4zM45.5 253h4v4h-4zM49.5 269h4v4h-4zM53.5 277h4v4h-4zM173.5 281h4v4h-4zM61.5 289h4v4h-4zM65.5 293h4v4h-4zM161.5 293h4v4h-4zM69.5 297h4v4h-4zM93.5 309h4v4h-4z"/><path fill="#ffbd00" d="M109.5 201h4v4h-4zM133.5 201h4v4h-4zM101.5 205h4v4h-4zM141.5 205h4v4h-4zM145.5 209h4v4h-4zM149.5 213h4v4h-4zM153.5 221h4v4h-4zM81.5 233h4v4h-4zM81.5 237h4v4h-4zM81.5 241h4v4h-4zM81.5 245h4v4h-4zM153.5 245h4v4h-4zM85.5 257h4v4h-4zM145.5 261h4v4h-4zM141.5 265h4v4h-4zM105.5 273h4v4h-4zM125.5 273h4v4h-4z"/><path fill="#ffba00" d="M113.5 201h4v4h-4zM129.5 201h4v4h-4zM97.5 209h4v4h-4zM93.5 213h4v4h-4zM89.5 217h4v4h-4zM85.5 225h4v4h-4zM153.5 225h4v4h-4zM153.5 241h4v4h-4zM149.5 253h4v4h-4zM89.5 261h4v4h-4zM93.5 265h4v4h-4zM97.5 269h4v4h-4zM133.5 269h4v4h-4zM109.5 273h4v4h-4zM121.5 273h4v4h-4z"/><path fill="#ffb700" d="M117.5 201h12v4h-12zM105.5 205h4v4h-4zM137.5 205h4v4h-4zM149.5 217h4v4h-4zM85.5 229h4v4h-4zM153.5 229h4v4h-4zM153.5 233h4v4h-4zM153.5 237h4v4h-4zM85.5 253h4v4h-4zM145.5 257h4v4h-4zM141.5 261h4v4h-4zM137.5 265h4v4h-4zM101.5 269h4v4h-4zM113.5 273h8v4h-8z"/><path fill="#ffc000" d="M137.5 201h4v4h-4zM153.5 217h4v4h-4zM85.5 221h4v4h-4zM81.5 229h4v4h-4zM81.5 249h4v4h-4zM153.5 249h4v4h-4zM149.5 257h4v4h-4zM89.5 265h4v4h-4zM93.5 269h4v4h-4zM137.5 269h4v4h-4zM101.5 273h4v4h-4zM129.5 273h4v4h-4z"/><path fill="#00ff30" d="M21.5 205h4v4h-4zM41.5 317h4v4h-4z"/><path fill="#0cff00" d="M29.5 205h4v4h-4zM21.5 237h4v4h-4zM21.5 253h4v4h-4zM29.5 285h4v4h-4zM33.5 293h4v4h-4zM45.5 309h4v4h-4zM49.5 313h4v4h-4zM65.5 325h4v4h-4zM73.5 329h4v4h-4zM85.5 333h4v4h-4z"/><path fill="#72ff00" d="M45.5 205h4v4h-4zM37.5 229h4v4h-4zM37.5 261h4v4h-4zM49.5 289h4v4h-4zM69.5 309h4v4h-4zM105.5 321h12v4h-12z"/><path fill="#8aff00" d="M49.5 205h4v4h-4zM41.5 229h4v4h-4zM45.5 273h4v4h-4zM49.5 281h4v4h-4zM173.5 289h4v4h-4zM57.5 293h4v4h-4zM169.5 293h4v4h-4zM61.5 297h4v4h-4zM65.5 301h4v4h-4zM153.5 305h4v4h-4zM77.5 309h4v4h-4zM105.5 317h16v4h-16z"/><path fill="#ffb400" d="M109.5 205h4v4h-4zM133.5 205h4v4h-4zM101.5 209h4v4h-4zM141.5 209h4v4h-4zM145.5 213h4v4h-4zM89.5 221h4v4h-4zM149.5 221h4v4h-4zM85.5 233h4v4h-4zM85.5 249h4v4h-4zM149.5 249h4v4h-4zM89.5 257h4v4h-4zM129.5 269h4v4h-4z"/><path fill="#ffb100" d="M113.5 205h4v4h-4zM129.5 205h4v4h-4zM97.5 213h4v4h-4zM93.5 217h4v4h-4zM89.5 225h4v4h-4zM149.5 225h4v4h-4zM85.5 237h4v4h-4zM85.5 241h4v4h-4zM85.5 245h4v4h-4zM149.5 245h4v4h-4zM145.5 253h4v4h-4zM93.5 261h4v4h-4zM97.5 265h4v4h-4zM133.5 265h4v4h-4zM105.5 269h4v4h-4zM125.5 269h4v4h-4z"/><path fill="#ffae00" d="M117.5 205h12v4h-12zM105.5 209h4v4h-4zM137.5 209h4v4h-4zM141.5 213h4v4h-4zM145.5 217h4v4h-4zM149.5 229h4v4h-4zM149.5 233h4v4h-4zM149.5 237h4v4h-4zM149.5 241h4v4h-4zM89.5 253h4v4h-4zM141.5 257h4v4h-4zM137.5 261h4v4h-4zM101.5 265h4v4h-4zM109.5 269h16v4h-16z"/><path fill="#00ff24" d="M21.5 209h4v4h-4zM33.5 305h4v4h-4zM173.5 321h4v4h-4zM53.5 325h4v4h-4z"/><path fill="#ffa800" d="M109.5 209h4v4h-4zM129.5 209h4v4h-4zM137.5 213h4v4h-4zM141.5 217h4v4h-4zM93.5 225h4v4h-4zM145.5 225h4v4h-4zM89.5 237h4v4h-4zM89.5 241h4v4h-4zM89.5 245h4v4h-4zM145.5 245h4v4h-4zM93.5 253h4v4h-4zM141.5 253h4v4h-4zM137.5 257h4v4h-4zM133.5 261h4v4h-4zM105.5 265h4v4h-4zM125.5 265h4v4h-4z"/><path fill="#ffa500" d="M113.5 209h16v4h-16zM105.5 213h4v4h-4zM101.5 217h4v4h-4zM97.5 221h4v4h-4zM145.5 229h4v4h-4zM145.5 233h4v4h-4zM145.5 237h4v4h-4zM145.5 241h4v4h-4zM97.5 257h4v4h-4zM101.5 261h4v4h-4zM129.5 261h4v4h-4zM109.5 265h16v4h-16z"/><path fill="#ffab00" d="M133.5 209h4v4h-4zM101.5 213h4v4h-4zM97.5 217h4v4h-4zM93.5 221h4v4h-4zM145.5 221h4v4h-4zM89.5 229h4v4h-4zM89.5 233h4v4h-4zM89.5 249h4v4h-4zM145.5 249h4v4h-4zM93.5 257h4v4h-4zM97.5 261h4v4h-4zM129.5 265h4v4h-4z"/><path fill="#21ff00" d="M29.5 213h4v4h-4zM25.5 229h4v4h-4zM29.5 277h4v4h-4zM49.5 309h4v4h-4zM169.5 313h4v4h-4zM137.5 329h4v4h-4zM101.5 333h8v4h-8zM117.5 333h4v4h-4z"/><path fill="#ffa200" d="M109.5 213h4v4h-4zM133.5 213h4v4h-4zM137.5 217h4v4h-4zM141.5 221h4v4h-4zM93.5 229h4v4h-4zM93.5 233h4v4h-4zM93.5 245h4v4h-4zM93.5 249h4v4h-4zM141.5 249h4v4h-4zM137.5 253h4v4h-4zM133.5 257h4v4h-4zM105.5 261h4v4h-4z"/><path fill="#ff9f00" d="M113.5 213h4v4h-4zM129.5 213h4v4h-4zM105.5 217h4v4h-4zM101.5 221h4v4h-4zM97.5 225h4v4h-4zM141.5 225h4v4h-4zM93.5 237h4v4h-4zM93.5 241h4v4h-4zM141.5 245h4v4h-4zM97.5 253h4v4h-4zM101.5 257h4v4h-4zM109.5 261h4v4h-4zM121.5 261h8v4h-8z"/><path fill="#ff9c00" d="M117.5 213h12v4h-12zM109.5 217h4v4h-4zM133.5 217h4v4h-4zM137.5 221h4v4h-4zM97.5 229h4v4h-4zM141.5 229h4v4h-4zM141.5 233h4v4h-4zM141.5 237h4v4h-4zM141.5 241h4v4h-4zM97.5 249h4v4h-4zM137.5 249h4v4h-4zM133.5 253h4v4h-4zM105.5 257h4v4h-4zM129.5 257h4v4h-4zM113.5 261h8v4h-8z"/><path fill="#45ff00" d="M33.5 217h4v4h-4zM29.5 237h4v4h-4zM29.5 253h4v4h-4zM33.5 273h4v4h-4zM49.5 301h4v4h-4zM53.5 305h4v4h-4zM57.5 309h4v4h-4zM153.5 317h4v4h-4zM145.5 321h4v4h-4zM133.5 325h4v4h-4z"/><path fill="#60ff00" d="M37.5 217h4v4h-4zM33.5 237h4v4h-4zM33.5 241h4v4h-4zM33.5 249h4v4h-4zM33.5 253h4v4h-4zM41.5 281h4v4h-4zM165.5 305h4v4h-4zM89.5 321h4v4h-4zM133.5 321h4v4h-4z"/><path fill="#ff9900" d="M113.5 217h4v4h-4zM129.5 217h4v4h-4zM105.5 221h4v4h-4zM133.5 221h4v4h-4zM101.5 225h4v4h-4zM137.5 225h4v4h-4zM97.5 233h4v4h-4zM97.5 237h4v4h-4zM97.5 241h4v4h-4zM97.5 245h4v4h-4zM137.5 245h4v4h-4zM101.5 253h4v4h-4zM109.5 257h4v4h-4zM125.5 257h4v4h-4z"/><path fill="#ff9600" d="M117.5 217h12v4h-12zM109.5 221h4v4h-4zM101.5 229h4v4h-4zM137.5 229h4v4h-4zM137.5 233h4v4h-4zM137.5 237h4v4h-4zM137.5 241h4v4h-4zM101.5 249h4v4h-4zM133.5 249h4v4h-4zM105.5 253h4v4h-4zM129.5 253h4v4h-4zM113.5 257h12v4h-12z"/><path fill="#00ff09" d="M21.5 221h4v4h-4zM41.5 309h4v4h-4zM49.5 317h4v4h-4zM173.5 317h4v4h-4zM161.5 325h4v4h-4zM153.5 329h4v4h-4z"/><path fill="#15ff00" d="M25.5 221h4v4h-4zM37.5 297h4v4h-4zM61.5 321h4v4h-4zM77.5 329h4v4h-4zM129.5 333h4v4h-4z"/><path fill="#96ff00" d="M45.5 221h4v4h-4zM49.5 277h4v4h-4zM177.5 281h4v4h-4zM161.5 297h4v4h-4zM69.5 301h4v4h-4zM149.5 305h4v4h-4zM141.5 309h4v4h-4zM129.5 313h4v4h-4z"/><path fill="#ff9300" d="M113.5 221h4v4h-4zM125.5 221h8v4h-8zM105.5 225h4v4h-4zM133.5 225h4v4h-4zM133.5 229h4v4h-4zM101.5 233h4v4h-4zM101.5 237h4v4h-4zM101.5 241h4v4h-4zM101.5 245h4v4h-4zM133.5 245h4v4h-4zM105.5 249h4v4h-4zM129.5 249h4v4h-4zM109.5 253h4v4h-4zM121.5 253h8v4h-8z"/><path fill="#ff9000" d="M117.5 221h8v4h-8zM109.5 225h4v4h-4zM129.5 225h4v4h-4zM105.5 229h4v4h-4zM105.5 233h4v4h-4zM133.5 233h4v4h-4zM133.5 237h4v4h-4zM133.5 241h4v4h-4zM105.5 245h4v4h-4zM129.5 245h4v4h-4zM109.5 249h4v4h-4zM125.5 249h4v4h-4zM113.5 253h8v4h-8z"/><path fill="#39ff00" d="M29.5 225h4v4h-4zM29.5 265h4v4h-4zM169.5 309h4v4h-4zM65.5 317h4v4h-4zM157.5 317h4v4h-4zM149.5 321h4v4h-4zM81.5 325h4v4h-4zM97.5 329h4v4h-4zM121.5 329h4v4h-4z"/><path fill="#9cff00" d="M45.5 225h4v4h-4zM77.5 305h4v4h-4zM85.5 309h4v4h-4zM101.5 313h4v4h-4zM121.5 313h4v4h-4z"/><path fill="#ff8d00" d="M113.5 225h16v4h-16zM109.5 229h4v4h-4zM129.5 229h4v4h-4zM129.5 233h4v4h-4zM105.5 237h4v4h-4zM129.5 237h4v4h-4zM105.5 241h4v4h-4zM129.5 241h4v4h-4zM109.5 245h4v4h-4zM125.5 245h4v4h-4zM113.5 249h12v4h-12z"/><path fill="#03ff00" d="M21.5 229h4v4h-4zM149.5 329h4v4h-4zM81.5 333h4v4h-4z"/><path fill="#3fff00" d="M29.5 229h4v4h-4zM29.5 261h4v4h-4zM37.5 285h4v4h-4zM177.5 301h4v4h-4zM61.5 313h4v4h-4zM105.5 329h12v4h-12z"/><path fill="#b7ff00" d="M49.5 229h4v4h-4zM49.5 257h4v4h-4zM173.5 277h4v4h-4zM65.5 289h4v4h-4zM69.5 293h4v4h-4zM157.5 293h4v4h-4zM89.5 305h4v4h-4zM109.5 309h8v4h-8z"/><path fill="#ff8a00" d="M113.5 229h16v4h-16zM109.5 233h8v4h-8zM125.5 233h4v4h-4zM109.5 237h4v4h-4zM125.5 237h4v4h-4zM109.5 241h8v4h-8zM125.5 241h4v4h-4zM113.5 245h12v4h-12z"/><path fill="#75ff00" d="M37.5 233h4v4h-4zM37.5 257h4v4h-4zM41.5 273h4v4h-4zM177.5 289h4v4h-4zM169.5 297h4v4h-4zM165.5 301h4v4h-4zM153.5 309h4v4h-4zM77.5 313h4v4h-4zM145.5 313h4v4h-4z"/><path fill="#ff8700" d="M117.5 233h8v4h-8zM113.5 237h12v4h-12zM117.5 241h8v4h-8z"/><path fill="#7bff00" d="M37.5 241h4v4h-4zM37.5 245h4v4h-4zM37.5 249h4v4h-4zM41.5 269h4v4h-4zM57.5 297h4v4h-4zM61.5 301h4v4h-4z"/><path fill="#2dff00" d="M25.5 245h4v4h-4zM41.5 297h4v4h-4zM153.5 321h4v4h-4zM89.5 329h4v4h-4z"/><path fill="#abff00" d="M45.5 245h4v4h-4zM169.5 285h4v4h-4zM165.5 289h4v4h-4zM149.5 301h4v4h-4zM141.5 305h4v4h-4zM129.5 309h4v4h-4z"/><path fill="#00ff0c" d="M21.5 273h4v4h-4zM29.5 293h4v4h-4zM37.5 305h4v4h-4zM53.5 321h4v4h-4zM145.5 333h4v4h-4z"/><path fill="#00ff15" d="M21.5 277h4v4h-4z"/><path fill="#00ff03" d="M25.5 281h4v4h-4zM33.5 297h4v4h-4zM61.5 325h4v4h-4zM141.5 333h4v4h-4z"/><path fill="#00ff36" d="M21.5 289h4v4h-4zM25.5 297h4v4h-4zM33.5 309h4v4h-4zM49.5 325h4v4h-4zM165.5 329h4v4h-4zM61.5 333h4v4h-4z"/><path fill="#00ff1b" d="M25.5 289h4v4h-4zM29.5 297h4v4h-4zM41.5 313h4v4h-4zM45.5 317h4v4h-4zM165.5 325h4v4h-4zM61.5 329h4v4h-4zM69.5 333h4v4h-4z"/><path fill="#00ff42" d="M21.5 293h4v4h-4zM161.5 333h4v4h-4z"/><path fill="#00ff27" d="M25.5 293h4v4h-4zM161.5 329h4v4h-4zM65.5 333h4v4h-4zM153.5 333h4v4h-4z"/><path fill="#51ff00" d="M45.5 293h4v4h-4zM177.5 297h4v4h-4zM173.5 301h4v4h-4zM157.5 313h4v4h-4zM149.5 317h4v4h-4zM81.5 321h4v4h-4zM97.5 325h4v4h-4zM125.5 325h4v4h-4z"/><path fill="#00ff60" d="M21.5 301h4v4h-4z"/><path fill="#00ff45" d="M25.5 301h4v4h-4zM57.5 333h4v4h-4z"/><path fill="#00ff72" d="M21.5 305h4v4h-4z"/><path fill="#00ff84" d="M21.5 309h4v4h-4z"/><path fill="#00ff4e" d="M29.5 309h4v4h-4zM49.5 329h4v4h-4z"/><path fill="#00ff96" d="M21.5 313h4v4h-4z"/><path fill="#00ffab" d="M21.5 317h4v4h-4z"/><path fill="#00ff90" d="M25.5 317h4v4h-4zM41.5 333h4v4h-4z"/><path fill="#00ff75" d="M29.5 317h4v4h-4zM33.5 321h4v4h-4zM37.5 325h4v4h-4zM41.5 329h4v4h-4z"/><path fill="#00ff5d" d="M33.5 317h4v4h-4zM37.5 321h4v4h-4zM41.5 325h4v4h-4z"/><path fill="#00ffc0" d="M21.5 321h4v4h-4z"/><path fill="#00ffa5" d="M25.5 321h4v4h-4zM37.5 333h4v4h-4z"/><path fill="#00ffd8" d="M21.5 325h4v4h-4z"/><path fill="#00ffbd" d="M25.5 325h4v4h-4zM33.5 333h4v4h-4z"/><path fill="#00ffa2" d="M29.5 325h4v4h-4zM33.5 329h4v4h-4z"/><path fill="#00ff8a" d="M33.5 325h4v4h-4z"/><path fill="#00ff54" d="M177.5 325h4v4h-4zM165.5 333h4v4h-4z"/><path fill="#00fff0" d="M21.5 329h4v4h-4z"/><path fill="#00ffd5" d="M25.5 329h4v4h-4zM29.5 333h4v4h-4z"/><path fill="#00ffba" d="M29.5 329h4v4h-4z"/><path fill="#00f9ff" d="M21.5 333h4v4h-4z"/><path fill="#00ffed" d="M25.5 333h4v4h-4z"/><path fill="#00ff66" d="M169.5 333h4v4h-4z"/><path fill="#00ff78" d="M173.5 333h4v4h-4z"/></g></g>
<path d="M29.5 315.04 30.91 316.82 32.08 318.25 33.29 319.65 34.54 321.06 35.84 322.48 37.23 323.92 38.63 325.32 39.33 326M162.58 326 164.38 324.95 166.13 323.88 167.89 322.76 169.4 321.77 170 321.36M29.5 286.93 30.27 288.63 31.28 290.75 32.31 292.77 33.12 294.27 34.32 296.39 35.17 297.8 36.5 299.91 37.44 301.32 38.63 303.04 39.95 304.85 41.04 306.26 42.17 307.67 43.55 309.32 44.95 310.91 46.36 312.43 47.77 313.88 49.17 315.27 50.58 316.59 51.98 317.86 53.39 319.07 54.95 320.36 56.75 321.77 58.3 322.93 59.71 323.93 61.72 325.29 62.82 326M41.94 185 40.74 186.74 39.56 188.53 38.63 189.97 37.35 192.05 36.52 193.46 35.32 195.57 34.42 197.25 33.46 199.1 32.41 201.22 31.61 202.92 30.79 204.74 29.88 206.86 29.5 207.79M61.62 185 60.39 186.41 59 188.05 57.6 189.8 56.42 191.34 55.38 192.75 54.09 194.58 52.94 196.28 51.98 197.77 50.73 199.81 49.87 201.28 48.73 203.33 47.77 205.16 46.92 206.86 45.92 208.97 44.98 211.08 44.25 212.82 43.55 214.61 42.77 216.72 42.05 218.84 41.39 220.95 40.74 223.21 40.05 225.89 39.57 228 39.14 230.12 38.65 232.94 38.34 235.06 38.01 237.88 37.82 239.99 37.65 242.81 37.57 245.63 37.59 248.45 37.69 251.27 37.9 254.09 38.11 256.2 38.48 259.02 38.83 261.14 39.34 263.76 39.86 266.07 40.4 268.19 41 270.31 41.67 272.42 42.41 274.53 43.21 276.65 44.09 278.76 44.95 280.7 45.72 282.29 46.8 284.41 47.77 286.15 48.8 287.93 49.87 289.64 51.07 291.45 52.06 292.87 53.39 294.65 54.76 296.39 55.94 297.8 57.18 299.21 58.48 300.62 59.86 302.03 61.31 303.44 62.85 304.85 64.49 306.26 66.03 307.52 67.44 308.6 69.05 309.78 70.95 311.09 72.35 312 74.46 313.28 75.87 314.08 77.97 315.21 79.84 316.13 81.48 316.89 83.59 317.8 85.7 318.63 87.81 319.39 89.91 320.08 92.02 320.7 94.13 321.25 96.38 321.77 99.05 322.3 101.16 322.64 103.97 323.01 106.07 323.22 108.88 323.42 111.69 323.51 114.5 323.5 117.31 323.4 120.12 323.2 122.23 322.98 125.04 322.61 127.15 322.27 129.77 321.77 132.06 321.26 134.17 320.73 136.28 320.15 138.39 319.51 140.5 318.81 142.6 318.05 144.71 317.23 146.82 316.35 148.88 315.43 150.37 314.72 152.44 313.68 154.45 312.61 155.95 311.76 158.06 310.52 159.46 309.64 161.41 308.38 162.98 307.3 164.44 306.26 166.32 304.85 167.89 303.62 169.3 302.47 170 301.88M170 194.8 168.59 193.18 167.19 191.67 165.78 190.27 164.38 188.97 162.98 187.75 161.31 186.41 159.46 185.04 159.41 185M91.22 185 89.21 186.31 87.81 187.28 86.11 188.53 84.31 189.94 82.89 191.11 81.48 192.34 80.08 193.63 78.68 194.99 77.27 196.43 75.87 197.96 74.46 199.57 73.11 201.22 72.02 202.62 70.95 204.08 69.54 206.1 68.6 207.56 67.44 209.45 66.5 211.08 65.36 213.2 64.62 214.67 63.67 216.72 62.76 218.84 61.93 220.95 61.18 223.07 60.5 225.19 59.9 227.3 59.37 229.41 58.91 231.53 58.4 234.35 58.1 236.47 57.8 239.28 57.63 242.11 57.58 244.22 57.6 246.55 57.73 249.16 57.98 251.97 58.3 254.37 58.75 256.91 59.2 259.02 59.73 261.14 60.41 263.46 61.11 265.55 61.84 267.49 62.72 269.6 63.71 271.72 64.62 273.5 65.6 275.24 66.73 277.11 67.82 278.76 68.84 280.21 70.25 282.05 71.61 283.7 72.87 285.11 74.22 286.52 75.67 287.93 77.23 289.34 78.68 290.56 80.08 291.66 81.73 292.87 83.59 294.11 85 294.99 87.11 296.19 88.84 297.1 90.62 297.94 92.72 298.85 94.83 299.66 96.94 300.37 99.05 301 101.16 301.53 103.48 302.03 106.07 302.47 108.18 302.74 110.99 302.98 113.8 303.09 116.61 303.07 119.42 302.92 121.53 302.72 124.34 302.35 126.45 301.99 129.25 301.39 131.36 300.85 133.47 300.24 135.58 299.55 137.69 298.79 139.79 297.94 141.73 297.09 143.31 296.35 145.41 295.27 147.22 294.27 148.93 293.27 150.69 292.16 152.44 290.99 153.84 289.99 155.65 288.63 157.36 287.26 158.76 286.07 160.17 284.81 161.57 283.49 162.98 282.09 164.38 280.61 165.78 279.04 167.19 277.38 168.34 275.94 169.41 274.53 170 273.72M115.26 271.72 118.02 271.8 120.12 271.69 122.93 271.34 125.04 270.91 127.24 270.31 129.28 269.6 131.36 268.73 133.47 267.68 135.04 266.78 136.98 265.51 138.39 264.48 139.9 263.25 141.45 261.84 142.84 260.44 144.09 259.02 145.41 257.36 146.73 255.5 147.61 254.09 148.79 251.97 149.63 250.22 150.37 248.45 151.11 246.33 151.74 244.1 152.29 241.4 152.57 239.28 152.74 236.47 152.67 233.64 152.44 231.39 151.95 228.71 151.39 226.59 150.66 224.48 149.76 222.37 148.93 220.75 147.77 218.84 146.78 217.43 145.41 215.74 144.01 214.25 142.6 212.95 141.17 211.79 139.12 210.38 137.69 209.54 135.58 208.5 133.47 207.66 131.36 207 129.25 206.51 126.89 206.15 124.34 205.97 121.53 206.01 119.42 206.21 116.61 206.69 114.5 207.22 112.39 207.9 110.29 208.73 108.27 209.67 106.78 210.48 104.67 211.78 103.26 212.77 101.8 213.91 100.17 215.31 98.71 216.72 97.41 218.13 96.22 219.55 94.83 221.41 93.73 223.07 92.72 224.79 91.79 226.59 90.85 228.71 90.07 230.82 89.43 232.94 88.93 235.06 88.51 237.61 88.29 239.99 88.25 242.81 88.45 245.63 88.77 247.75 89.23 249.86 89.91 252.16 90.64 254.09 91.63 256.2 92.72 258.15 93.77 259.73 94.84 261.14 96.24 262.75 97.64 264.15 99.05 265.37 100.95 266.78 102.56 267.8 104.62 268.89 106.2 269.6 108.18 270.33 110.63 271.01 113.1 271.48 115.26 271.72" fill="none" stroke="#000" stroke-opacity="0.62" stroke-width="0.9" stroke-linejoin="round" clip-path="url(#c4)"/>
<rect x="29.5" y="185" width="140.5" height="141" fill="none" stroke="#3a3020" stroke-opacity="0.75" stroke-width="0.6"/>
<text x="29.5" y="336.4" font-size="4.99" text-anchor="middle">90.00</text>
<text x="52.92" y="336.4" font-size="4.99" text-anchor="middle">100.00</text>
<text x="76.33" y="336.4" font-size="4.99" text-anchor="middle">110.00</text>
<text x="99.75" y="336.4" font-size="4.99" text-anchor="middle">120.00</text>
<text x="123.17" y="336.4" font-size="4.99" text-anchor="middle">130.00</text>
<text x="146.58" y="336.4" font-size="4.99" text-anchor="middle">140.00</text>
<text x="170" y="336.4" font-size="4.99" text-anchor="middle">150.00</text>
<text x="99.75" y="345.4" font-size="5.29" text-anchor="middle">B: Time (min)</text>
<text x="24.8" y="327.8" font-size="4.99" text-anchor="end">10.00</text>
<text x="24.8" y="299.6" font-size="4.99" text-anchor="end">12.00</text>
<text x="24.8" y="271.4" font-size="4.99" text-anchor="end">14.00</text>
<text x="24.8" y="243.2" font-size="4.99" text-anchor="end">16.00</text>
<text x="24.8" y="215" font-size="4.99" text-anchor="end">18.00</text>
<text x="24.8" y="186.8" font-size="4.99" text-anchor="end">20.00</text>
<path d="M29.5 326v3M52.92 326v3M76.33 326v3M99.75 326v3M123.17 326v3M146.58 326v3M170 326v3M29.5 326h-3.5M29.5 297.8h-3.5M29.5 269.6h-3.5M29.5 241.4h-3.5M29.5 213.2h-3.5M29.5 185h-3.5" stroke="#444" stroke-width="0.5" fill="none"/>
<text transform="translate(8 256) rotate(-90)" font-size="5.29" text-anchor="middle">C: Liquid&amp;Solid ratio</text>
<text x="99.75" y="182.2" font-size="5.74" text-anchor="middle">Yield(mg/g)</text>
<circle cx="29.5" cy="185" r="1.6" fill="#860a14"/>
<circle cx="170" cy="185" r="1.6" fill="#860a14"/>
<circle cx="29.5" cy="326" r="1.6" fill="#860a14"/>
<circle cx="170" cy="326" r="1.6" fill="#860a14"/>
<circle cx="99.75" cy="255.5" r="1.6" fill="#860a14"/>
<text x="96.95" y="257.3" font-size="5" text-anchor="end" fill="#4a2c2c">5</text>
<rect x="32.7" y="188.9" width="7.2" height="7.2" fill="#fbfbff" stroke="#55553c" stroke-width="0.6"/><text x="36.3" y="194.35" font-size="5.1" text-anchor="middle" fill="#3c3c6a">65</text>
<rect x="110.2" y="266.4" width="7.2" height="7.2" fill="#fbfbff" stroke="#55553c" stroke-width="0.6"/><text x="113.8" y="271.85" font-size="5.1" text-anchor="middle" fill="#3c3c6a">68</text>
<rect x="66.8" y="276.8" width="7.2" height="7.2" fill="#fbfbff" stroke="#55553c" stroke-width="0.6"/><text x="70.4" y="282.25" font-size="5.1" text-anchor="middle" fill="#3c3c6a">67</text>
<rect x="52.2" y="290.8" width="7.2" height="7.2" fill="#fbfbff" stroke="#55553c" stroke-width="0.6"/><text x="55.8" y="296.25" font-size="5.1" text-anchor="middle" fill="#3c3c6a">66</text>
<rect x="39.8" y="301.8" width="7.2" height="7.2" fill="#fbfbff" stroke="#55553c" stroke-width="0.6"/><text x="43.4" y="307.25" font-size="5.1" text-anchor="middle" fill="#3c3c6a">65</text>
<rect x="30.9" y="313.5" width="7.2" height="7.2" fill="#fbfbff" stroke="#55553c" stroke-width="0.6"/><text x="34.5" y="318.95" font-size="5.1" text-anchor="middle" fill="#3c3c6a">64</text>
<rect x="161.6" y="316.9" width="7.2" height="7.2" fill="#fbfbff" stroke="#55553c" stroke-width="0.6"/><text x="165.2" y="322.35" font-size="5.1" text-anchor="middle" fill="#3c3c6a">65</text>
<g clip-path="url(#c5)"><g filter="url(#bl)" shape-rendering="crispEdges"><path fill="#5dff00" d="M208.5 177.5h4v4h-4zM208.5 229.5h4v4h-4zM220.5 253.5h4v4h-4zM240.5 273.5h4v4h-4zM336.5 285.5h4v4h-4z"/><path fill="#7bff00" d="M212.5 177.5h4v4h-4zM208.5 197.5h4v4h-4zM208.5 201.5h4v4h-4zM208.5 205.5h4v4h-4zM208.5 209.5h4v4h-4zM212.5 229.5h4v4h-4zM228.5 257.5h4v4h-4zM232.5 261.5h4v4h-4zM236.5 265.5h4v4h-4zM276.5 285.5h4v4h-4zM324.5 285.5h4v4h-4z"/><path fill="#99ff00" d="M216.5 177.5h4v4h-4zM212.5 197.5h4v4h-4zM212.5 201.5h4v4h-4zM212.5 205.5h4v4h-4zM212.5 209.5h4v4h-4zM224.5 245.5h4v4h-4zM248.5 269.5h4v4h-4zM324.5 281.5h4v4h-4z"/><path fill="#b7ff00" d="M220.5 177.5h4v4h-4zM216.5 197.5h4v4h-4zM216.5 201.5h4v4h-4zM216.5 205.5h4v4h-4zM232.5 249.5h4v4h-4zM244.5 261.5h4v4h-4zM360.5 261.5h4v4h-4zM264.5 273.5h4v4h-4z"/><path fill="#d2ff00" d="M224.5 177.5h4v4h-4zM220.5 197.5h4v4h-4zM220.5 201.5h4v4h-4zM220.5 205.5h4v4h-4zM220.5 209.5h4v4h-4zM256.5 265.5h4v4h-4zM264.5 269.5h4v4h-4z"/><path fill="#edff00" d="M228.5 177.5h4v4h-4zM224.5 197.5h4v4h-4zM224.5 201.5h4v4h-4zM224.5 205.5h4v4h-4zM228.5 225.5h4v4h-4zM236.5 241.5h4v4h-4zM296.5 273.5h12v4h-12z"/><path fill="#fff900" d="M232.5 177.5h4v4h-4zM228.5 193.5h4v4h-4zM228.5 197.5h4v4h-4zM228.5 209.5h4v4h-4zM232.5 225.5h4v4h-4zM244.5 245.5h4v4h-4zM248.5 249.5h4v4h-4zM252.5 253.5h4v4h-4zM328.5 265.5h4v4h-4zM292.5 269.5h4v4h-4zM308.5 269.5h4v4h-4z"/><path fill="#ffe100" d="M236.5 177.5h4v4h-4zM232.5 193.5h4v4h-4zM232.5 209.5h4v4h-4zM236.5 225.5h4v4h-4zM240.5 233.5h4v4h-4zM352.5 249.5h4v4h-4zM288.5 265.5h4v4h-4zM312.5 265.5h4v4h-4z"/><path fill="#ffc900" d="M240.5 177.5h4v4h-4zM236.5 193.5h4v4h-4zM236.5 209.5h4v4h-4zM248.5 237.5h4v4h-4zM360.5 237.5h4v4h-4zM356.5 241.5h4v4h-4zM260.5 249.5h4v4h-4zM288.5 261.5h4v4h-4zM316.5 261.5h4v4h-4z"/><path fill="#ffb400" d="M244.5 177.5h4v4h-4zM240.5 193.5h4v4h-4zM240.5 209.5h4v4h-4zM256.5 241.5h4v4h-4z"/><path fill="#ff9f00" d="M248.5 177.5h4v4h-4zM244.5 209.5h4v4h-4zM252.5 229.5h4v4h-4zM268.5 245.5h4v4h-4zM320.5 253.5h4v4h-4z"/><path fill="#ff8d00" d="M252.5 177.5h4v4h-4zM248.5 189.5h4v4h-4zM256.5 229.5h4v4h-4zM268.5 241.5h4v4h-4zM332.5 245.5h4v4h-4zM284.5 249.5h4v4h-4z"/><path fill="#ff7b00" d="M256.5 177.5h4v4h-4zM252.5 189.5h4v4h-4zM360.5 213.5h4v4h-4zM256.5 221.5h4v4h-4zM352.5 225.5h4v4h-4zM344.5 233.5h4v4h-4zM332.5 241.5h4v4h-4zM284.5 245.5h4v4h-4z"/><path fill="#ff6900" d="M260.5 177.5h4v4h-4zM360.5 181.5h4v4h-4zM256.5 189.5h4v4h-4zM360.5 201.5h4v4h-4zM256.5 209.5h4v4h-4zM356.5 213.5h4v4h-4zM276.5 237.5h4v4h-4zM332.5 237.5h4v4h-4zM284.5 241.5h4v4h-4z"/><path fill="#ff5a00" d="M264.5 177.5h4v4h-4zM260.5 209.5h4v4h-4zM352.5 213.5h4v4h-4zM268.5 225.5h4v4h-4zM272.5 229.5h4v4h-4zM332.5 233.5h4v4h-4zM284.5 237.5h4v4h-4zM324.5 237.5h4v4h-4zM300.5 241.5h12v4h-12z"/><path fill="#ff4e00" d="M268.5 177.5h4v4h-4zM352.5 177.5h4v4h-4zM264.5 185.5h4v4h-4zM352.5 205.5h4v4h-4zM264.5 213.5h4v4h-4zM348.5 213.5h4v4h-4zM272.5 225.5h4v4h-4zM276.5 229.5h4v4h-4zM296.5 237.5h4v4h-4zM312.5 237.5h4v4h-4z"/><path fill="#ff3f00" d="M272.5 177.5h4v4h-4zM268.5 185.5h4v4h-4zM348.5 205.5h4v4h-4zM268.5 209.5h4v4h-4zM344.5 213.5h4v4h-4zM332.5 225.5h4v4h-4zM284.5 229.5h4v4h-4zM296.5 233.5h4v4h-4zM312.5 233.5h4v4h-4z"/><path fill="#ff3600" d="M276.5 177.5h4v4h-4zM344.5 177.5h4v4h-4zM272.5 213.5h4v4h-4zM340.5 213.5h4v4h-4zM328.5 225.5h4v4h-4zM292.5 229.5h4v4h-4zM320.5 229.5h4v4h-4z"/><path fill="#ff2a00" d="M280.5 177.5h4v4h-4zM340.5 205.5h4v4h-4zM336.5 213.5h4v4h-4zM280.5 217.5h4v4h-4zM332.5 217.5h4v4h-4zM284.5 221.5h4v4h-4zM292.5 225.5h4v4h-4zM320.5 225.5h4v4h-4z"/><path fill="#ff2100" d="M284.5 177.5h4v4h-4zM340.5 189.5h4v4h-4zM276.5 193.5h4v4h-4zM340.5 193.5h4v4h-4zM276.5 197.5h4v4h-4zM340.5 197.5h4v4h-4zM276.5 201.5h4v4h-4zM332.5 213.5h4v4h-4zM284.5 217.5h4v4h-4zM320.5 221.5h4v4h-4zM304.5 225.5h4v4h-4z"/><path fill="#ff1b00" d="M288.5 177.5h4v4h-4zM332.5 177.5h4v4h-4zM284.5 181.5h4v4h-4zM336.5 185.5h4v4h-4zM280.5 189.5h4v4h-4zM336.5 201.5h4v4h-4zM280.5 205.5h4v4h-4zM332.5 209.5h4v4h-4zM284.5 213.5h4v4h-4zM328.5 213.5h4v4h-4zM288.5 217.5h4v4h-4zM324.5 217.5h4v4h-4zM296.5 221.5h4v4h-4zM312.5 221.5h8v4h-8z"/><path fill="#ff1500" d="M292.5 177.5h4v4h-4zM328.5 177.5h4v4h-4zM332.5 181.5h4v4h-4zM284.5 185.5h4v4h-4zM332.5 205.5h4v4h-4zM284.5 209.5h4v4h-4zM328.5 209.5h4v4h-4zM288.5 213.5h4v4h-4zM324.5 213.5h4v4h-4z"/><path fill="#ff0f00" d="M296.5 177.5h4v4h-4zM324.5 177.5h4v4h-4zM328.5 181.5h4v4h-4zM288.5 185.5h4v4h-4zM332.5 189.5h4v4h-4zM284.5 193.5h4v4h-4zM332.5 193.5h4v4h-4zM284.5 197.5h4v4h-4zM332.5 197.5h4v4h-4zM284.5 201.5h4v4h-4zM328.5 205.5h4v4h-4zM288.5 209.5h4v4h-4zM324.5 209.5h4v4h-4zM292.5 213.5h4v4h-4zM320.5 213.5h4v4h-4zM300.5 217.5h16v4h-16z"/><path fill="#ff0c00" d="M300.5 177.5h4v4h-4zM320.5 177.5h4v4h-4zM292.5 181.5h4v4h-4zM328.5 185.5h4v4h-4zM288.5 189.5h4v4h-4zM328.5 201.5h4v4h-4zM288.5 205.5h4v4h-4zM296.5 213.5h4v4h-4zM316.5 213.5h4v4h-4z"/><path fill="#ff0900" d="M304.5 177.5h4v4h-4zM316.5 177.5h4v4h-4zM296.5 181.5h4v4h-4zM324.5 181.5h4v4h-4zM292.5 185.5h4v4h-4zM328.5 189.5h4v4h-4zM288.5 193.5h4v4h-4zM328.5 193.5h4v4h-4zM288.5 197.5h4v4h-4zM328.5 197.5h4v4h-4zM288.5 201.5h4v4h-4zM324.5 205.5h4v4h-4zM292.5 209.5h4v4h-4zM320.5 209.5h4v4h-4zM300.5 213.5h16v4h-16z"/><path fill="#ff0600" d="M308.5 177.5h8v4h-8zM300.5 181.5h4v4h-4zM320.5 181.5h4v4h-4zM324.5 185.5h4v4h-4zM292.5 189.5h4v4h-4zM324.5 201.5h4v4h-4zM292.5 205.5h4v4h-4zM296.5 209.5h4v4h-4zM316.5 209.5h4v4h-4z"/><path fill="#ff2400" d="M336.5 177.5h4v4h-4zM280.5 181.5h4v4h-4zM340.5 185.5h4v4h-4zM276.5 189.5h4v4h-4zM340.5 201.5h4v4h-4zM276.5 205.5h4v4h-4zM336.5 209.5h4v4h-4zM280.5 213.5h4v4h-4zM328.5 217.5h4v4h-4zM288.5 221.5h4v4h-4zM300.5 225.5h4v4h-4zM308.5 225.5h8v4h-8z"/><path fill="#ff2d00" d="M340.5 177.5h4v4h-4zM276.5 181.5h4v4h-4zM344.5 185.5h4v4h-4zM344.5 189.5h4v4h-4zM272.5 193.5h4v4h-4zM344.5 193.5h4v4h-4zM272.5 197.5h4v4h-4zM344.5 197.5h4v4h-4zM272.5 201.5h4v4h-4zM272.5 205.5h4v4h-4zM340.5 209.5h4v4h-4zM276.5 213.5h4v4h-4zM328.5 221.5h4v4h-4zM288.5 225.5h4v4h-4zM304.5 229.5h4v4h-4z"/><path fill="#ff4200" d="M348.5 177.5h4v4h-4zM268.5 213.5h4v4h-4zM292.5 233.5h4v4h-4zM316.5 233.5h4v4h-4z"/><path fill="#ff5d00" d="M356.5 177.5h4v4h-4zM260.5 185.5h4v4h-4zM356.5 205.5h4v4h-4zM260.5 213.5h4v4h-4zM264.5 221.5h4v4h-4zM276.5 233.5h4v4h-4zM296.5 241.5h4v4h-4zM312.5 241.5h4v4h-4z"/><path fill="#ff6c00" d="M360.5 177.5h4v4h-4zM256.5 185.5h4v4h-4zM360.5 205.5h4v4h-4zM256.5 213.5h4v4h-4zM260.5 221.5h4v4h-4zM348.5 225.5h4v4h-4zM344.5 229.5h4v4h-4zM324.5 241.5h4v4h-4zM300.5 245.5h12v4h-12z"/><path fill="#66ff00" d="M208.5 181.5h4v4h-4zM208.5 225.5h4v4h-4zM228.5 261.5h4v4h-4zM232.5 265.5h4v4h-4zM248.5 277.5h4v4h-4zM352.5 277.5h4v4h-4zM256.5 281.5h4v4h-4zM344.5 281.5h4v4h-4zM284.5 289.5h4v4h-4zM316.5 289.5h4v4h-4z"/><path fill="#84ff00" d="M212.5 181.5h4v4h-4zM212.5 225.5h4v4h-4zM352.5 273.5h4v4h-4zM256.5 277.5h4v4h-4zM344.5 277.5h4v4h-4zM280.5 285.5h4v4h-4z"/><path fill="#a2ff00" d="M216.5 181.5h4v4h-4zM244.5 265.5h4v4h-4zM352.5 269.5h4v4h-4zM344.5 273.5h4v4h-4zM280.5 281.5h4v4h-4zM320.5 281.5h4v4h-4z"/><path fill="#c0ff00" d="M220.5 181.5h4v4h-4zM224.5 233.5h4v4h-4zM228.5 241.5h4v4h-4zM344.5 269.5h4v4h-4zM280.5 277.5h4v4h-4zM320.5 277.5h4v4h-4z"/><path fill="#dbff00" d="M224.5 181.5h4v4h-4zM228.5 233.5h4v4h-4zM252.5 261.5h4v4h-4zM344.5 265.5h4v4h-4zM280.5 273.5h4v4h-4z"/><path fill="#f3ff00" d="M228.5 181.5h4v4h-4zM240.5 245.5h4v4h-4zM244.5 249.5h4v4h-4zM248.5 253.5h4v4h-4zM336.5 265.5h4v4h-4zM324.5 269.5h4v4h-4z"/><path fill="#fff000" d="M232.5 181.5h4v4h-4zM232.5 221.5h4v4h-4zM356.5 249.5h4v4h-4zM260.5 257.5h4v4h-4zM344.5 257.5h4v4h-4zM268.5 261.5h4v4h-4zM336.5 261.5h4v4h-4zM324.5 265.5h4v4h-4z"/><path fill="#ffd800" d="M236.5 181.5h4v4h-4zM236.5 221.5h4v4h-4zM256.5 249.5h4v4h-4zM344.5 253.5h4v4h-4zM268.5 257.5h4v4h-4zM336.5 257.5h4v4h-4z"/><path fill="#ffc300" d="M240.5 181.5h4v4h-4zM240.5 221.5h4v4h-4zM244.5 229.5h4v4h-4zM344.5 249.5h4v4h-4zM268.5 253.5h4v4h-4zM296.5 261.5h16v4h-16z"/><path fill="#ffab00" d="M244.5 181.5h4v4h-4zM264.5 245.5h4v4h-4zM336.5 249.5h4v4h-4zM296.5 257.5h16v4h-16z"/><path fill="#ff9900" d="M248.5 181.5h4v4h-4zM256.5 233.5h4v4h-4zM260.5 237.5h4v4h-4zM348.5 237.5h4v4h-4zM264.5 241.5h4v4h-4zM328.5 249.5h4v4h-4zM292.5 253.5h4v4h-4zM312.5 253.5h4v4h-4z"/><path fill="#ff8400" d="M252.5 181.5h4v4h-4zM252.5 217.5h4v4h-4zM360.5 217.5h4v4h-4zM256.5 225.5h4v4h-4zM272.5 241.5h4v4h-4zM336.5 241.5h4v4h-4zM328.5 245.5h4v4h-4zM292.5 249.5h4v4h-4zM312.5 249.5h4v4h-4z"/><path fill="#ff7200" d="M256.5 181.5h4v4h-4zM360.5 209.5h4v4h-4zM256.5 217.5h4v4h-4zM356.5 217.5h4v4h-4zM264.5 229.5h4v4h-4zM268.5 233.5h4v4h-4zM272.5 237.5h4v4h-4zM336.5 237.5h4v4h-4zM280.5 241.5h4v4h-4zM328.5 241.5h4v4h-4zM292.5 245.5h4v4h-4zM316.5 245.5h4v4h-4z"/><path fill="#ff6300" d="M260.5 181.5h4v4h-4zM360.5 189.5h4v4h-4zM360.5 193.5h4v4h-4zM256.5 197.5h4v4h-4zM256.5 201.5h4v4h-4zM356.5 209.5h4v4h-4zM260.5 217.5h4v4h-4zM352.5 217.5h4v4h-4zM268.5 229.5h4v4h-4zM336.5 233.5h4v4h-4zM288.5 241.5h4v4h-4z"/><path fill="#ff5400" d="M264.5 181.5h4v4h-4zM356.5 185.5h4v4h-4zM356.5 189.5h4v4h-4zM356.5 193.5h4v4h-4zM260.5 197.5h4v4h-4zM356.5 197.5h4v4h-4zM260.5 201.5h4v4h-4zM352.5 209.5h4v4h-4zM264.5 217.5h4v4h-4zM344.5 221.5h4v4h-4zM340.5 225.5h4v4h-4zM336.5 229.5h4v4h-4zM280.5 233.5h4v4h-4zM288.5 237.5h4v4h-4zM320.5 237.5h4v4h-4z"/><path fill="#ff4500" d="M268.5 181.5h4v4h-4zM352.5 189.5h4v4h-4zM352.5 193.5h4v4h-4zM264.5 197.5h4v4h-4zM264.5 201.5h4v4h-4zM348.5 209.5h4v4h-4zM272.5 221.5h4v4h-4zM276.5 225.5h4v4h-4zM328.5 229.5h4v4h-4zM288.5 233.5h4v4h-4zM320.5 233.5h4v4h-4z"/><path fill="#ff3900" d="M272.5 181.5h4v4h-4zM348.5 185.5h4v4h-4zM348.5 189.5h4v4h-4zM268.5 193.5h4v4h-4zM348.5 193.5h4v4h-4zM268.5 197.5h4v4h-4zM348.5 197.5h4v4h-4zM268.5 201.5h4v4h-4zM268.5 205.5h4v4h-4zM344.5 209.5h4v4h-4zM288.5 229.5h4v4h-4z"/><path fill="#ff1200" d="M288.5 181.5h4v4h-4zM332.5 185.5h4v4h-4zM284.5 189.5h4v4h-4zM332.5 201.5h4v4h-4zM284.5 205.5h4v4h-4zM296.5 217.5h4v4h-4zM316.5 217.5h4v4h-4z"/><path fill="#ff0300" d="M304.5 181.5h4v4h-4zM316.5 181.5h4v4h-4zM296.5 185.5h4v4h-4zM320.5 185.5h4v4h-4zM324.5 189.5h4v4h-4zM292.5 193.5h4v4h-4zM324.5 193.5h4v4h-4zM292.5 197.5h4v4h-4zM324.5 197.5h4v4h-4zM292.5 201.5h4v4h-4zM296.5 205.5h4v4h-4zM320.5 205.5h4v4h-4zM300.5 209.5h16v4h-16z"/><path fill="#ff0000" d="M308.5 181.5h8v4h-8zM300.5 185.5h20v4h-20zM296.5 189.5h28v4h-28zM296.5 193.5h28v4h-28zM296.5 197.5h28v4h-28zM296.5 201.5h28v4h-28zM300.5 205.5h20v4h-20z"/><path fill="#ff1e00" d="M336.5 181.5h4v4h-4zM280.5 185.5h4v4h-4zM336.5 205.5h4v4h-4zM280.5 209.5h4v4h-4zM292.5 221.5h4v4h-4z"/><path fill="#ff2700" d="M340.5 181.5h4v4h-4zM276.5 185.5h4v4h-4zM276.5 209.5h4v4h-4zM324.5 221.5h4v4h-4zM296.5 225.5h4v4h-4zM316.5 225.5h4v4h-4z"/><path fill="#ff3000" d="M344.5 181.5h4v4h-4zM272.5 189.5h4v4h-4zM344.5 201.5h4v4h-4zM324.5 225.5h4v4h-4zM296.5 229.5h8v4h-8zM308.5 229.5h8v4h-8z"/><path fill="#ff3c00" d="M348.5 181.5h4v4h-4zM268.5 189.5h4v4h-4zM348.5 201.5h4v4h-4zM272.5 217.5h4v4h-4zM340.5 217.5h4v4h-4zM276.5 221.5h4v4h-4zM336.5 221.5h4v4h-4zM280.5 225.5h4v4h-4zM324.5 229.5h4v4h-4zM300.5 233.5h12v4h-12z"/><path fill="#ff4b00" d="M352.5 181.5h4v4h-4zM352.5 201.5h4v4h-4zM264.5 209.5h4v4h-4zM332.5 229.5h4v4h-4zM284.5 233.5h4v4h-4zM324.5 233.5h4v4h-4zM300.5 237.5h12v4h-12z"/><path fill="#ff5700" d="M356.5 181.5h4v4h-4zM260.5 189.5h4v4h-4zM260.5 193.5h4v4h-4zM356.5 201.5h4v4h-4zM260.5 205.5h4v4h-4zM348.5 217.5h4v4h-4z"/><path fill="#6cff00" d="M208.5 185.5h4v4h-4zM208.5 221.5h4v4h-4zM268.5 285.5h4v4h-4zM288.5 289.5h4v4h-4zM308.5 289.5h4v4h-4z"/><path fill="#8dff00" d="M212.5 185.5h4v4h-4zM216.5 233.5h4v4h-4zM220.5 241.5h4v4h-4zM228.5 253.5h4v4h-4zM288.5 285.5h4v4h-4z"/><path fill="#a8ff00" d="M216.5 185.5h4v4h-4zM216.5 221.5h4v4h-4zM220.5 233.5h4v4h-4zM224.5 241.5h4v4h-4zM236.5 257.5h4v4h-4zM268.5 277.5h4v4h-4zM332.5 277.5h4v4h-4zM284.5 281.5h4v4h-4zM316.5 281.5h4v4h-4z"/><path fill="#c6ff00" d="M220.5 185.5h4v4h-4zM356.5 261.5h4v4h-4zM260.5 269.5h4v4h-4zM332.5 273.5h4v4h-4zM284.5 277.5h4v4h-4zM316.5 277.5h4v4h-4z"/><path fill="#e1ff00" d="M224.5 185.5h4v4h-4zM240.5 249.5h4v4h-4zM244.5 253.5h4v4h-4zM356.5 257.5h4v4h-4zM332.5 269.5h4v4h-4zM284.5 273.5h4v4h-4z"/><path fill="#fcff00" d="M228.5 185.5h4v4h-4zM228.5 217.5h4v4h-4zM232.5 229.5h4v4h-4zM236.5 237.5h4v4h-4zM360.5 249.5h4v4h-4zM332.5 265.5h4v4h-4zM284.5 269.5h4v4h-4z"/><path fill="#ffea00" d="M232.5 185.5h4v4h-4zM232.5 217.5h4v4h-4zM236.5 229.5h4v4h-4zM244.5 241.5h4v4h-4zM256.5 253.5h4v4h-4zM320.5 265.5h4v4h-4z"/><path fill="#ffd200" d="M236.5 185.5h4v4h-4zM236.5 217.5h4v4h-4zM348.5 249.5h4v4h-4z"/><path fill="#ffba00" d="M240.5 185.5h4v4h-4zM248.5 233.5h4v4h-4zM272.5 253.5h4v4h-4z"/><path fill="#ffa500" d="M244.5 185.5h4v4h-4zM248.5 225.5h4v4h-4zM356.5 233.5h4v4h-4zM352.5 237.5h4v4h-4zM272.5 249.5h4v4h-4z"/><path fill="#ff9300" d="M248.5 185.5h4v4h-4zM252.5 225.5h4v4h-4zM272.5 245.5h4v4h-4zM280.5 249.5h4v4h-4zM300.5 253.5h8v4h-8z"/><path fill="#ff7e00" d="M252.5 185.5h4v4h-4zM252.5 213.5h4v4h-4zM356.5 221.5h4v4h-4zM260.5 229.5h4v4h-4zM264.5 233.5h4v4h-4zM268.5 237.5h4v4h-4zM340.5 237.5h4v4h-4zM324.5 245.5h4v4h-4z"/><path fill="#ff3300" d="M272.5 185.5h4v4h-4zM344.5 205.5h4v4h-4zM272.5 209.5h4v4h-4zM276.5 217.5h4v4h-4zM336.5 217.5h4v4h-4zM280.5 221.5h4v4h-4zM332.5 221.5h4v4h-4zM284.5 225.5h4v4h-4zM316.5 229.5h4v4h-4z"/><path fill="#ff4800" d="M352.5 185.5h4v4h-4zM264.5 189.5h4v4h-4zM264.5 193.5h4v4h-4zM352.5 197.5h4v4h-4zM264.5 205.5h4v4h-4zM268.5 217.5h4v4h-4zM344.5 217.5h4v4h-4zM340.5 221.5h4v4h-4zM336.5 225.5h4v4h-4zM280.5 229.5h4v4h-4z"/><path fill="#ff6600" d="M360.5 185.5h4v4h-4zM256.5 193.5h4v4h-4zM360.5 197.5h4v4h-4zM256.5 205.5h4v4h-4zM264.5 225.5h4v4h-4zM272.5 233.5h4v4h-4zM320.5 241.5h4v4h-4z"/><path fill="#72ff00" d="M208.5 189.5h4v4h-4zM208.5 217.5h4v4h-4zM216.5 241.5h4v4h-4zM260.5 281.5h4v4h-4zM340.5 281.5h4v4h-4zM328.5 285.5h4v4h-4z"/><path fill="#90ff00" d="M212.5 189.5h4v4h-4zM212.5 217.5h4v4h-4zM232.5 257.5h4v4h-4zM236.5 261.5h4v4h-4zM240.5 265.5h4v4h-4zM252.5 273.5h4v4h-4zM260.5 277.5h4v4h-4zM292.5 285.5h8v4h-8zM304.5 285.5h8v4h-8z"/><path fill="#aeff00" d="M216.5 189.5h4v4h-4zM216.5 217.5h4v4h-4zM356.5 265.5h4v4h-4zM292.5 281.5h4v4h-4zM308.5 281.5h4v4h-4z"/><path fill="#ccff00" d="M220.5 189.5h4v4h-4zM220.5 213.5h4v4h-4zM224.5 229.5h4v4h-4zM236.5 249.5h4v4h-4zM348.5 265.5h4v4h-4zM340.5 269.5h4v4h-4zM272.5 273.5h4v4h-4zM292.5 277.5h4v4h-4zM308.5 277.5h4v4h-4z"/><path fill="#e7ff00" d="M224.5 189.5h4v4h-4zM224.5 213.5h4v4h-4zM360.5 253.5h4v4h-4zM348.5 261.5h4v4h-4zM340.5 265.5h4v4h-4zM272.5 269.5h4v4h-4zM288.5 273.5h4v4h-4zM312.5 273.5h4v4h-4z"/><path fill="#ffff00" d="M228.5 189.5h4v4h-4zM256.5 257.5h4v4h-4zM348.5 257.5h4v4h-4zM272.5 265.5h4v4h-4zM316.5 269.5h4v4h-4z"/><path fill="#ffe400" d="M232.5 189.5h4v4h-4zM232.5 213.5h4v4h-4zM264.5 257.5h4v4h-4zM340.5 257.5h4v4h-4zM272.5 261.5h4v4h-4zM316.5 265.5h4v4h-4z"/><path fill="#ffcc00" d="M236.5 189.5h4v4h-4zM236.5 213.5h4v4h-4zM240.5 225.5h4v4h-4zM244.5 233.5h4v4h-4zM352.5 245.5h4v4h-4zM340.5 253.5h4v4h-4z"/><path fill="#ffb700" d="M240.5 189.5h4v4h-4zM240.5 213.5h4v4h-4zM244.5 225.5h4v4h-4zM360.5 233.5h4v4h-4zM252.5 237.5h4v4h-4zM356.5 237.5h4v4h-4zM352.5 241.5h4v4h-4zM260.5 245.5h4v4h-4zM340.5 249.5h4v4h-4zM332.5 253.5h4v4h-4zM284.5 257.5h4v4h-4zM320.5 257.5h4v4h-4z"/><path fill="#ffa200" d="M244.5 189.5h4v4h-4zM244.5 213.5h4v4h-4zM340.5 245.5h4v4h-4zM332.5 249.5h4v4h-4zM284.5 253.5h4v4h-4z"/><path fill="#ff1800" d="M336.5 189.5h4v4h-4zM280.5 193.5h4v4h-4zM336.5 193.5h4v4h-4zM280.5 197.5h4v4h-4zM336.5 197.5h4v4h-4zM280.5 201.5h4v4h-4zM292.5 217.5h4v4h-4zM320.5 217.5h4v4h-4zM300.5 221.5h12v4h-12z"/><path fill="#78ff00" d="M208.5 193.5h4v4h-4zM208.5 213.5h4v4h-4z"/><path fill="#96ff00" d="M212.5 193.5h4v4h-4zM212.5 213.5h4v4h-4zM216.5 229.5h4v4h-4zM348.5 273.5h4v4h-4z"/><path fill="#b4ff00" d="M216.5 193.5h4v4h-4zM216.5 209.5h4v4h-4zM224.5 237.5h4v4h-4zM248.5 265.5h4v4h-4z"/><path fill="#cfff00" d="M220.5 193.5h4v4h-4zM228.5 237.5h4v4h-4zM240.5 253.5h4v4h-4zM244.5 257.5h4v4h-4zM360.5 257.5h4v4h-4zM328.5 273.5h4v4h-4zM296.5 277.5h12v4h-12z"/><path fill="#eaff00" d="M224.5 193.5h4v4h-4zM224.5 209.5h4v4h-4zM256.5 261.5h4v4h-4zM264.5 265.5h4v4h-4zM328.5 269.5h4v4h-4zM292.5 273.5h4v4h-4zM308.5 273.5h4v4h-4z"/><path fill="#ff9c00" d="M244.5 193.5h4v4h-4zM244.5 197.5h4v4h-4zM244.5 201.5h4v4h-4zM244.5 205.5h4v4h-4zM248.5 221.5h4v4h-4zM360.5 225.5h4v4h-4zM344.5 241.5h4v4h-4zM276.5 249.5h4v4h-4zM288.5 253.5h4v4h-4zM316.5 253.5h4v4h-4z"/><path fill="#ff8a00" d="M248.5 193.5h4v4h-4zM248.5 205.5h4v4h-4zM248.5 209.5h4v4h-4zM252.5 221.5h4v4h-4zM356.5 225.5h4v4h-4zM260.5 233.5h4v4h-4zM264.5 237.5h4v4h-4zM344.5 237.5h4v4h-4zM276.5 245.5h4v4h-4zM320.5 249.5h4v4h-4z"/><path fill="#ff7800" d="M252.5 193.5h4v4h-4zM252.5 209.5h4v4h-4zM348.5 229.5h4v4h-4zM276.5 241.5h4v4h-4zM320.5 245.5h4v4h-4z"/><path fill="#ffde00" d="M232.5 197.5h4v4h-4zM232.5 201.5h4v4h-4zM232.5 205.5h4v4h-4zM260.5 253.5h4v4h-4zM276.5 261.5h4v4h-4zM328.5 261.5h4v4h-4zM292.5 265.5h4v4h-4zM308.5 265.5h4v4h-4z"/><path fill="#ffc600" d="M236.5 197.5h4v4h-4zM236.5 201.5h4v4h-4zM236.5 205.5h4v4h-4zM252.5 241.5h4v4h-4zM256.5 245.5h4v4h-4zM276.5 257.5h4v4h-4zM328.5 257.5h4v4h-4zM292.5 261.5h4v4h-4zM312.5 261.5h4v4h-4z"/><path fill="#ffb100" d="M240.5 197.5h4v4h-4zM240.5 201.5h4v4h-4zM240.5 205.5h4v4h-4zM268.5 249.5h4v4h-4zM276.5 253.5h4v4h-4zM288.5 257.5h4v4h-4zM316.5 257.5h4v4h-4z"/><path fill="#ff8700" d="M248.5 197.5h4v4h-4zM248.5 201.5h4v4h-4zM352.5 229.5h4v4h-4zM348.5 233.5h4v4h-4zM288.5 249.5h4v4h-4zM316.5 249.5h4v4h-4z"/><path fill="#ff7500" d="M252.5 197.5h4v4h-4zM252.5 201.5h4v4h-4zM252.5 205.5h4v4h-4zM260.5 225.5h4v4h-4zM288.5 245.5h4v4h-4z"/><path fill="#fff600" d="M228.5 201.5h4v4h-4zM228.5 205.5h4v4h-4zM236.5 233.5h4v4h-4zM352.5 253.5h4v4h-4zM276.5 265.5h4v4h-4zM296.5 269.5h12v4h-12z"/><path fill="#b1ff00" d="M216.5 213.5h4v4h-4zM220.5 229.5h4v4h-4zM228.5 245.5h4v4h-4zM348.5 269.5h4v4h-4zM340.5 273.5h4v4h-4zM272.5 277.5h4v4h-4zM328.5 277.5h4v4h-4zM296.5 281.5h12v4h-12z"/><path fill="#fffc00" d="M228.5 213.5h4v4h-4zM240.5 241.5h4v4h-4zM264.5 261.5h4v4h-4zM340.5 261.5h4v4h-4zM288.5 269.5h4v4h-4zM312.5 269.5h4v4h-4z"/><path fill="#ff9000" d="M248.5 213.5h4v4h-4zM360.5 221.5h4v4h-4zM340.5 241.5h4v4h-4zM324.5 249.5h4v4h-4z"/><path fill="#c9ff00" d="M220.5 217.5h4v4h-4zM232.5 245.5h4v4h-4zM248.5 261.5h4v4h-4zM288.5 277.5h4v4h-4zM312.5 277.5h4v4h-4z"/><path fill="#e4ff00" d="M224.5 217.5h4v4h-4zM228.5 229.5h4v4h-4zM232.5 237.5h4v4h-4zM316.5 273.5h4v4h-4z"/><path fill="#ffbd00" d="M240.5 217.5h4v4h-4zM348.5 245.5h4v4h-4zM264.5 249.5h4v4h-4zM280.5 257.5h4v4h-4zM324.5 257.5h4v4h-4z"/><path fill="#ffa800" d="M244.5 217.5h4v4h-4zM360.5 229.5h4v4h-4zM252.5 233.5h4v4h-4zM256.5 237.5h4v4h-4zM260.5 241.5h4v4h-4zM348.5 241.5h4v4h-4zM280.5 253.5h4v4h-4zM324.5 253.5h4v4h-4z"/><path fill="#ff9600" d="M248.5 217.5h4v4h-4zM356.5 229.5h4v4h-4zM352.5 233.5h4v4h-4zM336.5 245.5h4v4h-4zM296.5 253.5h4v4h-4zM308.5 253.5h4v4h-4z"/><path fill="#8aff00" d="M212.5 221.5h4v4h-4zM244.5 269.5h4v4h-4zM268.5 281.5h4v4h-4zM332.5 281.5h4v4h-4zM312.5 285.5h4v4h-4z"/><path fill="#c3ff00" d="M220.5 221.5h4v4h-4zM252.5 265.5h4v4h-4zM268.5 273.5h4v4h-4z"/><path fill="#deff00" d="M224.5 221.5h4v4h-4zM236.5 245.5h4v4h-4zM248.5 257.5h4v4h-4zM260.5 265.5h4v4h-4zM268.5 269.5h4v4h-4zM320.5 273.5h4v4h-4z"/><path fill="#f6ff00" d="M228.5 221.5h4v4h-4zM356.5 253.5h4v4h-4zM260.5 261.5h4v4h-4zM344.5 261.5h4v4h-4zM268.5 265.5h4v4h-4zM280.5 269.5h4v4h-4z"/><path fill="#ffae00" d="M244.5 221.5h4v4h-4zM248.5 229.5h4v4h-4zM344.5 245.5h4v4h-4zM328.5 253.5h4v4h-4zM292.5 257.5h4v4h-4zM312.5 257.5h4v4h-4z"/><path fill="#ff5100" d="M268.5 221.5h4v4h-4zM328.5 233.5h4v4h-4zM292.5 237.5h4v4h-4zM316.5 237.5h4v4h-4z"/><path fill="#ff6000" d="M348.5 221.5h4v4h-4zM344.5 225.5h4v4h-4zM340.5 229.5h4v4h-4zM280.5 237.5h4v4h-4zM328.5 237.5h4v4h-4zM292.5 241.5h4v4h-4zM316.5 241.5h4v4h-4z"/><path fill="#ff6f00" d="M352.5 221.5h4v4h-4zM340.5 233.5h4v4h-4zM296.5 245.5h4v4h-4zM312.5 245.5h4v4h-4z"/><path fill="#9fff00" d="M216.5 225.5h4v4h-4zM228.5 249.5h4v4h-4zM256.5 273.5h4v4h-4zM336.5 277.5h4v4h-4z"/><path fill="#baff00" d="M220.5 225.5h4v4h-4zM236.5 253.5h4v4h-4zM240.5 257.5h4v4h-4zM256.5 269.5h4v4h-4zM276.5 277.5h4v4h-4zM324.5 277.5h4v4h-4z"/><path fill="#d5ff00" d="M224.5 225.5h4v4h-4zM276.5 273.5h4v4h-4z"/><path fill="#ffd500" d="M240.5 229.5h4v4h-4zM248.5 241.5h4v4h-4zM252.5 245.5h4v4h-4zM280.5 261.5h4v4h-4zM324.5 261.5h4v4h-4z"/><path fill="#51ff00" d="M208.5 233.5h4v4h-4zM340.5 285.5h4v4h-4zM328.5 289.5h4v4h-4z"/><path fill="#6fff00" d="M212.5 233.5h4v4h-4zM220.5 249.5h4v4h-4zM244.5 273.5h4v4h-4zM292.5 289.5h16v4h-16z"/><path fill="#f0ff00" d="M232.5 233.5h4v4h-4zM252.5 257.5h4v4h-4zM352.5 257.5h4v4h-4zM276.5 269.5h4v4h-4z"/><path fill="#48ff00" d="M208.5 237.5h4v4h-4zM212.5 245.5h4v4h-4zM236.5 273.5h4v4h-4zM248.5 281.5h4v4h-4zM352.5 281.5h4v4h-4zM256.5 285.5h4v4h-4zM288.5 293.5h4v4h-4zM312.5 293.5h4v4h-4z"/><path fill="#63ff00" d="M212.5 237.5h4v4h-4zM216.5 245.5h4v4h-4zM224.5 257.5h4v4h-4zM236.5 269.5h4v4h-4zM360.5 273.5h4v4h-4zM280.5 289.5h4v4h-4z"/><path fill="#81ff00" d="M216.5 237.5h4v4h-4zM360.5 269.5h4v4h-4zM248.5 273.5h4v4h-4zM320.5 285.5h4v4h-4z"/><path fill="#9cff00" d="M220.5 237.5h4v4h-4zM360.5 265.5h4v4h-4zM264.5 277.5h4v4h-4zM276.5 281.5h4v4h-4z"/><path fill="#ffed00" d="M240.5 237.5h4v4h-4zM360.5 245.5h4v4h-4zM280.5 265.5h4v4h-4z"/><path fill="#ffdb00" d="M244.5 237.5h4v4h-4zM360.5 241.5h4v4h-4zM356.5 245.5h4v4h-4zM296.5 265.5h12v4h-12z"/><path fill="#39ff00" d="M208.5 241.5h4v4h-4zM212.5 249.5h4v4h-4zM224.5 265.5h4v4h-4zM228.5 269.5h4v4h-4zM252.5 285.5h4v4h-4zM276.5 293.5h4v4h-4z"/><path fill="#57ff00" d="M212.5 241.5h4v4h-4zM356.5 277.5h4v4h-4zM252.5 281.5h4v4h-4zM348.5 281.5h4v4h-4zM324.5 289.5h4v4h-4z"/><path fill="#d8ff00" d="M232.5 241.5h4v4h-4zM352.5 261.5h4v4h-4zM336.5 269.5h4v4h-4zM324.5 273.5h4v4h-4z"/><path fill="#2aff00" d="M208.5 245.5h4v4h-4zM248.5 285.5h4v4h-4zM268.5 293.5h4v4h-4zM296.5 297.5h8v4h-8z"/><path fill="#7eff00" d="M220.5 245.5h4v4h-4zM264.5 281.5h4v4h-4zM336.5 281.5h4v4h-4z"/><path fill="#ffe700" d="M248.5 245.5h4v4h-4zM252.5 249.5h4v4h-4zM348.5 253.5h4v4h-4zM332.5 261.5h4v4h-4zM284.5 265.5h4v4h-4z"/><path fill="#ff8100" d="M280.5 245.5h4v4h-4zM296.5 249.5h16v4h-16z"/><path fill="#1bff00" d="M208.5 249.5h4v4h-4zM216.5 261.5h4v4h-4zM232.5 277.5h4v4h-4zM252.5 289.5h4v4h-4zM280.5 297.5h4v4h-4z"/><path fill="#54ff00" d="M216.5 249.5h4v4h-4zM244.5 277.5h4v4h-4zM260.5 285.5h4v4h-4zM272.5 289.5h4v4h-4z"/><path fill="#87ff00" d="M224.5 249.5h4v4h-4zM284.5 285.5h4v4h-4zM316.5 285.5h4v4h-4z"/><path fill="#09ff00" d="M208.5 253.5h4v4h-4zM248.5 289.5h4v4h-4z"/><path fill="#27ff00" d="M212.5 253.5h4v4h-4zM352.5 285.5h4v4h-4zM256.5 289.5h4v4h-4zM292.5 297.5h4v4h-4zM304.5 297.5h8v4h-8z"/><path fill="#42ff00" d="M216.5 253.5h4v4h-4zM240.5 277.5h4v4h-4zM316.5 293.5h4v4h-4z"/><path fill="#75ff00" d="M224.5 253.5h4v4h-4zM240.5 269.5h4v4h-4zM356.5 273.5h4v4h-4zM252.5 277.5h4v4h-4zM348.5 277.5h4v4h-4zM272.5 285.5h4v4h-4z"/><path fill="#a5ff00" d="M232.5 253.5h4v4h-4zM240.5 261.5h4v4h-4z"/><path fill="#ffcf00" d="M264.5 253.5h4v4h-4zM272.5 257.5h4v4h-4zM332.5 257.5h4v4h-4zM284.5 261.5h4v4h-4zM320.5 261.5h4v4h-4z"/><path fill="#ffc000" d="M336.5 253.5h4v4h-4z"/><path fill="#00ff09" d="M208.5 257.5h4v4h-4zM252.5 293.5h4v4h-4zM280.5 301.5h4v4h-4zM316.5 301.5h4v4h-4z"/><path fill="#15ff00" d="M212.5 257.5h4v4h-4zM356.5 285.5h4v4h-4zM276.5 297.5h4v4h-4z"/><path fill="#30ff00" d="M216.5 257.5h4v4h-4zM340.5 289.5h4v4h-4z"/><path fill="#4bff00" d="M220.5 257.5h4v4h-4zM268.5 289.5h4v4h-4zM292.5 293.5h4v4h-4zM308.5 293.5h4v4h-4z"/><path fill="#00ff1e" d="M208.5 261.5h4v4h-4zM256.5 297.5h4v4h-4zM268.5 301.5h4v4h-4zM328.5 301.5h4v4h-4z"/><path fill="#00ff00" d="M212.5 261.5h4v4h-4zM288.5 301.5h4v4h-4zM308.5 301.5h4v4h-4z"/><path fill="#36ff00" d="M220.5 261.5h4v4h-4zM244.5 281.5h4v4h-4zM356.5 281.5h4v4h-4zM348.5 285.5h4v4h-4zM260.5 289.5h4v4h-4zM324.5 293.5h4v4h-4z"/><path fill="#4eff00" d="M224.5 261.5h4v4h-4zM228.5 265.5h4v4h-4zM232.5 269.5h4v4h-4zM296.5 293.5h12v4h-12z"/><path fill="#00ff33" d="M208.5 265.5h4v4h-4zM356.5 293.5h4v4h-4zM260.5 301.5h4v4h-4z"/><path fill="#00ff18" d="M212.5 265.5h4v4h-4zM228.5 281.5h4v4h-4zM240.5 289.5h4v4h-4zM248.5 293.5h4v4h-4zM324.5 301.5h4v4h-4z"/><path fill="#06ff00" d="M216.5 265.5h4v4h-4zM220.5 269.5h4v4h-4zM224.5 273.5h4v4h-4zM240.5 285.5h4v4h-4zM256.5 293.5h4v4h-4zM268.5 297.5h4v4h-4zM328.5 297.5h4v4h-4z"/><path fill="#1eff00" d="M220.5 265.5h4v4h-4zM228.5 273.5h4v4h-4zM264.5 293.5h4v4h-4zM316.5 297.5h4v4h-4z"/><path fill="#bdff00" d="M352.5 265.5h4v4h-4zM336.5 273.5h4v4h-4z"/><path fill="#00ff4b" d="M208.5 269.5h4v4h-4zM236.5 293.5h4v4h-4zM244.5 297.5h4v4h-4zM292.5 309.5h12v4h-12z"/><path fill="#00ff2d" d="M212.5 269.5h4v4h-4zM216.5 273.5h4v4h-4zM220.5 277.5h4v4h-4z"/><path fill="#00ff12" d="M216.5 269.5h4v4h-4zM220.5 273.5h4v4h-4zM348.5 293.5h4v4h-4z"/><path fill="#21ff00" d="M224.5 269.5h4v4h-4zM344.5 289.5h4v4h-4zM332.5 293.5h4v4h-4zM284.5 297.5h4v4h-4zM312.5 297.5h4v4h-4z"/><path fill="#abff00" d="M252.5 269.5h4v4h-4zM260.5 273.5h4v4h-4zM288.5 281.5h4v4h-4zM312.5 281.5h4v4h-4z"/><path fill="#f9ff00" d="M320.5 269.5h4v4h-4z"/><path fill="#93ff00" d="M356.5 269.5h4v4h-4zM340.5 277.5h4v4h-4zM272.5 281.5h4v4h-4zM328.5 281.5h4v4h-4zM300.5 285.5h4v4h-4z"/><path fill="#00ff63" d="M208.5 273.5h4v4h-4zM216.5 281.5h4v4h-4zM272.5 309.5h4v4h-4z"/><path fill="#00ff48" d="M212.5 273.5h4v4h-4zM220.5 281.5h4v4h-4zM352.5 297.5h4v4h-4zM328.5 305.5h4v4h-4z"/><path fill="#33ff00" d="M232.5 273.5h4v4h-4zM272.5 293.5h4v4h-4z"/><path fill="#00ff7e" d="M208.5 277.5h4v4h-4zM212.5 281.5h4v4h-4zM216.5 285.5h4v4h-4zM240.5 301.5h4v4h-4zM312.5 313.5h4v4h-4z"/><path fill="#00ff60" d="M212.5 277.5h4v4h-4zM232.5 293.5h4v4h-4zM320.5 309.5h4v4h-4z"/><path fill="#00ff45" d="M216.5 277.5h4v4h-4zM360.5 293.5h4v4h-4zM268.5 305.5h4v4h-4z"/><path fill="#00ff15" d="M224.5 277.5h4v4h-4zM272.5 301.5h4v4h-4z"/><path fill="#03ff00" d="M228.5 277.5h4v4h-4zM360.5 285.5h4v4h-4zM352.5 289.5h4v4h-4zM292.5 301.5h16v4h-16z"/><path fill="#2dff00" d="M236.5 277.5h4v4h-4zM328.5 293.5h4v4h-4z"/><path fill="#45ff00" d="M360.5 277.5h4v4h-4zM344.5 285.5h4v4h-4zM332.5 289.5h4v4h-4zM284.5 293.5h4v4h-4z"/><path fill="#00ff99" d="M208.5 281.5h4v4h-4zM212.5 285.5h4v4h-4zM228.5 297.5h4v4h-4z"/><path fill="#00ff30" d="M224.5 281.5h4v4h-4zM280.5 305.5h4v4h-4zM316.5 305.5h4v4h-4z"/><path fill="#00ff03" d="M232.5 281.5h4v4h-4zM344.5 293.5h4v4h-4zM332.5 297.5h4v4h-4zM284.5 301.5h4v4h-4zM312.5 301.5h4v4h-4z"/><path fill="#12ff00" d="M236.5 281.5h4v4h-4zM348.5 289.5h4v4h-4zM260.5 293.5h4v4h-4z"/><path fill="#24ff00" d="M240.5 281.5h4v4h-4zM360.5 281.5h4v4h-4zM288.5 297.5h4v4h-4z"/><path fill="#00ffb7" d="M208.5 285.5h4v4h-4zM212.5 289.5h4v4h-4zM236.5 305.5h4v4h-4zM256.5 313.5h4v4h-4zM272.5 317.5h4v4h-4zM320.5 317.5h4v4h-4z"/><path fill="#00ff66" d="M220.5 285.5h4v4h-4zM256.5 305.5h4v4h-4z"/><path fill="#00ff4e" d="M224.5 285.5h4v4h-4zM252.5 301.5h4v4h-4zM344.5 301.5h4v4h-4zM264.5 305.5h4v4h-4zM288.5 309.5h4v4h-4zM304.5 309.5h4v4h-4z"/><path fill="#00ff36" d="M228.5 285.5h4v4h-4zM348.5 297.5h4v4h-4zM336.5 301.5h4v4h-4zM276.5 305.5h4v4h-4zM320.5 305.5h4v4h-4z"/><path fill="#00ff21" d="M232.5 285.5h4v4h-4zM360.5 289.5h4v4h-4zM352.5 293.5h4v4h-4z"/><path fill="#00ff0c" d="M236.5 285.5h4v4h-4z"/><path fill="#18ff00" d="M244.5 285.5h4v4h-4zM336.5 293.5h4v4h-4zM320.5 297.5h4v4h-4z"/><path fill="#60ff00" d="M264.5 285.5h4v4h-4zM320.5 289.5h4v4h-4z"/><path fill="#69ff00" d="M332.5 285.5h4v4h-4zM312.5 289.5h4v4h-4z"/><path fill="#00ffd5" d="M208.5 289.5h4v4h-4zM260.5 317.5h4v4h-4z"/><path fill="#00ff9f" d="M216.5 289.5h4v4h-4zM264.5 313.5h4v4h-4z"/><path fill="#00ff84" d="M220.5 289.5h4v4h-4zM232.5 297.5h4v4h-4zM248.5 305.5h4v4h-4zM316.5 313.5h4v4h-4z"/><path fill="#00ff6c" d="M224.5 289.5h4v4h-4zM360.5 297.5h4v4h-4zM268.5 309.5h4v4h-4z"/><path fill="#00ff54" d="M228.5 289.5h4v4h-4zM312.5 309.5h4v4h-4z"/><path fill="#00ff3f" d="M232.5 289.5h4v4h-4zM324.5 305.5h4v4h-4z"/><path fill="#00ff2a" d="M236.5 289.5h4v4h-4zM252.5 297.5h4v4h-4zM264.5 301.5h4v4h-4zM332.5 301.5h4v4h-4zM284.5 305.5h4v4h-4zM312.5 305.5h4v4h-4z"/><path fill="#00ff06" d="M244.5 289.5h4v4h-4zM264.5 297.5h4v4h-4z"/><path fill="#3fff00" d="M264.5 289.5h4v4h-4zM280.5 293.5h4v4h-4z"/><path fill="#5aff00" d="M276.5 289.5h4v4h-4z"/><path fill="#3cff00" d="M336.5 289.5h4v4h-4zM320.5 293.5h4v4h-4z"/><path fill="#00ff0f" d="M356.5 289.5h4v4h-4zM260.5 297.5h4v4h-4zM336.5 297.5h4v4h-4zM276.5 301.5h4v4h-4zM320.5 301.5h4v4h-4z"/><path fill="#00fff3" d="M208.5 293.5h4v4h-4zM232.5 309.5h4v4h-4zM240.5 313.5h4v4h-4z"/><path fill="#00ffd8" d="M212.5 293.5h4v4h-4zM280.5 321.5h4v4h-4zM312.5 321.5h4v4h-4z"/><path fill="#00ffbd" d="M216.5 293.5h4v4h-4zM360.5 305.5h4v4h-4zM340.5 313.5h4v4h-4zM324.5 317.5h4v4h-4z"/><path fill="#00ffa5" d="M220.5 293.5h4v4h-4zM232.5 301.5h4v4h-4zM240.5 305.5h4v4h-4zM332.5 313.5h4v4h-4zM308.5 317.5h4v4h-4z"/><path fill="#00ff8d" d="M224.5 293.5h4v4h-4zM256.5 309.5h4v4h-4zM272.5 313.5h4v4h-4z"/><path fill="#00ff75" d="M228.5 293.5h4v4h-4zM252.5 305.5h4v4h-4zM292.5 313.5h12v4h-12z"/><path fill="#00ff39" d="M240.5 293.5h4v4h-4zM248.5 297.5h4v4h-4z"/><path fill="#00ff27" d="M244.5 293.5h4v4h-4zM344.5 297.5h4v4h-4zM288.5 305.5h4v4h-4zM308.5 305.5h4v4h-4z"/><path fill="#0cff00" d="M340.5 293.5h4v4h-4z"/><path fill="#00edff" d="M208.5 297.5h4v4h-4z"/><path fill="#00fff9" d="M212.5 297.5h4v4h-4zM344.5 317.5h4v4h-4z"/><path fill="#00ffe1" d="M216.5 297.5h4v4h-4zM228.5 305.5h4v4h-4zM244.5 313.5h4v4h-4zM256.5 317.5h4v4h-4z"/><path fill="#00ffc6" d="M220.5 297.5h4v4h-4z"/><path fill="#00ffae" d="M224.5 297.5h4v4h-4z"/><path fill="#00ff6f" d="M236.5 297.5h4v4h-4zM244.5 301.5h4v4h-4zM352.5 301.5h4v4h-4z"/><path fill="#00ff5d" d="M240.5 297.5h4v4h-4zM248.5 301.5h4v4h-4zM348.5 301.5h4v4h-4zM336.5 305.5h4v4h-4zM276.5 309.5h4v4h-4z"/><path fill="#0fff00" d="M272.5 297.5h4v4h-4zM324.5 297.5h4v4h-4z"/><path fill="#00ff1b" d="M340.5 297.5h4v4h-4z"/><path fill="#00ff5a" d="M356.5 297.5h4v4h-4zM260.5 305.5h4v4h-4zM316.5 309.5h4v4h-4z"/><path fill="#00d2ff" d="M208.5 301.5h4v4h-4zM244.5 321.5h4v4h-4zM348.5 321.5h4v4h-4zM256.5 325.5h4v4h-4zM312.5 329.5h4v4h-4z"/><path fill="#00e7ff" d="M212.5 301.5h4v4h-4zM224.5 309.5h4v4h-4zM240.5 317.5h4v4h-4z"/><path fill="#00fcff" d="M216.5 301.5h4v4h-4zM284.5 325.5h4v4h-4zM308.5 325.5h4v4h-4z"/><path fill="#00ffea" d="M220.5 301.5h4v4h-4zM340.5 317.5h4v4h-4z"/><path fill="#00ffd2" d="M224.5 301.5h4v4h-4zM356.5 309.5h4v4h-4zM248.5 313.5h4v4h-4zM332.5 317.5h4v4h-4zM284.5 321.5h4v4h-4zM308.5 321.5h4v4h-4z"/><path fill="#00ffba" d="M228.5 301.5h4v4h-4zM244.5 309.5h4v4h-4z"/><path fill="#00ff93" d="M236.5 301.5h4v4h-4zM360.5 301.5h4v4h-4zM244.5 305.5h4v4h-4zM340.5 309.5h4v4h-4zM324.5 313.5h4v4h-4z"/><path fill="#00ff42" d="M256.5 301.5h4v4h-4zM340.5 301.5h4v4h-4z"/><path fill="#00ff81" d="M356.5 301.5h4v4h-4zM260.5 309.5h4v4h-4zM280.5 313.5h4v4h-4z"/><path fill="#00b4ff" d="M208.5 305.5h4v4h-4zM220.5 313.5h4v4h-4zM260.5 329.5h4v4h-4z"/><path fill="#00c9ff" d="M212.5 305.5h4v4h-4zM224.5 313.5h4v4h-4zM232.5 317.5h4v4h-4zM320.5 329.5h4v4h-4z"/><path fill="#00deff" d="M216.5 305.5h4v4h-4zM248.5 321.5h4v4h-4zM344.5 321.5h4v4h-4z"/><path fill="#00f3ff" d="M220.5 305.5h4v4h-4z"/><path fill="#00fff6" d="M224.5 305.5h4v4h-4zM264.5 321.5h4v4h-4zM328.5 321.5h4v4h-4z"/><path fill="#00ffcc" d="M232.5 305.5h4v4h-4zM240.5 309.5h4v4h-4zM344.5 313.5h4v4h-4zM296.5 321.5h4v4h-4z"/><path fill="#00ff3c" d="M272.5 305.5h4v4h-4z"/><path fill="#00ff24" d="M292.5 305.5h16v4h-16z"/><path fill="#00ff51" d="M332.5 305.5h4v4h-4zM284.5 309.5h4v4h-4zM308.5 309.5h4v4h-4z"/><path fill="#00ff69" d="M340.5 305.5h4v4h-4zM324.5 309.5h4v4h-4z"/><path fill="#00ff78" d="M344.5 305.5h4v4h-4zM264.5 309.5h4v4h-4zM288.5 313.5h4v4h-4zM304.5 313.5h4v4h-4z"/><path fill="#00ff87" d="M348.5 305.5h4v4h-4zM336.5 309.5h4v4h-4zM276.5 313.5h4v4h-4z"/><path fill="#00ff96" d="M352.5 305.5h4v4h-4zM268.5 313.5h4v4h-4z"/><path fill="#00ffa8" d="M356.5 305.5h4v4h-4zM284.5 317.5h4v4h-4z"/><path fill="#0096ff" d="M208.5 309.5h4v4h-4zM220.5 317.5h4v4h-4zM228.5 321.5h4v4h-4zM248.5 329.5h4v4h-4z"/><path fill="#00abff" d="M212.5 309.5h4v4h-4zM256.5 329.5h4v4h-4z"/><path fill="#00c0ff" d="M216.5 309.5h4v4h-4z"/><path fill="#00d5ff" d="M220.5 309.5h4v4h-4zM280.5 329.5h4v4h-4z"/><path fill="#00f9ff" d="M228.5 309.5h4v4h-4zM236.5 313.5h4v4h-4zM280.5 325.5h4v4h-4zM312.5 325.5h4v4h-4z"/><path fill="#00ffde" d="M236.5 309.5h4v4h-4zM336.5 317.5h4v4h-4zM276.5 321.5h4v4h-4zM316.5 321.5h4v4h-4z"/><path fill="#00ffab" d="M248.5 309.5h4v4h-4zM260.5 313.5h4v4h-4zM280.5 317.5h4v4h-4zM312.5 317.5h4v4h-4z"/><path fill="#00ff9c" d="M252.5 309.5h4v4h-4zM328.5 313.5h4v4h-4z"/><path fill="#00ff57" d="M280.5 309.5h4v4h-4z"/><path fill="#00ff72" d="M328.5 309.5h4v4h-4z"/><path fill="#00ff7b" d="M332.5 309.5h4v4h-4zM284.5 313.5h4v4h-4zM308.5 313.5h4v4h-4z"/><path fill="#00ffa2" d="M344.5 309.5h4v4h-4zM288.5 317.5h20v4h-20z"/><path fill="#00ffb1" d="M348.5 309.5h4v4h-4zM336.5 313.5h4v4h-4zM276.5 317.5h4v4h-4zM316.5 317.5h4v4h-4z"/><path fill="#00ffc0" d="M352.5 309.5h4v4h-4zM268.5 317.5h4v4h-4z"/><path fill="#00ffe7" d="M360.5 309.5h4v4h-4z"/><path fill="#0078ff" d="M208.5 313.5h4v4h-4zM352.5 329.5h4v4h-4z"/><path fill="#008dff" d="M212.5 313.5h4v4h-4z"/><path fill="#00a2ff" d="M216.5 313.5h4v4h-4zM240.5 325.5h4v4h-4zM252.5 329.5h4v4h-4z"/><path fill="#00d8ff" d="M228.5 313.5h4v4h-4zM236.5 317.5h4v4h-4zM332.5 325.5h4v4h-4zM284.5 329.5h4v4h-4zM308.5 329.5h4v4h-4z"/><path fill="#00eaff" d="M232.5 313.5h4v4h-4zM352.5 317.5h4v4h-4zM252.5 321.5h4v4h-4zM340.5 321.5h4v4h-4zM268.5 325.5h4v4h-4zM324.5 325.5h4v4h-4z"/><path fill="#00ffc3" d="M252.5 313.5h4v4h-4z"/><path fill="#00ff8a" d="M320.5 313.5h4v4h-4z"/><path fill="#00ffdb" d="M348.5 313.5h4v4h-4z"/><path fill="#00ffed" d="M352.5 313.5h4v4h-4zM252.5 317.5h4v4h-4zM268.5 321.5h4v4h-4zM324.5 321.5h4v4h-4z"/><path fill="#00ffff" d="M356.5 313.5h4v4h-4zM260.5 321.5h4v4h-4zM332.5 321.5h4v4h-4zM288.5 325.5h4v4h-4zM304.5 325.5h4v4h-4z"/><path fill="#00f0ff" d="M360.5 313.5h4v4h-4zM272.5 325.5h4v4h-4zM320.5 325.5h4v4h-4z"/><path fill="#0057ff" d="M208.5 317.5h4v4h-4z"/><path fill="#006cff" d="M212.5 317.5h4v4h-4z"/><path fill="#0081ff" d="M216.5 317.5h4v4h-4zM360.5 325.5h4v4h-4z"/><path fill="#00a8ff" d="M224.5 317.5h4v4h-4zM232.5 321.5h4v4h-4zM360.5 321.5h4v4h-4zM336.5 329.5h4v4h-4z"/><path fill="#00baff" d="M228.5 317.5h4v4h-4zM248.5 325.5h4v4h-4zM344.5 325.5h4v4h-4zM328.5 329.5h4v4h-4z"/><path fill="#00f6ff" d="M244.5 317.5h4v4h-4zM348.5 317.5h4v4h-4zM256.5 321.5h4v4h-4zM336.5 321.5h4v4h-4zM276.5 325.5h4v4h-4zM316.5 325.5h4v4h-4z"/><path fill="#00fffc" d="M248.5 317.5h4v4h-4zM292.5 325.5h12v4h-12z"/><path fill="#00ffc9" d="M264.5 317.5h4v4h-4zM328.5 317.5h4v4h-4z"/><path fill="#00dbff" d="M356.5 317.5h4v4h-4zM260.5 325.5h4v4h-4zM288.5 329.5h20v4h-20z"/><path fill="#00ccff" d="M360.5 317.5h4v4h-4zM272.5 329.5h4v4h-4z"/><path fill="#0036ff" d="M208.5 321.5h4v4h-4z"/><path fill="#004bff" d="M212.5 321.5h4v4h-4z"/><path fill="#0060ff" d="M216.5 321.5h4v4h-4zM232.5 329.5h4v4h-4z"/><path fill="#0072ff" d="M220.5 321.5h4v4h-4z"/><path fill="#0084ff" d="M224.5 321.5h4v4h-4zM232.5 325.5h4v4h-4z"/><path fill="#00b7ff" d="M236.5 321.5h4v4h-4zM356.5 321.5h4v4h-4z"/><path fill="#00c6ff" d="M240.5 321.5h4v4h-4zM352.5 321.5h4v4h-4zM252.5 325.5h4v4h-4zM340.5 325.5h4v4h-4zM268.5 329.5h4v4h-4z"/><path fill="#00ffe4" d="M272.5 321.5h4v4h-4zM320.5 321.5h4v4h-4z"/><path fill="#00ffcf" d="M288.5 321.5h8v4h-8zM300.5 321.5h8v4h-8z"/><path fill="#0012ff" d="M208.5 325.5h4v4h-4z"/><path fill="#0027ff" d="M212.5 325.5h4v4h-4z"/><path fill="#003cff" d="M216.5 325.5h4v4h-4z"/><path fill="#0051ff" d="M220.5 325.5h4v4h-4z"/><path fill="#0063ff" d="M224.5 325.5h4v4h-4z"/><path fill="#0075ff" d="M228.5 325.5h4v4h-4z"/><path fill="#0093ff" d="M236.5 325.5h4v4h-4zM344.5 329.5h4v4h-4z"/><path fill="#00aeff" d="M244.5 325.5h4v4h-4zM348.5 325.5h4v4h-4z"/><path fill="#00e4ff" d="M264.5 325.5h4v4h-4z"/><path fill="#00e1ff" d="M328.5 325.5h4v4h-4z"/><path fill="#00cfff" d="M336.5 325.5h4v4h-4zM276.5 329.5h4v4h-4zM316.5 329.5h4v4h-4z"/><path fill="#009fff" d="M352.5 325.5h4v4h-4zM340.5 329.5h4v4h-4z"/><path fill="#0090ff" d="M356.5 325.5h4v4h-4z"/><path fill="#0000ff" d="M208.5 329.5h4v4h-4z"/><path fill="#0006ff" d="M212.5 329.5h4v4h-4z"/><path fill="#0018ff" d="M216.5 329.5h4v4h-4z"/><path fill="#002dff" d="M220.5 329.5h4v4h-4z"/><path fill="#003fff" d="M224.5 329.5h4v4h-4z"/><path fill="#004eff" d="M228.5 329.5h4v4h-4z"/><path fill="#006fff" d="M236.5 329.5h4v4h-4z"/><path fill="#007eff" d="M240.5 329.5h4v4h-4z"/><path fill="#008aff" d="M244.5 329.5h4v4h-4z"/><path fill="#00bdff" d="M264.5 329.5h4v4h-4z"/><path fill="#00c3ff" d="M324.5 329.5h4v4h-4z"/><path fill="#00b1ff" d="M332.5 329.5h4v4h-4z"/><path fill="#0087ff" d="M348.5 329.5h4v4h-4z"/><path fill="#0069ff" d="M356.5 329.5h4v4h-4z"/><path fill="#005aff" d="M360.5 329.5h4v4h-4z"/></g></g>
<path d="M352.84 324.5 354.81 323.78 355.5 323.52M216.5 310.08 218.31 311.3 219.97 312.37 221.58 313.38 223.45 314.51 225.07 315.47 226.92 316.51 228.83 317.55 230.4 318.37 232.49 319.43 234.35 320.33 235.96 321.09 238.05 322.02 240.13 322.92 242.22 323.78 244.05 324.5M216.5 283.47 217.89 284.76 219.28 286 220.67 287.2 222.06 288.36 223.78 289.75 225.53 291.1 226.93 292.13 228.45 293.23 230.4 294.57 231.79 295.49 233.68 296.7 235.26 297.67 237.16 298.78 238.74 299.68 240.83 300.81 242.29 301.56 244.3 302.57 246.38 303.55 248.14 304.35 249.86 305.09 251.94 305.95 254.03 306.76 256.12 307.53 258.2 308.26 260.29 308.94 262.37 309.58 264.45 310.18 266.54 310.75 268.73 311.3 271.4 311.91 273.49 312.35 275.57 312.75 278.36 313.23 280.44 313.55 283.22 313.92 285.31 314.16 288.09 314.42 290.87 314.63 293.56 314.77 295.73 314.85 298.51 314.89 301.29 314.88 304.07 314.81 306.15 314.72 308.94 314.56 311.72 314.33 314.3 314.08 316.58 313.81 319.36 313.43 321.44 313.11 323.9 312.69 326.31 312.23 328.39 311.8 330.67 311.3 333.26 310.67 335.35 310.13 337.43 309.56 339.51 308.95 341.6 308.31 343.69 307.63 345.77 306.92 347.86 306.18 349.94 305.39 352.02 304.57 354.11 303.71 355.5 303.12M216.5 240.66 217.37 242.49 218.43 244.57 219.28 246.16 220.36 248.05 221.37 249.71 222.53 251.52 223.46 252.91 224.84 254.86 225.98 256.39 227.07 257.78 228.31 259.3 229.7 260.91 231.09 262.44 232.49 263.91 233.88 265.3 235.26 266.63 236.66 267.91 238.05 269.13 239.44 270.3 241.16 271.68 242.91 273.02 244.3 274.03 245.92 275.15 247.78 276.38 249.16 277.26 251.25 278.51 252.67 279.32 254.72 280.44 256.63 281.41 258.2 282.17 260.29 283.13 262.37 284.02 264.45 284.86 266.36 285.58 268.33 286.27 270.45 286.97 272.76 287.66 274.88 288.25 276.96 288.78 279.05 289.26 281.42 289.75 283.91 290.2 286 290.53 288.78 290.91 290.88 291.14 293.64 291.38 296.43 291.55 299.2 291.65 301.99 291.67 304.76 291.62 307.55 291.51 310.32 291.32 312.41 291.13 315.19 290.82 317.95 290.44 320.06 290.11 322.14 289.74 324.92 289.18 327 288.71 329.09 288.2 331.18 287.65 333.57 286.97 335.82 286.27 337.93 285.58 339.91 284.88 341.78 284.19 343.69 283.45 345.77 282.58 347.86 281.68 349.94 280.72 351.4 280.02 353.41 279.01 355.47 277.94 355.5 277.92M245.18 185.5 244.59 187.59 244.08 189.67 243.6 191.97 243.18 194.53 242.91 196.73 242.69 199.4 242.59 202.18 242.62 204.96 242.79 207.74 243 209.82 243.41 212.6 243.81 214.69 244.3 216.79 245 219.29 245.69 221.42 246.38 223.31 247.13 225.12 248.08 227.2 249.14 229.28 249.91 230.68 251.16 232.76 252.07 234.15 253.34 235.94 254.63 237.62 255.77 239.01 256.99 240.41 258.29 241.8 259.69 243.19 261.19 244.57 262.8 245.96 264.45 247.29 265.85 248.33 267.43 249.44 269.32 250.67 270.74 251.52 272.8 252.68 274.61 253.61 276.27 254.4 278.36 255.31 280.44 256.13 282.52 256.87 284.61 257.54 286.69 258.13 288.78 258.64 291.29 259.17 293.64 259.58 295.73 259.87 298.51 260.16 301.29 260.34 304.07 260.41 306.85 260.38 309.63 260.23 312.41 259.99 314.5 259.73 317.27 259.3 319.36 258.91 321.44 258.46 324.13 257.78 326.31 257.16 328.39 256.49 330.48 255.76 332.48 255 334.17 254.31 336.04 253.48 338.12 252.49 340.02 251.52 341.6 250.67 343.69 249.46 345.08 248.61 347.01 247.35 348.55 246.29 349.96 245.27 351.78 243.88 353.41 242.55 354.81 241.37 355.5 240.75" fill="none" stroke="#000" stroke-opacity="0.62" stroke-width="0.9" stroke-linejoin="round" clip-path="url(#c5)"/>
<rect x="216.5" y="185.5" width="139" height="139" fill="none" stroke="#3a3020" stroke-opacity="0.75" stroke-width="0.6"/>
<text x="216.5" y="335.2" font-size="4.94" text-anchor="middle">90.00</text>
<text x="239.67" y="335.2" font-size="4.94" text-anchor="middle">100.00</text>
<text x="262.83" y="335.2" font-size="4.94" text-anchor="middle">110.00</text>
<text x="286" y="335.2" font-size="4.94" text-anchor="middle">120.00</text>
<text x="309.17" y="335.2" font-size="4.94" text-anchor="middle">130.00</text>
<text x="332.33" y="335.2" font-size="4.94" text-anchor="middle">140.00</text>
<text x="355.5" y="335.2" font-size="4.94" text-anchor="middle">150.00</text>
<text x="286" y="344.3" font-size="5.23" text-anchor="middle">B: Time (min)</text>
<text x="211.6" y="326.28" font-size="4.94" text-anchor="end">0.40</text>
<text x="211.6" y="291.53" font-size="4.94" text-anchor="end">0.50</text>
<text x="211.6" y="256.78" font-size="4.94" text-anchor="end">0.60</text>
<text x="211.6" y="222.03" font-size="4.94" text-anchor="end">0.70</text>
<text x="211.6" y="187.28" font-size="4.94" text-anchor="end">0.80</text>
<path d="M216.5 324.5v3M239.67 324.5v3M262.83 324.5v3M286 324.5v3M309.17 324.5v3M332.33 324.5v3M355.5 324.5v3M216.5 324.5h-3.5M216.5 289.75h-3.5M216.5 255h-3.5M216.5 220.25h-3.5M216.5 185.5h-3.5" stroke="#444" stroke-width="0.5" fill="none"/>
<text transform="translate(196.8 255.5) rotate(-90)" font-size="5.23" text-anchor="middle">D: Enzyme concentration (%)</text>
<text x="286" y="182.5" font-size="5.68" text-anchor="middle">Yield(mg/g)</text>
<circle cx="216.5" cy="185.5" r="1.6" fill="#860a14"/>
<circle cx="355.5" cy="185.5" r="1.6" fill="#860a14"/>
<circle cx="216.5" cy="324.5" r="1.6" fill="#860a14"/>
<circle cx="355.5" cy="324.5" r="1.6" fill="#860a14"/>
<circle cx="286" cy="255" r="1.6" fill="#860a14"/>
<text x="283.2" y="256.8" font-size="5" text-anchor="end" fill="#4a2c2c">5</text>
<rect x="271.7" y="248.3" width="7.2" height="7.2" fill="#fbfbff" stroke="#55553c" stroke-width="0.6"/><text x="275.3" y="253.75" font-size="5.1" text-anchor="middle" fill="#3c3c6a">68</text>
<rect x="268.2" y="281" width="7.2" height="7.2" fill="#fbfbff" stroke="#55553c" stroke-width="0.6"/><text x="271.8" y="286.45" font-size="5.1" text-anchor="middle" fill="#3c3c6a">66</text>
<rect x="275" y="306.5" width="7.2" height="7.2" fill="#fbfbff" stroke="#55553c" stroke-width="0.6"/><text x="278.6" y="311.95" font-size="5.1" text-anchor="middle" fill="#3c3c6a">64</text>
<rect x="224.9" y="310.4" width="7.2" height="7.2" fill="#fbfbff" stroke="#55553c" stroke-width="0.6"/><text x="228.5" y="315.85" font-size="5.1" text-anchor="middle" fill="#3c3c6a">62</text>
<g clip-path="url(#c6)"><g filter="url(#bl)" shape-rendering="crispEdges"><path fill="#abff00" d="M394 179h4v4h-4zM394 219h4v4h-4zM530 271h4v4h-4zM522 275h4v4h-4zM510 279h4v4h-4z"/><path fill="#c6ff00" d="M398 179h4v4h-4zM398 219h4v4h-4zM410 243h4v4h-4zM542 259h4v4h-4zM430 263h4v4h-4zM530 267h4v4h-4zM522 271h4v4h-4zM478 279h4v4h-4zM486 279h8v4h-8z"/><path fill="#deff00" d="M402 179h4v4h-4zM402 219h4v4h-4zM414 243h4v4h-4zM530 263h4v4h-4zM454 271h4v4h-4zM470 275h4v4h-4z"/><path fill="#f9ff00" d="M406 179h4v4h-4zM438 259h4v4h-4zM522 263h4v4h-4zM454 267h4v4h-4zM470 271h4v4h-4zM498 271h4v4h-4z"/><path fill="#fff000" d="M410 179h4v4h-4zM410 219h4v4h-4zM514 263h4v4h-4zM466 267h4v4h-4zM502 267h4v4h-4z"/><path fill="#ffd800" d="M414 179h4v4h-4zM414 219h4v4h-4zM538 243h4v4h-4zM522 255h4v4h-4zM514 259h4v4h-4zM502 263h4v4h-4z"/><path fill="#ffc300" d="M418 179h4v4h-4zM418 219h4v4h-4zM422 227h4v4h-4zM430 239h4v4h-4zM434 243h4v4h-4zM522 251h4v4h-4zM514 255h4v4h-4z"/><path fill="#ffae00" d="M422 179h4v4h-4zM546 183h4v4h-4zM546 215h4v4h-4zM426 227h4v4h-4zM538 231h4v4h-4zM446 247h4v4h-4zM514 251h4v4h-4zM462 255h4v4h-4z"/><path fill="#ff9c00" d="M426 179h4v4h-4zM422 195h4v4h-4zM422 199h4v4h-4zM422 203h4v4h-4zM542 215h4v4h-4zM426 219h4v4h-4zM534 231h4v4h-4zM530 235h4v4h-4zM526 239h4v4h-4zM446 243h4v4h-4zM514 247h4v4h-4zM462 251h4v4h-4zM506 251h4v4h-4zM482 255h8v4h-8z"/><path fill="#ff8a00" d="M430 179h4v4h-4zM426 195h4v4h-4zM426 199h4v4h-4zM426 203h4v4h-4zM538 215h4v4h-4zM438 231h4v4h-4zM442 235h4v4h-4zM446 239h4v4h-4zM514 243h4v4h-4zM506 247h4v4h-4zM478 251h16v4h-16z"/><path fill="#ff7b00" d="M434 179h4v4h-4zM430 191h4v4h-4zM430 207h4v4h-4zM434 219h4v4h-4zM442 231h4v4h-4zM494 247h4v4h-4z"/><path fill="#ff6c00" d="M438 179h4v4h-4zM434 191h4v4h-4zM534 195h4v4h-4zM534 199h4v4h-4zM534 203h4v4h-4zM434 207h4v4h-4zM438 219h4v4h-4zM526 223h4v4h-4zM514 235h4v4h-4zM470 243h4v4h-4zM498 243h4v4h-4z"/><path fill="#ff5d00" d="M442 179h4v4h-4zM438 191h4v4h-4zM530 195h4v4h-4zM530 199h4v4h-4zM530 203h4v4h-4zM438 207h4v4h-4zM526 215h4v4h-4zM522 223h4v4h-4zM518 227h4v4h-4zM514 231h4v4h-4zM470 239h4v4h-4zM498 239h4v4h-4z"/><path fill="#ff5100" d="M446 179h4v4h-4zM442 187h4v4h-4zM526 191h4v4h-4zM526 195h4v4h-4zM526 203h4v4h-4zM526 207h4v4h-4zM446 219h4v4h-4zM450 223h4v4h-4zM454 227h4v4h-4zM514 227h4v4h-4zM458 231h4v4h-4zM466 235h4v4h-4z"/><path fill="#ff4500" d="M450 179h4v4h-4zM446 187h4v4h-4zM522 191h4v4h-4zM522 207h4v4h-4zM446 211h4v4h-4zM454 223h4v4h-4zM466 231h4v4h-4zM482 235h8v4h-8z"/><path fill="#ff3c00" d="M454 179h4v4h-4zM450 187h4v4h-4zM518 187h4v4h-4zM450 211h4v4h-4zM454 219h4v4h-4zM458 223h4v4h-4zM502 227h4v4h-4zM474 231h4v4h-4zM490 231h4v4h-4z"/><path fill="#ff3300" d="M458 179h4v4h-4zM514 187h4v4h-4zM450 199h4v4h-4zM514 211h4v4h-4zM494 227h4v4h-4z"/><path fill="#ff2d00" d="M462 179h4v4h-4zM506 179h4v4h-4zM458 183h4v4h-4zM454 191h4v4h-4zM514 195h4v4h-4zM514 199h4v4h-4zM514 203h4v4h-4zM454 207h4v4h-4zM458 215h4v4h-4zM462 219h4v4h-4zM498 223h4v4h-4zM482 227h8v4h-8z"/><path fill="#ff2700" d="M466 179h4v4h-4zM502 179h4v4h-4zM462 183h4v4h-4zM506 183h4v4h-4zM458 187h4v4h-4zM510 191h4v4h-4zM510 207h4v4h-4zM462 215h4v4h-4zM506 215h4v4h-4zM466 219h4v4h-4zM474 223h4v4h-4zM494 223h4v4h-4z"/><path fill="#ff2100" d="M470 179h4v4h-4zM466 183h4v4h-4zM502 183h4v4h-4zM462 187h4v4h-4zM506 187h4v4h-4zM458 195h4v4h-4zM458 199h4v4h-4zM458 203h4v4h-4zM462 211h4v4h-4zM466 215h4v4h-4zM502 215h4v4h-4zM494 219h4v4h-4z"/><path fill="#ff1e00" d="M474 179h4v4h-4zM494 179h4v4h-4zM462 191h4v4h-4zM506 191h4v4h-4zM506 195h4v4h-4zM506 203h4v4h-4zM462 207h4v4h-4zM506 207h4v4h-4zM502 211h4v4h-4zM498 215h4v4h-4zM474 219h8v4h-8zM490 219h4v4h-4z"/><path fill="#ff1b00" d="M478 179h16v4h-16zM470 183h4v4h-4zM498 183h4v4h-4zM466 187h4v4h-4zM502 187h4v4h-4zM462 195h4v4h-4zM462 199h4v4h-4zM506 199h4v4h-4zM462 203h4v4h-4zM466 211h4v4h-4zM470 215h4v4h-4zM482 219h8v4h-8z"/><path fill="#ff2400" d="M498 179h4v4h-4zM458 191h4v4h-4zM510 195h4v4h-4zM510 199h4v4h-4zM510 203h4v4h-4zM458 207h4v4h-4zM506 211h4v4h-4zM470 219h4v4h-4zM498 219h4v4h-4zM478 223h16v4h-16z"/><path fill="#ff3600" d="M510 179h4v4h-4zM454 183h4v4h-4zM450 191h4v4h-4zM450 195h4v4h-4zM518 195h4v4h-4zM518 199h4v4h-4zM450 203h4v4h-4zM450 207h4v4h-4zM454 215h4v4h-4zM458 219h4v4h-4zM510 219h4v4h-4zM462 223h4v4h-4zM470 227h4v4h-4zM498 227h4v4h-4z"/><path fill="#ff3f00" d="M514 179h4v4h-4zM450 183h4v4h-4zM446 195h4v4h-4zM446 199h4v4h-4zM446 203h4v4h-4zM518 211h4v4h-4zM450 215h4v4h-4zM514 219h4v4h-4zM510 223h4v4h-4zM462 227h4v4h-4zM470 231h4v4h-4zM494 231h4v4h-4z"/><path fill="#ff4800" d="M518 179h4v4h-4zM522 187h4v4h-4zM522 211h4v4h-4zM450 219h4v4h-4zM514 223h4v4h-4zM458 227h4v4h-4zM510 227h4v4h-4zM502 231h4v4h-4zM478 235h4v4h-4zM490 235h4v4h-4z"/><path fill="#ff5400" d="M522 179h4v4h-4zM526 187h4v4h-4zM442 211h4v4h-4zM518 223h4v4h-4zM510 231h4v4h-4zM502 235h4v4h-4zM482 239h8v4h-8z"/><path fill="#ff6000" d="M526 179h4v4h-4zM438 187h4v4h-4zM530 191h4v4h-4zM530 207h4v4h-4zM438 211h4v4h-4zM442 219h4v4h-4zM458 235h4v4h-4zM466 239h4v4h-4z"/><path fill="#ff6f00" d="M530 179h4v4h-4zM434 187h4v4h-4zM534 191h4v4h-4zM534 207h4v4h-4zM434 211h4v4h-4zM530 219h4v4h-4zM446 231h4v4h-4zM458 239h4v4h-4zM510 239h4v4h-4zM466 243h4v4h-4z"/><path fill="#ff7e00" d="M534 179h4v4h-4zM430 187h4v4h-4zM538 191h4v4h-4zM538 195h4v4h-4zM538 199h4v4h-4zM538 203h4v4h-4zM430 211h4v4h-4zM438 227h4v4h-4zM446 235h4v4h-4zM458 243h4v4h-4zM470 247h4v4h-4zM498 247h4v4h-4z"/><path fill="#ff9000" d="M538 179h4v4h-4zM426 187h4v4h-4zM542 191h4v4h-4zM542 195h4v4h-4zM542 203h4v4h-4zM426 211h4v4h-4zM538 219h4v4h-4zM522 239h4v4h-4zM450 243h4v4h-4zM458 247h4v4h-4zM470 251h4v4h-4zM498 251h4v4h-4z"/><path fill="#ff9f00" d="M542 179h4v4h-4zM422 191h4v4h-4zM422 207h4v4h-4zM430 227h4v4h-4zM522 243h4v4h-4zM478 255h4v4h-4zM490 255h4v4h-4z"/><path fill="#ffb400" d="M546 179h4v4h-4zM418 191h4v4h-4zM418 207h4v4h-4zM546 219h4v4h-4zM542 227h4v4h-4zM434 239h4v4h-4zM438 243h4v4h-4zM450 251h4v4h-4zM478 259h16v4h-16z"/><path fill="#b1ff00" d="M394 183h4v4h-4zM394 215h4v4h-4zM406 243h4v4h-4zM438 271h4v4h-4z"/><path fill="#ccff00" d="M398 183h4v4h-4zM398 215h4v4h-4zM402 227h4v4h-4zM414 247h4v4h-4zM426 259h4v4h-4zM438 267h4v4h-4zM458 275h4v4h-4z"/><path fill="#e7ff00" d="M402 183h4v4h-4zM402 215h4v4h-4zM406 227h4v4h-4zM534 259h4v4h-4zM458 271h4v4h-4z"/><path fill="#ffff00" d="M406 183h4v4h-4zM406 215h4v4h-4zM546 243h4v4h-4zM538 251h4v4h-4zM510 267h4v4h-4zM478 271h16v4h-16z"/><path fill="#ffe700" d="M410 183h4v4h-4zM410 215h4v4h-4zM422 239h4v4h-4zM426 243h4v4h-4zM430 247h4v4h-4zM434 251h4v4h-4zM510 263h4v4h-4zM474 267h4v4h-4zM494 267h4v4h-4z"/><path fill="#ffd200" d="M414 183h4v4h-4zM414 215h4v4h-4zM546 231h4v4h-4zM470 263h4v4h-4zM498 263h4v4h-4z"/><path fill="#ffbd00" d="M418 183h4v4h-4zM418 215h4v4h-4zM546 223h4v4h-4zM526 247h4v4h-4zM498 259h4v4h-4z"/><path fill="#ffa800" d="M422 183h4v4h-4zM546 187h4v4h-4zM546 211h4v4h-4zM422 215h4v4h-4zM430 231h4v4h-4zM442 243h4v4h-4zM466 255h4v4h-4z"/><path fill="#ff9600" d="M426 183h4v4h-4zM542 187h4v4h-4zM542 211h4v4h-4zM426 215h4v4h-4zM438 235h4v4h-4zM466 251h4v4h-4zM502 251h4v4h-4z"/><path fill="#ff8400" d="M430 183h4v4h-4zM538 187h4v4h-4zM538 211h4v4h-4zM430 215h4v4h-4zM434 223h4v4h-4zM530 227h4v4h-4zM518 239h4v4h-4zM502 247h4v4h-4z"/><path fill="#ff7500" d="M434 183h4v4h-4zM434 215h4v4h-4zM438 223h4v4h-4zM526 227h4v4h-4zM522 231h4v4h-4zM518 235h4v4h-4zM454 239h4v4h-4zM462 243h4v4h-4zM482 247h8v4h-8z"/><path fill="#ff6600" d="M438 183h4v4h-4zM438 215h4v4h-4zM442 223h4v4h-4zM446 227h4v4h-4zM450 231h4v4h-4zM462 239h4v4h-4zM478 243h4v4h-4zM486 243h8v4h-8z"/><path fill="#ff5700" d="M442 183h4v4h-4zM526 211h4v4h-4zM442 215h4v4h-4zM522 219h4v4h-4zM462 235h4v4h-4zM474 239h8v4h-8zM490 239h4v4h-4z"/><path fill="#ff4b00" d="M446 183h4v4h-4zM442 195h4v4h-4zM442 199h4v4h-4zM442 203h4v4h-4zM446 215h4v4h-4zM518 219h4v4h-4zM462 231h4v4h-4zM474 235h4v4h-4zM494 235h4v4h-4z"/><path fill="#ff1800" d="M474 183h4v4h-4zM494 183h4v4h-4zM498 187h4v4h-4zM466 191h4v4h-4zM502 191h4v4h-4zM466 207h4v4h-4zM502 207h4v4h-4zM498 211h4v4h-4zM474 215h4v4h-4zM494 215h4v4h-4z"/><path fill="#ff1500" d="M478 183h16v4h-16zM470 187h4v4h-4zM466 195h4v4h-4zM502 195h4v4h-4zM466 199h4v4h-4zM502 199h4v4h-4zM466 203h4v4h-4zM502 203h4v4h-4zM498 207h4v4h-4zM470 211h4v4h-4zM478 215h16v4h-16z"/><path fill="#ff3000" d="M510 183h4v4h-4zM454 187h4v4h-4zM514 191h4v4h-4zM514 207h4v4h-4zM454 211h4v4h-4zM510 215h4v4h-4zM506 219h4v4h-4zM466 223h4v4h-4zM502 223h4v4h-4zM474 227h8v4h-8zM490 227h4v4h-4z"/><path fill="#ff3900" d="M514 183h4v4h-4zM518 191h4v4h-4zM518 203h4v4h-4zM518 207h4v4h-4zM514 215h4v4h-4zM506 223h4v4h-4zM466 227h4v4h-4zM478 231h12v4h-12z"/><path fill="#ff4200" d="M518 183h4v4h-4zM446 191h4v4h-4zM522 195h4v4h-4zM522 199h4v4h-4zM522 203h4v4h-4zM446 207h4v4h-4zM518 215h4v4h-4zM506 227h4v4h-4zM498 231h4v4h-4z"/><path fill="#ff4e00" d="M522 183h4v4h-4zM442 191h4v4h-4zM526 199h4v4h-4zM442 207h4v4h-4zM522 215h4v4h-4zM506 231h4v4h-4zM470 235h4v4h-4zM498 235h4v4h-4z"/><path fill="#ff5a00" d="M526 183h4v4h-4zM438 195h4v4h-4zM438 199h4v4h-4zM438 203h4v4h-4zM446 223h4v4h-4zM450 227h4v4h-4zM454 231h4v4h-4zM506 235h4v4h-4zM494 239h4v4h-4z"/><path fill="#ff6900" d="M530 183h4v4h-4zM434 195h4v4h-4zM434 199h4v4h-4zM434 203h4v4h-4zM530 215h4v4h-4zM522 227h4v4h-4zM518 231h4v4h-4zM454 235h4v4h-4zM506 239h4v4h-4zM474 243h4v4h-4zM494 243h4v4h-4z"/><path fill="#ff7800" d="M534 183h4v4h-4zM430 195h4v4h-4zM430 199h4v4h-4zM430 203h4v4h-4zM534 215h4v4h-4zM530 223h4v4h-4zM514 239h4v4h-4zM506 243h4v4h-4zM474 247h8v4h-8zM490 247h4v4h-4z"/><path fill="#ff8700" d="M538 183h4v4h-4zM534 223h4v4h-4zM454 243h4v4h-4zM462 247h4v4h-4z"/><path fill="#ff9900" d="M542 183h4v4h-4zM538 223h4v4h-4zM434 231h4v4h-4zM442 239h4v4h-4zM454 247h4v4h-4z"/><path fill="#b7ff00" d="M394 187h4v4h-4zM394 211h4v4h-4zM410 247h4v4h-4zM534 267h4v4h-4zM518 275h4v4h-4zM462 279h4v4h-4z"/><path fill="#d2ff00" d="M398 187h4v4h-4zM398 211h4v4h-4zM518 271h4v4h-4zM462 275h4v4h-4zM506 275h4v4h-4z"/><path fill="#eaff00" d="M402 187h4v4h-4zM402 211h4v4h-4z"/><path fill="#fff900" d="M406 187h4v4h-4zM422 243h4v4h-4zM430 251h4v4h-4zM518 263h4v4h-4zM506 267h4v4h-4z"/><path fill="#ffe400" d="M410 187h4v4h-4zM410 211h4v4h-4zM526 255h4v4h-4zM458 263h4v4h-4zM478 267h16v4h-16z"/><path fill="#ffcc00" d="M414 187h4v4h-4zM414 211h4v4h-4zM418 223h4v4h-4zM422 231h4v4h-4zM542 235h4v4h-4zM530 247h4v4h-4zM442 251h4v4h-4zM518 255h4v4h-4zM458 259h4v4h-4zM478 263h16v4h-16z"/><path fill="#ffb700" d="M418 187h4v4h-4zM418 211h4v4h-4zM422 223h4v4h-4zM430 235h4v4h-4zM518 251h4v4h-4zM458 255h4v4h-4zM474 259h4v4h-4zM494 259h4v4h-4z"/><path fill="#ffa200" d="M422 187h4v4h-4zM546 195h4v4h-4zM546 199h4v4h-4zM546 203h4v4h-4zM422 211h4v4h-4zM542 219h4v4h-4zM538 227h4v4h-4zM450 247h4v4h-4zM458 251h4v4h-4zM474 255h4v4h-4zM494 255h4v4h-4z"/><path fill="#ff1200" d="M474 187h4v4h-4zM494 187h4v4h-4zM470 191h4v4h-4zM498 191h4v4h-4zM498 195h4v4h-4zM498 203h4v4h-4zM470 207h4v4h-4zM474 211h4v4h-4zM490 211h8v4h-8z"/><path fill="#ff0f00" d="M478 187h16v4h-16zM474 191h4v4h-4zM494 191h4v4h-4zM470 195h4v4h-4zM470 199h4v4h-4zM498 199h4v4h-4zM470 203h4v4h-4zM474 207h4v4h-4zM494 207h4v4h-4zM478 211h12v4h-12z"/><path fill="#ff2a00" d="M510 187h4v4h-4zM454 195h4v4h-4zM454 199h4v4h-4zM454 203h4v4h-4zM458 211h4v4h-4zM510 211h4v4h-4zM502 219h4v4h-4zM470 223h4v4h-4z"/><path fill="#ff6300" d="M530 187h4v4h-4zM530 211h4v4h-4zM526 219h4v4h-4zM510 235h4v4h-4zM502 239h4v4h-4zM482 243h4v4h-4z"/><path fill="#ff7200" d="M534 187h4v4h-4zM534 211h4v4h-4zM442 227h4v4h-4zM450 235h4v4h-4zM502 243h4v4h-4z"/><path fill="#baff00" d="M394 191h4v4h-4zM394 207h4v4h-4zM414 251h4v4h-4zM418 255h4v4h-4zM422 259h4v4h-4zM526 271h4v4h-4zM450 275h4v4h-4zM502 279h4v4h-4z"/><path fill="#d5ff00" d="M398 191h4v4h-4zM398 207h4v4h-4zM434 263h4v4h-4zM526 267h4v4h-4zM450 271h4v4h-4z"/><path fill="#f0ff00" d="M402 191h4v4h-4zM402 195h4v4h-4zM402 203h4v4h-4zM402 207h4v4h-4zM406 223h4v4h-4zM546 247h4v4h-4zM542 251h4v4h-4zM430 255h4v4h-4zM442 263h4v4h-4zM450 267h4v4h-4z"/><path fill="#fff600" d="M406 191h4v4h-4zM406 203h4v4h-4zM406 207h4v4h-4zM410 223h4v4h-4zM414 231h4v4h-4zM426 247h4v4h-4zM442 259h4v4h-4zM450 263h4v4h-4zM462 267h4v4h-4z"/><path fill="#ffde00" d="M410 191h4v4h-4zM410 195h4v4h-4zM410 203h4v4h-4zM410 207h4v4h-4zM530 251h4v4h-4zM450 259h4v4h-4zM462 263h4v4h-4zM506 263h4v4h-4z"/><path fill="#ffc900" d="M414 191h4v4h-4zM414 207h4v4h-4zM538 239h4v4h-4zM534 243h4v4h-4zM450 255h4v4h-4z"/><path fill="#ff8d00" d="M426 191h4v4h-4zM542 199h4v4h-4zM426 207h4v4h-4zM430 219h4v4h-4zM434 227h4v4h-4zM530 231h4v4h-4zM526 235h4v4h-4zM474 251h4v4h-4zM494 251h4v4h-4z"/><path fill="#ff0c00" d="M478 191h16v4h-16zM474 195h4v4h-4zM494 195h4v4h-4zM474 199h4v4h-4zM494 199h4v4h-4zM474 203h4v4h-4zM490 203h8v4h-8zM478 207h16v4h-16z"/><path fill="#ffa500" d="M546 191h4v4h-4zM546 207h4v4h-4zM426 223h4v4h-4zM434 235h4v4h-4zM438 239h4v4h-4zM518 247h4v4h-4zM510 251h4v4h-4zM470 255h4v4h-4zM498 255h4v4h-4z"/><path fill="#bdff00" d="M394 195h4v4h-4zM394 199h4v4h-4zM394 203h4v4h-4zM398 223h4v4h-4zM434 267h4v4h-4zM442 271h4v4h-4zM466 279h4v4h-4z"/><path fill="#d8ff00" d="M398 195h4v4h-4zM398 199h4v4h-4zM398 203h4v4h-4zM402 223h4v4h-4zM410 239h4v4h-4zM538 259h4v4h-4zM442 267h4v4h-4zM466 275h4v4h-4zM502 275h4v4h-4z"/><path fill="#fff300" d="M406 195h4v4h-4zM406 199h4v4h-4zM530 255h4v4h-4z"/><path fill="#ffc600" d="M414 195h4v4h-4zM414 199h4v4h-4zM414 203h4v4h-4zM546 227h4v4h-4zM426 235h4v4h-4zM438 247h4v4h-4zM462 259h4v4h-4zM506 259h4v4h-4z"/><path fill="#ffb100" d="M418 195h4v4h-4zM418 199h4v4h-4zM418 203h4v4h-4zM422 219h4v4h-4zM522 247h4v4h-4zM506 255h4v4h-4z"/><path fill="#ff0900" d="M478 195h16v4h-16zM478 199h16v4h-16zM478 203h12v4h-12z"/><path fill="#f3ff00" d="M402 199h4v4h-4zM410 231h4v4h-4zM418 243h4v4h-4zM426 251h4v4h-4zM466 271h4v4h-4zM502 271h4v4h-4z"/><path fill="#ffdb00" d="M410 199h4v4h-4zM422 235h4v4h-4zM542 239h4v4h-4zM534 247h4v4h-4zM438 251h4v4h-4z"/><path fill="#ff8100" d="M538 207h4v4h-4zM534 219h4v4h-4zM526 231h4v4h-4zM522 235h4v4h-4zM450 239h4v4h-4zM510 243h4v4h-4zM466 247h4v4h-4z"/><path fill="#ff9300" d="M542 207h4v4h-4zM430 223h4v4h-4zM534 227h4v4h-4zM518 243h4v4h-4zM510 247h4v4h-4z"/><path fill="#fffc00" d="M406 211h4v4h-4zM418 239h4v4h-4zM542 247h4v4h-4zM434 255h4v4h-4zM526 259h4v4h-4zM458 267h4v4h-4z"/><path fill="#f6ff00" d="M406 219h4v4h-4zM422 247h4v4h-4zM530 259h4v4h-4zM514 267h4v4h-4z"/><path fill="#a2ff00" d="M394 223h4v4h-4zM422 263h4v4h-4zM434 271h4v4h-4zM442 275h4v4h-4zM470 283h4v4h-4zM498 283h4v4h-4z"/><path fill="#ffe100" d="M414 223h4v4h-4zM418 231h4v4h-4zM546 235h4v4h-4zM442 255h4v4h-4zM518 259h4v4h-4z"/><path fill="#ffab00" d="M542 223h4v4h-4zM534 235h4v4h-4zM530 239h4v4h-4zM526 243h4v4h-4zM454 251h4v4h-4zM502 255h4v4h-4z"/><path fill="#99ff00" d="M394 227h4v4h-4zM402 243h4v4h-4zM518 279h4v4h-4zM462 283h4v4h-4z"/><path fill="#b4ff00" d="M398 227h4v4h-4zM402 235h4v4h-4zM546 259h4v4h-4zM426 263h4v4h-4zM506 279h4v4h-4z"/><path fill="#fcff00" d="M410 227h4v4h-4zM414 235h4v4h-4zM534 255h4v4h-4zM446 263h4v4h-4zM474 271h4v4h-4zM494 271h4v4h-4z"/><path fill="#ffea00" d="M414 227h4v4h-4zM542 243h4v4h-4zM538 247h4v4h-4zM446 259h4v4h-4zM470 267h4v4h-4z"/><path fill="#ffd500" d="M418 227h4v4h-4zM426 239h4v4h-4zM430 243h4v4h-4zM434 247h4v4h-4zM446 255h4v4h-4zM454 259h4v4h-4zM466 263h4v4h-4z"/><path fill="#8dff00" d="M394 231h4v4h-4zM398 239h4v4h-4zM406 251h4v4h-4zM418 263h4v4h-4zM538 271h4v4h-4zM522 279h4v4h-4zM510 283h4v4h-4z"/><path fill="#a8ff00" d="M398 231h4v4h-4zM402 239h4v4h-4zM538 267h4v4h-4zM454 279h4v4h-4zM478 283h16v4h-16z"/><path fill="#c3ff00" d="M402 231h4v4h-4zM454 275h4v4h-4zM474 279h4v4h-4zM494 279h4v4h-4z"/><path fill="#dbff00" d="M406 231h4v4h-4zM546 251h4v4h-4zM542 255h4v4h-4zM430 259h4v4h-4zM514 271h4v4h-4zM498 275h4v4h-4z"/><path fill="#ffba00" d="M426 231h4v4h-4zM538 235h4v4h-4zM534 239h4v4h-4zM530 243h4v4h-4zM442 247h4v4h-4zM510 255h4v4h-4zM470 259h4v4h-4z"/><path fill="#ffc000" d="M542 231h4v4h-4zM446 251h4v4h-4zM454 255h4v4h-4zM466 259h4v4h-4zM502 259h4v4h-4z"/><path fill="#81ff00" d="M394 235h4v4h-4zM426 271h4v4h-4zM534 275h4v4h-4zM526 279h4v4h-4zM498 287h4v4h-4z"/><path fill="#9cff00" d="M398 235h4v4h-4zM546 263h4v4h-4zM426 267h4v4h-4zM534 271h4v4h-4zM450 279h4v4h-4zM502 283h4v4h-4z"/><path fill="#cfff00" d="M406 235h4v4h-4zM418 251h4v4h-4zM422 255h4v4h-4zM534 263h4v4h-4z"/><path fill="#e4ff00" d="M410 235h4v4h-4zM438 263h4v4h-4zM446 267h4v4h-4zM510 271h4v4h-4zM478 275h16v4h-16z"/><path fill="#ffed00" d="M418 235h4v4h-4zM546 239h4v4h-4zM534 251h4v4h-4zM438 255h4v4h-4zM522 259h4v4h-4zM454 263h4v4h-4zM498 267h4v4h-4z"/><path fill="#72ff00" d="M394 239h4v4h-4zM538 275h4v4h-4zM458 287h4v4h-4z"/><path fill="#c0ff00" d="M406 239h4v4h-4zM538 263h4v4h-4zM514 275h4v4h-4zM470 279h4v4h-4zM498 279h4v4h-4z"/><path fill="#edff00" d="M414 239h4v4h-4zM538 255h4v4h-4zM434 259h4v4h-4zM526 263h4v4h-4zM518 267h4v4h-4zM462 271h4v4h-4zM506 271h4v4h-4z"/><path fill="#63ff00" d="M394 243h4v4h-4zM406 259h4v4h-4zM410 263h4v4h-4zM526 283h4v4h-4zM494 291h4v4h-4z"/><path fill="#7eff00" d="M398 243h4v4h-4zM450 283h4v4h-4zM466 287h4v4h-4z"/><path fill="#51ff00" d="M394 247h4v4h-4zM522 287h4v4h-4zM458 291h4v4h-4z"/><path fill="#6cff00" d="M398 247h4v4h-4z"/><path fill="#87ff00" d="M402 247h4v4h-4zM434 275h4v4h-4zM442 279h4v4h-4zM454 283h4v4h-4zM474 287h8v4h-8zM490 287h4v4h-4z"/><path fill="#9fff00" d="M406 247h4v4h-4zM526 275h4v4h-4zM466 283h4v4h-4z"/><path fill="#e1ff00" d="M418 247h4v4h-4zM422 251h4v4h-4zM426 255h4v4h-4zM522 267h4v4h-4zM474 275h4v4h-4zM494 275h4v4h-4z"/><path fill="#3fff00" d="M394 251h4v4h-4zM450 291h4v4h-4zM470 295h4v4h-4z"/><path fill="#5aff00" d="M398 251h4v4h-4zM430 279h4v4h-4zM438 283h4v4h-4zM518 287h4v4h-4zM502 291h4v4h-4z"/><path fill="#75ff00" d="M402 251h4v4h-4zM418 267h4v4h-4zM530 279h4v4h-4zM446 283h4v4h-4zM506 287h4v4h-4z"/><path fill="#a5ff00" d="M410 251h4v4h-4zM414 255h4v4h-4zM418 259h4v4h-4zM514 279h4v4h-4zM474 283h4v4h-4zM494 283h4v4h-4z"/><path fill="#ffcf00" d="M526 251h4v4h-4zM510 259h4v4h-4zM474 263h4v4h-4zM494 263h4v4h-4z"/><path fill="#2dff00" d="M394 255h4v4h-4zM414 275h4v4h-4zM434 287h4v4h-4zM458 295h4v4h-4z"/><path fill="#48ff00" d="M398 255h4v4h-4zM414 271h4v4h-4zM426 279h4v4h-4zM534 283h4v4h-4zM442 287h4v4h-4zM454 291h4v4h-4z"/><path fill="#60ff00" d="M402 255h4v4h-4zM414 267h4v4h-4zM542 275h4v4h-4zM450 287h4v4h-4zM470 291h4v4h-4zM498 291h4v4h-4z"/><path fill="#78ff00" d="M406 255h4v4h-4zM430 275h4v4h-4zM438 279h4v4h-4zM462 287h4v4h-4z"/><path fill="#90ff00" d="M410 255h4v4h-4zM414 259h4v4h-4zM530 275h4v4h-4zM458 283h4v4h-4z"/><path fill="#c9ff00" d="M546 255h4v4h-4zM446 271h4v4h-4zM510 275h4v4h-4zM482 279h4v4h-4z"/><path fill="#18ff00" d="M394 259h4v4h-4zM422 283h4v4h-4zM538 287h4v4h-4zM438 291h4v4h-4zM518 295h4v4h-4zM498 299h4v4h-4z"/><path fill="#30ff00" d="M398 259h4v4h-4zM410 271h4v4h-4zM546 279h4v4h-4zM522 291h4v4h-4z"/><path fill="#4bff00" d="M402 259h4v4h-4zM406 263h4v4h-4zM410 267h4v4h-4zM434 283h4v4h-4z"/><path fill="#7bff00" d="M410 259h4v4h-4zM414 263h4v4h-4zM542 271h4v4h-4zM518 283h4v4h-4zM502 287h4v4h-4z"/><path fill="#00ff00" d="M394 263h4v4h-4zM406 275h4v4h-4zM526 295h4v4h-4zM454 299h4v4h-4z"/><path fill="#1bff00" d="M398 263h4v4h-4zM402 267h4v4h-4zM406 271h4v4h-4zM430 287h4v4h-4zM450 295h4v4h-4zM470 299h4v4h-4z"/><path fill="#33ff00" d="M402 263h4v4h-4zM406 267h4v4h-4zM446 291h4v4h-4zM462 295h4v4h-4zM506 295h4v4h-4z"/><path fill="#aeff00" d="M542 263h4v4h-4zM430 267h4v4h-4zM446 275h4v4h-4zM458 279h4v4h-4z"/><path fill="#00ff18" d="M394 267h4v4h-4zM398 271h4v4h-4zM402 275h4v4h-4zM434 295h4v4h-4zM522 299h4v4h-4zM506 303h4v4h-4z"/><path fill="#03ff00" d="M398 267h4v4h-4zM402 271h4v4h-4zM442 295h4v4h-4z"/><path fill="#8aff00" d="M422 267h4v4h-4zM482 287h8v4h-8z"/><path fill="#96ff00" d="M542 267h4v4h-4zM438 275h4v4h-4zM506 283h4v4h-4z"/><path fill="#84ff00" d="M546 267h4v4h-4zM514 283h4v4h-4zM470 287h4v4h-4zM494 287h4v4h-4z"/><path fill="#00ff33" d="M394 271h4v4h-4zM398 275h4v4h-4zM530 299h4v4h-4zM518 303h4v4h-4zM470 307h4v4h-4zM498 307h4v4h-4z"/><path fill="#5dff00" d="M418 271h4v4h-4zM466 291h4v4h-4z"/><path fill="#6fff00" d="M422 271h4v4h-4zM522 283h4v4h-4zM510 287h4v4h-4z"/><path fill="#93ff00" d="M430 271h4v4h-4zM446 279h4v4h-4z"/><path fill="#69ff00" d="M546 271h4v4h-4zM434 279h4v4h-4zM442 283h4v4h-4zM454 287h4v4h-4zM482 291h8v4h-8z"/><path fill="#00ff4e" d="M394 275h4v4h-4zM454 307h4v4h-4z"/><path fill="#15ff00" d="M410 275h4v4h-4zM530 291h4v4h-4zM466 299h4v4h-4zM502 299h4v4h-4z"/><path fill="#42ff00" d="M418 275h4v4h-4zM542 279h4v4h-4zM474 295h4v4h-4zM494 295h4v4h-4z"/><path fill="#54ff00" d="M422 275h4v4h-4zM538 279h4v4h-4zM446 287h4v4h-4zM506 291h4v4h-4z"/><path fill="#66ff00" d="M426 275h4v4h-4zM534 279h4v4h-4zM514 287h4v4h-4zM474 291h8v4h-8zM490 291h4v4h-4z"/><path fill="#4eff00" d="M546 275h4v4h-4zM510 291h4v4h-4z"/><path fill="#00ff6c" d="M394 279h4v4h-4zM442 307h4v4h-4zM458 311h4v4h-4z"/><path fill="#00ff51" d="M398 279h4v4h-4zM414 291h4v4h-4zM546 295h4v4h-4zM538 299h4v4h-4zM514 307h4v4h-4z"/><path fill="#00ff36" d="M402 279h4v4h-4zM466 307h4v4h-4z"/><path fill="#00ff1e" d="M406 279h4v4h-4zM534 295h4v4h-4zM458 303h4v4h-4z"/><path fill="#00ff06" d="M410 279h4v4h-4zM422 287h4v4h-4zM430 291h4v4h-4zM478 303h16v4h-16z"/><path fill="#0fff00" d="M414 279h4v4h-4zM446 295h4v4h-4zM462 299h4v4h-4z"/><path fill="#24ff00" d="M418 279h4v4h-4zM542 283h4v4h-4zM454 295h4v4h-4z"/><path fill="#36ff00" d="M422 279h4v4h-4zM538 283h4v4h-4zM530 287h4v4h-4z"/><path fill="#00ff8a" d="M394 283h4v4h-4zM410 295h4v4h-4zM542 303h4v4h-4zM434 307h4v4h-4zM446 311h4v4h-4zM466 315h4v4h-4z"/><path fill="#00ff6f" d="M398 283h4v4h-4zM422 299h4v4h-4zM510 311h4v4h-4z"/><path fill="#00ff54" d="M402 283h4v4h-4zM438 303h4v4h-4zM478 311h12v4h-12z"/><path fill="#00ff3c" d="M406 283h4v4h-4zM418 291h4v4h-4zM434 299h4v4h-4zM462 307h4v4h-4z"/><path fill="#00ff24" d="M410 283h4v4h-4zM526 299h4v4h-4zM454 303h4v4h-4z"/><path fill="#00ff0f" d="M414 283h4v4h-4zM530 295h4v4h-4zM466 303h4v4h-4z"/><path fill="#06ff00" d="M418 283h4v4h-4zM542 287h4v4h-4zM534 291h4v4h-4zM510 299h4v4h-4z"/><path fill="#2aff00" d="M426 283h4v4h-4zM510 295h4v4h-4z"/><path fill="#3cff00" d="M430 283h4v4h-4zM438 287h4v4h-4zM498 295h4v4h-4z"/><path fill="#57ff00" d="M530 283h4v4h-4zM462 291h4v4h-4z"/><path fill="#12ff00" d="M546 283h4v4h-4z"/><path fill="#00ffa8" d="M394 287h4v4h-4zM418 303h4v4h-4zM530 311h4v4h-4zM450 315h4v4h-4z"/><path fill="#00ff8d" d="M398 287h4v4h-4zM534 307h4v4h-4zM522 311h4v4h-4zM502 315h4v4h-4z"/><path fill="#00ff75" d="M402 287h4v4h-4zM546 299h4v4h-4zM454 311h4v4h-4z"/><path fill="#00ff5d" d="M406 287h4v4h-4zM418 295h4v4h-4zM426 299h4v4h-4zM498 311h4v4h-4z"/><path fill="#00ff45" d="M410 287h4v4h-4zM442 303h4v4h-4zM458 307h4v4h-4z"/><path fill="#00ff30" d="M414 287h4v4h-4zM546 291h4v4h-4zM450 303h4v4h-4zM474 307h4v4h-4zM494 307h4v4h-4z"/><path fill="#00ff1b" d="M418 287h4v4h-4zM542 291h4v4h-4z"/><path fill="#0cff00" d="M426 287h4v4h-4zM434 291h4v4h-4zM522 295h4v4h-4zM506 299h4v4h-4z"/><path fill="#45ff00" d="M526 287h4v4h-4zM514 291h4v4h-4zM478 295h16v4h-16z"/><path fill="#27ff00" d="M534 287h4v4h-4zM442 291h4v4h-4z"/><path fill="#00ff0c" d="M546 287h4v4h-4zM538 291h4v4h-4zM518 299h4v4h-4zM470 303h4v4h-4zM498 303h4v4h-4z"/><path fill="#00ffc9" d="M394 291h4v4h-4z"/><path fill="#00ffae" d="M398 291h4v4h-4zM410 299h4v4h-4zM518 315h4v4h-4zM474 319h4v4h-4zM494 319h4v4h-4z"/><path fill="#00ff96" d="M402 291h4v4h-4zM414 299h4v4h-4zM422 303h4v4h-4zM442 311h4v4h-4zM458 315h4v4h-4z"/><path fill="#00ff7e" d="M406 291h4v4h-4zM530 307h4v4h-4zM450 311h4v4h-4zM478 315h12v4h-12z"/><path fill="#00ff66" d="M410 291h4v4h-4zM534 303h4v4h-4zM522 307h4v4h-4zM462 311h4v4h-4z"/><path fill="#00ff27" d="M422 291h4v4h-4zM430 295h4v4h-4z"/><path fill="#00ff15" d="M426 291h4v4h-4zM446 299h4v4h-4zM462 303h4v4h-4z"/><path fill="#39ff00" d="M518 291h4v4h-4zM466 295h4v4h-4zM502 295h4v4h-4z"/><path fill="#21ff00" d="M526 291h4v4h-4zM514 295h4v4h-4zM478 299h16v4h-16z"/><path fill="#00ffed" d="M394 295h4v4h-4z"/><path fill="#00ffd2" d="M398 295h4v4h-4zM410 303h4v4h-4zM426 311h4v4h-4zM530 315h4v4h-4z"/><path fill="#00ffb7" d="M402 295h4v4h-4zM534 311h4v4h-4zM522 315h4v4h-4zM502 319h4v4h-4z"/><path fill="#00ff9f" d="M406 295h4v4h-4zM538 307h4v4h-4zM454 315h4v4h-4z"/><path fill="#00ff72" d="M414 295h4v4h-4zM430 303h4v4h-4zM526 307h4v4h-4z"/><path fill="#00ff4b" d="M422 295h4v4h-4zM430 299h4v4h-4zM526 303h4v4h-4z"/><path fill="#00ff39" d="M426 295h4v4h-4zM446 303h4v4h-4zM502 307h4v4h-4z"/><path fill="#00ff09" d="M438 295h4v4h-4zM450 299h4v4h-4zM474 303h4v4h-4zM494 303h4v4h-4z"/><path fill="#00ff2d" d="M538 295h4v4h-4zM438 299h4v4h-4zM478 307h16v4h-16z"/><path fill="#00ff3f" d="M542 295h4v4h-4zM522 303h4v4h-4zM506 307h4v4h-4z"/><path fill="#00f0ff" d="M394 299h4v4h-4zM406 307h4v4h-4zM522 323h4v4h-4zM466 327h4v4h-4zM502 327h4v4h-4z"/><path fill="#00fff6" d="M398 299h4v4h-4z"/><path fill="#00ffdb" d="M402 299h4v4h-4zM434 315h4v4h-4zM474 323h4v4h-4zM494 323h4v4h-4z"/><path fill="#00ffc3" d="M406 299h4v4h-4zM546 307h4v4h-4zM458 319h4v4h-4z"/><path fill="#00ff81" d="M418 299h4v4h-4zM426 303h4v4h-4zM474 315h4v4h-4zM490 315h4v4h-4z"/><path fill="#00ff21" d="M442 299h4v4h-4zM510 303h4v4h-4z"/><path fill="#09ff00" d="M458 299h4v4h-4z"/><path fill="#1eff00" d="M474 299h4v4h-4zM494 299h4v4h-4z"/><path fill="#00ff03" d="M514 299h4v4h-4z"/><path fill="#00ff42" d="M534 299h4v4h-4z"/><path fill="#00ff63" d="M542 299h4v4h-4zM434 303h4v4h-4zM502 311h4v4h-4z"/><path fill="#00d2ff" d="M394 303h4v4h-4zM406 311h4v4h-4zM414 315h4v4h-4zM474 331h8v4h-8zM486 331h8v4h-8z"/><path fill="#00e7ff" d="M398 303h4v4h-4zM538 319h4v4h-4zM526 323h4v4h-4zM458 327h4v4h-4z"/><path fill="#00fcff" d="M402 303h4v4h-4zM542 315h4v4h-4zM450 323h4v4h-4z"/><path fill="#00ffea" d="M406 303h4v4h-4zM546 311h4v4h-4zM430 315h4v4h-4zM442 319h4v4h-4zM506 323h4v4h-4z"/><path fill="#00ffbd" d="M414 303h4v4h-4zM422 307h4v4h-4zM506 319h4v4h-4z"/><path fill="#00ff12" d="M502 303h4v4h-4z"/><path fill="#00ff2a" d="M514 303h4v4h-4z"/><path fill="#00ff57" d="M530 303h4v4h-4zM450 307h4v4h-4zM474 311h4v4h-4zM490 311h4v4h-4z"/><path fill="#00ff78" d="M538 303h4v4h-4zM514 311h4v4h-4z"/><path fill="#00ff9c" d="M546 303h4v4h-4z"/><path fill="#00b4ff" d="M394 307h4v4h-4z"/><path fill="#00c9ff" d="M398 307h4v4h-4zM546 319h4v4h-4zM430 323h4v4h-4zM502 331h4v4h-4z"/><path fill="#00deff" d="M402 307h4v4h-4zM426 319h4v4h-4zM514 327h4v4h-4z"/><path fill="#00fff9" d="M410 307h4v4h-4zM418 311h4v4h-4zM438 319h4v4h-4zM454 323h4v4h-4z"/><path fill="#00ffe4" d="M414 307h4v4h-4zM422 311h4v4h-4zM522 319h4v4h-4zM502 323h4v4h-4z"/><path fill="#00ffcf" d="M418 307h4v4h-4zM514 319h4v4h-4z"/><path fill="#00ffab" d="M426 307h4v4h-4zM478 319h16v4h-16z"/><path fill="#00ff99" d="M430 307h4v4h-4zM526 311h4v4h-4zM510 315h4v4h-4z"/><path fill="#00ff7b" d="M438 307h4v4h-4z"/><path fill="#00ff60" d="M446 307h4v4h-4zM466 311h4v4h-4z"/><path fill="#00ff48" d="M510 307h4v4h-4z"/><path fill="#00ff5a" d="M518 307h4v4h-4zM470 311h4v4h-4zM494 311h4v4h-4z"/><path fill="#00ffb1" d="M542 307h4v4h-4zM434 311h4v4h-4zM470 319h4v4h-4zM498 319h4v4h-4z"/><path fill="#0093ff" d="M394 311h4v4h-4z"/><path fill="#00a8ff" d="M398 311h4v4h-4zM546 323h4v4h-4zM446 331h4v4h-4z"/><path fill="#00bdff" d="M402 311h4v4h-4zM510 331h4v4h-4z"/><path fill="#00e4ff" d="M410 311h4v4h-4zM418 315h4v4h-4zM510 327h4v4h-4z"/><path fill="#00f3ff" d="M414 311h4v4h-4zM422 315h4v4h-4zM534 319h4v4h-4zM446 323h4v4h-4zM470 327h4v4h-4zM498 327h4v4h-4z"/><path fill="#00ffc0" d="M430 311h4v4h-4zM442 315h4v4h-4z"/><path fill="#00ffa2" d="M438 311h4v4h-4zM514 315h4v4h-4z"/><path fill="#00ff69" d="M506 311h4v4h-4z"/><path fill="#00ff84" d="M518 311h4v4h-4zM470 315h4v4h-4zM494 315h4v4h-4z"/><path fill="#00ffc6" d="M538 311h4v4h-4zM526 315h4v4h-4zM510 319h4v4h-4z"/><path fill="#00ffd8" d="M542 311h4v4h-4zM518 319h4v4h-4zM478 323h16v4h-16z"/><path fill="#0072ff" d="M394 315h4v4h-4z"/><path fill="#0087ff" d="M398 315h4v4h-4zM422 327h4v4h-4z"/><path fill="#009cff" d="M402 315h4v4h-4zM418 323h4v4h-4zM526 331h4v4h-4z"/><path fill="#00aeff" d="M406 315h4v4h-4zM518 331h4v4h-4z"/><path fill="#00c3ff" d="M410 315h4v4h-4zM538 323h4v4h-4zM526 327h4v4h-4zM506 331h4v4h-4z"/><path fill="#00fffc" d="M426 315h4v4h-4zM514 323h4v4h-4z"/><path fill="#00ffcc" d="M438 315h4v4h-4zM454 319h4v4h-4z"/><path fill="#00ffb4" d="M446 315h4v4h-4zM466 319h4v4h-4z"/><path fill="#00ff90" d="M462 315h4v4h-4z"/><path fill="#00ff87" d="M498 315h4v4h-4z"/><path fill="#00ff93" d="M506 315h4v4h-4z"/><path fill="#00ffe1" d="M534 315h4v4h-4zM466 323h4v4h-4z"/><path fill="#00fff0" d="M538 315h4v4h-4zM526 319h4v4h-4zM458 323h4v4h-4z"/><path fill="#00edff" d="M546 315h4v4h-4zM430 319h4v4h-4zM462 327h4v4h-4z"/><path fill="#0051ff" d="M394 319h4v4h-4zM418 331h4v4h-4z"/><path fill="#0066ff" d="M398 319h4v4h-4z"/><path fill="#0078ff" d="M402 319h4v4h-4zM418 327h4v4h-4zM538 331h4v4h-4z"/><path fill="#008dff" d="M406 319h4v4h-4zM414 323h4v4h-4z"/><path fill="#009fff" d="M410 319h4v4h-4zM538 327h4v4h-4zM442 331h4v4h-4z"/><path fill="#00b1ff" d="M414 319h4v4h-4zM434 327h4v4h-4zM450 331h4v4h-4z"/><path fill="#00c0ff" d="M418 319h4v4h-4zM458 331h4v4h-4z"/><path fill="#00cfff" d="M422 319h4v4h-4zM534 323h4v4h-4zM446 327h4v4h-4zM470 331h4v4h-4zM494 331h4v4h-4z"/><path fill="#00f9ff" d="M434 319h4v4h-4zM518 323h4v4h-4zM478 327h16v4h-16z"/><path fill="#00ffde" d="M446 319h4v4h-4zM470 323h4v4h-4zM498 323h4v4h-4z"/><path fill="#00ffd5" d="M450 319h4v4h-4z"/><path fill="#00ffba" d="M462 319h4v4h-4z"/><path fill="#00ffff" d="M530 319h4v4h-4z"/><path fill="#00d8ff" d="M542 319h4v4h-4zM450 327h4v4h-4z"/><path fill="#002dff" d="M394 323h4v4h-4z"/><path fill="#0042ff" d="M398 323h4v4h-4zM414 331h4v4h-4z"/><path fill="#0057ff" d="M402 323h4v4h-4zM410 327h4v4h-4z"/><path fill="#0069ff" d="M406 323h4v4h-4zM414 327h4v4h-4zM542 331h4v4h-4z"/><path fill="#007bff" d="M410 323h4v4h-4z"/><path fill="#00abff" d="M422 323h4v4h-4zM534 327h4v4h-4z"/><path fill="#00baff" d="M426 323h4v4h-4zM438 327h4v4h-4zM454 331h4v4h-4z"/><path fill="#00d5ff" d="M434 323h4v4h-4zM518 327h4v4h-4zM482 331h4v4h-4z"/><path fill="#00e1ff" d="M438 323h4v4h-4zM454 327h4v4h-4z"/><path fill="#00eaff" d="M442 323h4v4h-4zM506 327h4v4h-4z"/><path fill="#00ffe7" d="M462 323h4v4h-4z"/><path fill="#00fff3" d="M510 323h4v4h-4z"/><path fill="#00dbff" d="M530 323h4v4h-4z"/><path fill="#00b7ff" d="M542 323h4v4h-4zM530 327h4v4h-4zM514 331h4v4h-4z"/><path fill="#0006ff" d="M394 327h4v4h-4z"/><path fill="#001eff" d="M398 327h4v4h-4zM406 331h4v4h-4z"/><path fill="#0030ff" d="M402 327h4v4h-4zM410 331h4v4h-4z"/><path fill="#0045ff" d="M406 327h4v4h-4z"/><path fill="#0096ff" d="M426 327h4v4h-4zM438 331h4v4h-4z"/><path fill="#00a2ff" d="M430 327h4v4h-4z"/><path fill="#00c6ff" d="M442 327h4v4h-4zM462 331h4v4h-4z"/><path fill="#00f6ff" d="M474 327h4v4h-4zM494 327h4v4h-4z"/><path fill="#00ccff" d="M522 327h4v4h-4zM466 331h4v4h-4zM498 331h4v4h-4z"/><path fill="#0090ff" d="M542 327h4v4h-4zM530 331h4v4h-4z"/><path fill="#0081ff" d="M546 327h4v4h-4z"/><path fill="#0000ff" d="M394 331h8v4h-8z"/><path fill="#000cff" d="M402 331h4v4h-4z"/><path fill="#0063ff" d="M422 331h4v4h-4z"/><path fill="#006fff" d="M426 331h4v4h-4z"/><path fill="#007eff" d="M430 331h4v4h-4z"/><path fill="#008aff" d="M434 331h4v4h-4z"/><path fill="#00a5ff" d="M522 331h4v4h-4z"/><path fill="#0084ff" d="M534 331h4v4h-4z"/><path fill="#005dff" d="M546 331h4v4h-4z"/></g></g>
<path d="M402 311.26 404.07 312.54 405.45 313.37 407.52 314.57 408.9 315.34 410.97 316.47 412.75 317.41 414.42 318.26 416.49 319.28 418.35 320.17 419.94 320.9 422.01 321.82 424.08 322.7 426.15 323.55 428.08 324.31 429.9 325M402 286.75 403.38 287.84 405.03 289.12 406.83 290.46 408.21 291.45 409.82 292.57 411.66 293.81 413.04 294.71 415.11 296.01 416.49 296.84 418.56 298.05 419.94 298.83 422.01 299.96 423.72 300.85 425.46 301.72 427.53 302.72 429.44 303.61 430.99 304.3 433.05 305.18 435.12 306.02 437.19 306.82 439.26 307.58 441.33 308.31 443.4 308.99 445.47 309.64 447.54 310.26 449.61 310.83 451.68 311.37 453.79 311.89 456.51 312.5 458.58 312.93 460.65 313.32 463.41 313.8 465.48 314.11 468.24 314.49 470.31 314.73 473.07 315 475.83 315.22 477.9 315.34 480.66 315.46 483.42 315.53 486.18 315.54 488.94 315.49 491.7 315.39 493.77 315.28 496.53 315.08 499.29 314.82 501.36 314.6 504.12 314.24 506.19 313.94 508.95 313.49 511.02 313.11 513.64 312.58 515.85 312.09 517.92 311.6 519.99 311.08 522.09 310.51 524.47 309.82 526.71 309.13 528.82 308.44 530.81 307.75 532.71 307.06 534.53 306.37 536.55 305.57 538.62 304.7 540 304.11M402 251.49 403.31 253.24 404.38 254.62 405.5 256 406.83 257.56 408.21 259.12 409.59 260.61 410.97 262.04 412.35 263.41 413.73 264.72 415.11 265.99 416.49 267.2 417.92 268.42 419.62 269.8 421.32 271.12 422.7 272.15 424.24 273.25 426.15 274.56 427.53 275.47 429.49 276.7 430.98 277.6 433.02 278.77 434.43 279.54 436.5 280.63 438.32 281.53 439.95 282.3 442.02 283.24 444.09 284.12 446.16 284.95 448.09 285.67 450.03 286.36 452.11 287.05 454.35 287.74 456.51 288.36 458.58 288.9 460.65 289.4 462.72 289.86 465.48 290.41 467.55 290.77 470.31 291.19 472.38 291.45 475.14 291.74 477.21 291.92 479.97 292.09 482.73 292.18 485.49 292.21 488.25 292.18 491.01 292.07 493.77 291.89 495.84 291.71 498.6 291.41 500.67 291.13 503.43 290.71 505.5 290.34 508.14 289.81 510.33 289.32 512.4 288.81 514.47 288.26 516.54 287.66 518.61 287.02 520.68 286.33 522.75 285.59 524.82 284.81 526.89 283.97 528.96 283.09 530.88 282.22 532.41 281.49 534.48 280.46 536.38 279.46 537.93 278.6 540 277.41M421.91 187 421.32 189.52 420.88 191.83 420.58 193.9 420.3 196.66 420.15 199.42 420.15 202.18 420.29 204.94 420.57 207.7 420.87 209.77 421.32 212.14 421.9 214.6 422.48 216.67 423.15 218.74 423.91 220.81 424.77 222.88 425.46 224.41 426.41 226.33 427.53 228.39 428.35 229.78 429.6 231.74 430.63 233.23 431.67 234.66 433.05 236.41 434.43 238.05 435.69 239.44 437.02 240.82 438.43 242.2 439.94 243.58 441.33 244.77 442.71 245.89 444.2 247.03 446.13 248.41 447.54 249.35 449.34 250.48 450.99 251.45 453.02 252.55 454.44 253.27 456.51 254.24 458.58 255.13 460.65 255.94 462.72 256.68 464.79 257.34 466.86 257.93 468.93 258.46 471 258.92 473.76 259.43 475.83 259.74 478.59 260.06 480.66 260.22 483.42 260.35 486.18 260.37 488.94 260.29 491.19 260.14 493.77 259.88 496.53 259.5 498.6 259.14 500.67 258.72 503.37 258.07 505.5 257.48 507.57 256.83 509.64 256.11 511.71 255.32 513.39 254.62 515.16 253.82 517.23 252.81 519.04 251.86 520.68 250.93 522.56 249.79 524.13 248.77 525.65 247.72 527.51 246.34 528.96 245.19 530.34 244.04 531.72 242.81 533.1 241.51 534.48 240.13 535.86 238.65 537.24 237.07 538.62 235.37 539.72 233.92 540 233.54" fill="none" stroke="#000" stroke-opacity="0.62" stroke-width="0.9" stroke-linejoin="round" clip-path="url(#c6)"/>
<rect x="402" y="187" width="138" height="138" fill="none" stroke="#3a3020" stroke-opacity="0.75" stroke-width="0.6"/>
<text x="402" y="335.3" font-size="4.9" text-anchor="middle">10.00</text>
<text x="429.6" y="335.3" font-size="4.9" text-anchor="middle">12.00</text>
<text x="457.2" y="335.3" font-size="4.9" text-anchor="middle">14.00</text>
<text x="484.8" y="335.3" font-size="4.9" text-anchor="middle">16.00</text>
<text x="512.4" y="335.3" font-size="4.9" text-anchor="middle">18.00</text>
<text x="540" y="335.3" font-size="4.9" text-anchor="middle">20.00</text>
<text x="471" y="344.5" font-size="5.19" text-anchor="middle">C: Liquid&amp;Solid ratio</text>
<text x="397.8" y="326.76" font-size="4.9" text-anchor="end">0.40</text>
<text x="397.8" y="292.26" font-size="4.9" text-anchor="end">0.50</text>
<text x="397.8" y="257.76" font-size="4.9" text-anchor="end">0.60</text>
<text x="397.8" y="223.26" font-size="4.9" text-anchor="end">0.70</text>
<text x="397.8" y="188.76" font-size="4.9" text-anchor="end">0.80</text>
<path d="M402 325v3M429.6 325v3M457.2 325v3M484.8 325v3M512.4 325v3M540 325v3M402 325h-3.5M402 290.5h-3.5M402 256h-3.5M402 221.5h-3.5M402 187h-3.5" stroke="#444" stroke-width="0.5" fill="none"/>
<text transform="translate(380.3 256.5) rotate(-90)" font-size="5.19" text-anchor="middle">D: Enzyme concentration (%)</text>
<text x="471" y="183.7" font-size="5.63" text-anchor="middle">Yield(mg/g)</text>
<circle cx="402" cy="187" r="1.6" fill="#860a14"/>
<circle cx="540" cy="187" r="1.6" fill="#860a14"/>
<circle cx="402" cy="325" r="1.6" fill="#860a14"/>
<circle cx="540" cy="325" r="1.6" fill="#860a14"/>
<circle cx="471" cy="256" r="1.6" fill="#860a14"/>
<text x="468.2" y="257.8" font-size="5" text-anchor="end" fill="#4a2c2c">5</text>
<rect x="458.3" y="249.9" width="7.2" height="7.2" fill="#fbfbff" stroke="#55553c" stroke-width="0.6"/><text x="461.9" y="255.35" font-size="5.1" text-anchor="middle" fill="#3c3c6a">68</text>
<rect x="456.9" y="282.9" width="7.2" height="7.2" fill="#fbfbff" stroke="#55553c" stroke-width="0.6"/><text x="460.5" y="288.35" font-size="5.1" text-anchor="middle" fill="#3c3c6a">66</text>
<rect x="460.2" y="306.8" width="7.2" height="7.2" fill="#fbfbff" stroke="#55553c" stroke-width="0.6"/><text x="463.8" y="312.25" font-size="5.1" text-anchor="middle" fill="#3c3c6a">64</text>
<rect x="412" y="311.1" width="7.2" height="7.2" fill="#fbfbff" stroke="#55553c" stroke-width="0.6"/><text x="415.6" y="316.55" font-size="5.1" text-anchor="middle" fill="#3c3c6a">62</text></svg></body></html>
